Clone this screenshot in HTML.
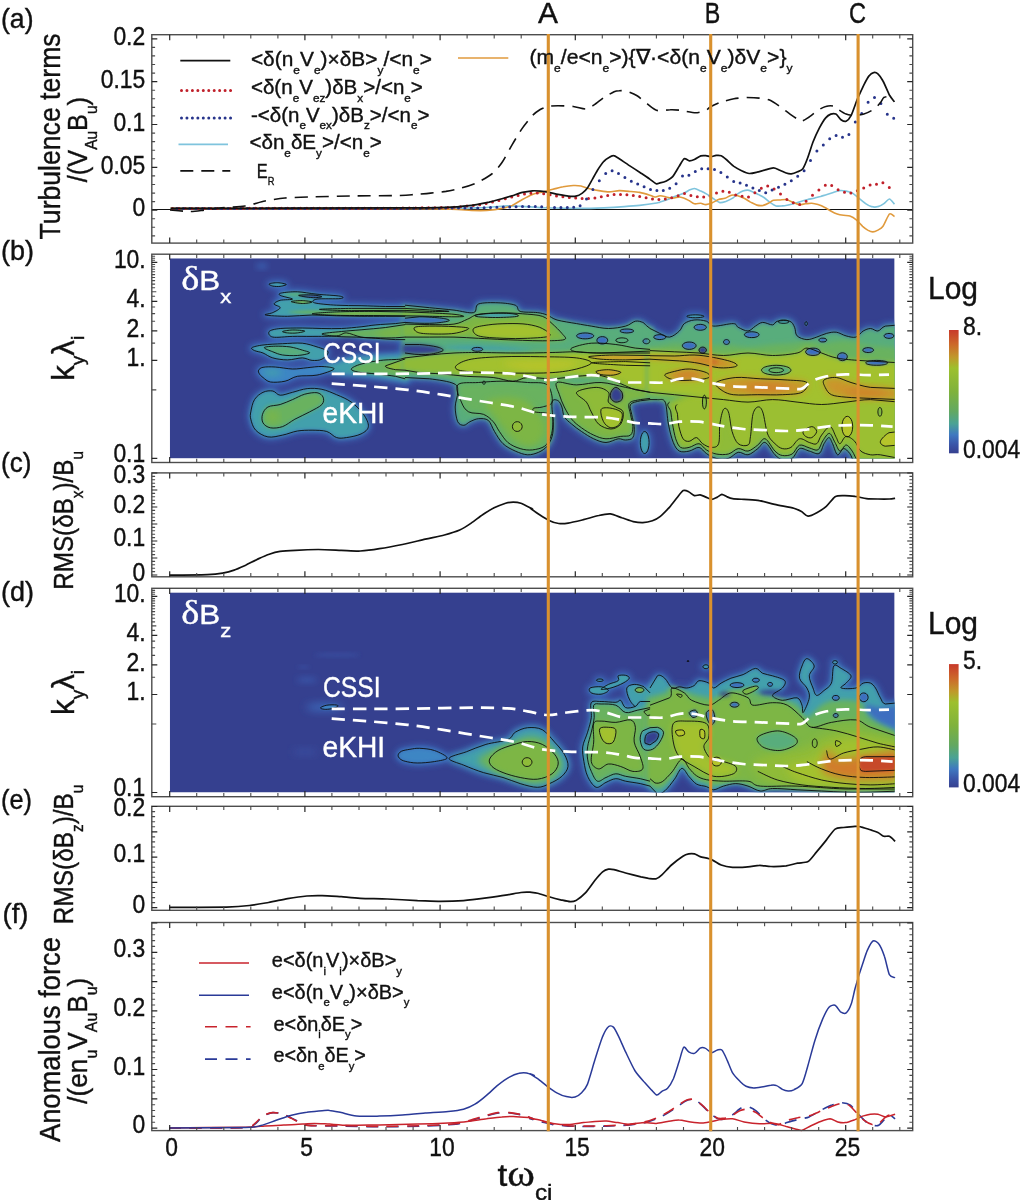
<!DOCTYPE html>
<html><head><meta charset="utf-8"><title>Figure</title>
<style>html,body{margin:0;padding:0;background:#fff}svg{display:block}text{font-family:"Liberation Sans", sans-serif;stroke-width:0.4px}</style>
</head><body>
<svg width="1020" height="1200" viewBox="0 0 1020 1200" fill="#111">
<defs>
<filter id="b05" x="-20%" y="-100%" width="140%" height="300%"><feGaussianBlur stdDeviation="0.5"/></filter>
<filter id="b08" x="-20%" y="-100%" width="140%" height="300%"><feGaussianBlur stdDeviation="0.8"/></filter>
<filter id="b1" x="-20%" y="-100%" width="140%" height="300%"><feGaussianBlur stdDeviation="1.0"/></filter>
<filter id="b15" x="-20%" y="-100%" width="140%" height="300%"><feGaussianBlur stdDeviation="1.5"/></filter>
<filter id="b2" x="-20%" y="-100%" width="140%" height="300%"><feGaussianBlur stdDeviation="2.0"/></filter>
<filter id="b25" x="-20%" y="-100%" width="140%" height="300%"><feGaussianBlur stdDeviation="2.5"/></filter>
<filter id="b3" x="-20%" y="-100%" width="140%" height="300%"><feGaussianBlur stdDeviation="3.0"/></filter>
<filter id="b35" x="-20%" y="-100%" width="140%" height="300%"><feGaussianBlur stdDeviation="3.5"/></filter>
<filter id="b4" x="-20%" y="-100%" width="140%" height="300%"><feGaussianBlur stdDeviation="4.0"/></filter>
<filter id="b5" x="-20%" y="-100%" width="140%" height="300%"><feGaussianBlur stdDeviation="5.0"/></filter>
<linearGradient id="cb" x1="0" y1="0" x2="0" y2="1"><stop offset="0" stop-color="#c8392a"/><stop offset="0.12" stop-color="#cc6a2a"/><stop offset="0.22" stop-color="#c0982b"/><stop offset="0.31" stop-color="#9dc02e"/><stop offset="0.5" stop-color="#7fb23c"/><stop offset="0.66" stop-color="#62a862"/><stop offset="0.76" stop-color="#4aa295"/><stop offset="0.85" stop-color="#3f78c0"/><stop offset="0.93" stop-color="#3a55a8"/><stop offset="1" stop-color="#36408f"/></linearGradient>
<clipPath id="cpb"><rect x="169.8" y="258.3" width="724.8" height="200.1"/></clipPath>
<clipPath id="cpd"><rect x="169.8" y="592.4" width="724.8" height="200.1"/></clipPath>
</defs>
<rect width="1020" height="1200" fill="#fff"/>
<g clip-path="url(#cpb)">
<rect x="169.8" y="258.3" width="724.8" height="200.1" fill="#35408f"/>
<g filter="url(#b3)" fill="#3c6ec0" stroke="#3c6ec0" stroke-width="5" stroke-linejoin="round">
<path d="M250.8 411.9C251.4 408.6 252.4 402.9 254.5 399.6C256.5 396.3 260 393.7 263 392.3C266.1 390.8 270 390.5 272.8 391C275.7 391.5 276.9 395 280.2 395.2C283.5 395.4 288 393.4 292.5 392.3C296.9 391.2 302.3 389.1 307.2 388.6C312.1 388.1 317 388.3 321.9 389.3C326.8 390.3 331.7 392.6 336.6 394.7C341.5 396.8 346.8 398.8 351.3 402.1C355.8 405.3 360.7 410.2 363.5 414.3C366.4 418.4 368.8 423.3 368.4 426.6C368 429.8 364.8 432.1 361.1 433.9C357.4 435.8 350.5 437 346.4 437.6C342.3 438.2 339.8 438.6 336.6 437.6C333.3 436.6 330.8 432.7 326.8 431.5C322.7 430.2 317 430.3 312.1 430.2C307.2 430.2 302.3 430.2 297.4 431C292.5 431.8 287.5 434.2 282.6 435.1C277.7 436.1 272.4 437.7 267.9 436.9C263.4 436 258.5 433.2 255.7 430.2C252.8 427.3 251.6 422.3 250.8 419.2C250 416.2 250.2 415.1 250.8 411.9Z"/>
<path d="M258.6 370.2C259.2 369.1 260.3 367.8 263 367.3C265.8 366.7 270.4 366.7 275.3 367C280.2 367.3 287.1 368.8 292.5 369C297.8 369.1 302.3 368.2 307.2 367.7C312.1 367.3 317.4 366.3 321.9 366.5C326.4 366.7 334.9 367.5 334.1 369C333.3 370.4 323.1 373.9 317 375.1C310.8 376.3 302.7 375.3 297.4 376.3C292 377.3 289.6 380.3 285.1 381.2C280.6 382.2 274.1 382.6 270.4 382C266.7 381.3 264.9 378.9 263 377.5C261.2 376.2 260.1 375.1 259.4 373.9C258.6 372.6 258 371.3 258.6 370.2Z"/>
<path d="M252 347.6C253.4 346.7 257.9 345.6 263 345C268.1 344.3 276.1 344 282.6 343.7C289.2 343.4 296.5 342.7 302.3 343.2C308 343.8 312.7 345.5 317 346.9C321.3 348.3 327.2 349.8 328 351.8C328.8 353.9 324.5 357.7 321.9 359.2C319.2 360.6 315.3 360.6 312.1 360.4C308.8 360.2 306.3 358 302.3 357.9C298.2 357.9 292.5 359.9 287.5 359.9C282.6 359.9 276.9 359.1 272.8 357.9C268.8 356.8 266.1 354.3 263 353C260 351.8 256.3 351.5 254.5 350.6C252.6 349.7 250.6 348.6 252 347.6Z"/>
<path d="M269.2 331.5C270.4 330 274.7 329.1 280.2 328.5C285.7 328 295.3 328 302.3 328C309.2 328 315.3 328.4 321.9 328.5C328.4 328.6 334.9 328.8 341.5 328.5C348 328.2 355.4 327.4 361.1 326.8C366.8 326.2 370.1 325.4 375.8 324.9C381.5 324.3 390 324 395.4 323.6L408.1 322.4L408.1 339.6L395.4 339.6C390 339.4 381.5 338.7 375.8 338.3C370.1 337.9 366 338 361.1 337.1C356.2 336.2 350.5 333.1 346.4 332.9C342.3 332.7 342.3 335.3 336.6 335.9C330.8 336.5 319.4 336.3 312.1 336.4C304.7 336.5 299 336.2 292.5 336.4C285.9 336.5 276.7 337.9 272.8 337.1C269 336.3 267.9 332.9 269.2 331.5Z"/>
<path d="M265.5 315C263 314.4 270.4 313.8 272.8 312.6C275.3 311.4 280 309.1 280.2 307.7C280.4 306.3 274.1 305.2 274.1 304C274.1 302.8 277.1 301.2 280.2 300.3C283.3 299.5 292.5 299.9 292.5 299.1C292.5 298.3 282 296.5 280.2 295.4C278.4 294.4 278.6 293.6 281.4 293C284.3 292.4 291.4 291.6 297.4 291.8C303.3 292 309.8 293.5 317 294.2C324.1 295 336.4 295.4 340.2 296.2C344.1 296.9 344.1 298.1 340.2 298.6C336.4 299.1 321.3 298.4 317 299.1C312.7 299.8 311.2 301.8 314.5 302.8C317.8 303.8 328.8 304.8 336.6 305.2C344.3 305.7 352.9 305.5 361.1 305.7C369.2 305.9 377.7 306.3 385.6 306.5L408.1 306.5L408.1 316.3L385.6 316.3C377.7 316.3 369.2 316.4 361.1 316.3C352.9 316.2 344.7 316 336.6 315.8C328.4 315.6 320.2 315 312.1 315C303.9 315.1 295.3 316.3 287.5 316.3C279.8 316.3 267.9 315.7 265.5 315Z"/>
<path d="M269.2 283.9C270 283.3 274.9 282.6 277.7 282.7C280.6 282.8 285.9 283.8 286.3 284.4C286.7 285 282.4 286.1 280.2 286.4C277.9 286.7 274.7 286.5 272.8 286.1C271 285.7 268.3 284.5 269.2 283.9Z"/>
<path d="M321.9 366.5C321.9 364.8 331.7 364.3 336.6 362.8C341.5 361.4 345.6 359.1 351.3 357.9C357 356.8 364.3 356.5 370.9 356C377.4 355.5 384.3 355.3 390.5 355L408.1 354.3L408.1 382L385.6 378.3C377.7 377.2 369.2 376.4 361.1 375.6C352.9 374.7 343.1 374.6 336.6 373.1C330 371.6 321.9 368.2 321.9 366.5Z"/>
<path d="M402.1 305.2L429.5 307.7C438.2 308.5 446.7 309.3 454 310.1C461.4 311 469.5 313.6 473.6 312.6C477.7 311.6 474.4 305.7 478.5 304C482.6 302.4 492 302.6 498.1 302.8C504.3 303 511.6 303.8 515.3 305.2C519 306.7 516.5 310.1 520.2 311.4C523.9 312.6 532.9 312 537.4 312.6C541.8 313.2 543.9 313.8 547.2 315C550.4 316.3 552.1 318.5 557 320C561.9 321.4 570.8 322.6 576.6 323.6C582.3 324.6 586 325.3 591.3 326.1C596.6 326.9 602.7 328.5 608.4 328.5C614.2 328.5 621.1 327.3 625.6 326.1C630.1 324.9 632.5 321.8 635.4 321.2C638.3 320.6 640.9 321.7 642.7 322.4C644.6 323.1 644.7 324.6 646.4 325.6L653 328.5L653 399.6L640.3 400.8C636.5 401.7 631.9 402.3 630.5 404.5C629.1 406.8 631.1 410.6 631.7 414.3C632.3 418 634 422.7 634.2 426.6C634.4 430.4 634.4 435.4 632.9 437.6C631.5 439.8 628 439.8 625.6 440C623.1 440.3 621.5 438.4 618.2 438.8C615 439.2 610.1 442.5 606 442.5C601.9 442.5 597.8 440.7 593.7 438.8C589.6 437 585.1 433.9 581.5 431.5C577.8 429 574.5 426.6 571.7 424.1C568.8 421.7 565.9 419.6 564.3 416.8C562.7 413.9 562.9 409.6 561.9 407C560.8 404.3 559.8 401.7 558.2 400.8C556.6 400 552.9 398.2 552.1 402.1C551.2 405.9 553.3 418.4 553.3 424.1C553.3 429.8 553.1 432.7 552.1 436.4C551 440 549.4 443.5 547.2 446.2C544.9 448.8 541.8 450.9 538.6 452.3C535.3 453.7 531.4 455 527.5 454.8C523.7 454.6 519.4 452.9 515.3 451.1C511.2 449.2 506.5 447 503 443.7C499.6 440.5 496.9 435.4 494.5 431.5C492 427.6 491 422.6 488.3 420.4C485.7 418.3 481.6 418.5 478.5 418.7C475.5 418.9 472.4 420.6 470 421.7C467.5 422.8 465.9 425.3 463.8 425.3C461.8 425.3 459.1 424.7 457.7 421.7C456.3 418.6 455.2 411.9 455.2 407C455.2 402.1 457.9 396.1 457.7 392.3C457.5 388.4 458.7 385.9 454 383.7C449.3 381.4 438.2 379.8 429.5 378.8L402.1 377.5L402.1 305.2Z"/>
<path d="M649.1 442.5C649.1 444.3 648.9 446.4 648.5 448C648.2 449.6 647.5 451.1 646.9 452.1C646.3 453 645.4 453.5 644.7 453.5C644 453.5 643.1 453 642.5 452.1C641.9 451.1 641.3 449.6 640.9 448C640.5 446.4 640.3 444.3 640.3 442.5C640.3 440.7 640.5 438.6 640.9 437C641.3 435.4 641.9 433.9 642.5 432.9C643.1 432 644 431.5 644.7 431.5C645.4 431.5 646.3 432 646.9 432.9C647.5 433.9 648.2 435.4 648.5 437C648.9 438.6 649.1 440.7 649.1 442.5Z"/>
<path d="M647.1 328.5L659.8 333.4C663.6 334.9 666.3 337.5 669.6 337.1C672.9 336.7 677 333.2 679.4 331C681.9 328.7 681.9 325.5 684.3 323.6C686.8 321.8 690.4 320.4 694.1 320C697.8 319.5 703.1 320.2 706.4 321.2C709.6 322.2 709.2 325.7 713.7 326.1C718.2 326.5 729.2 323.4 733.3 323.6C737.4 323.8 735.8 326.1 738.2 327.3C740.7 328.5 745.2 331.2 748 331C750.9 330.8 752.9 327.5 755.4 326.1C757.8 324.6 759.9 322.6 762.7 322.4C765.6 322.2 770.1 325.1 772.5 324.9C775 324.6 774.6 321.8 777.5 321.2C780.3 320.6 786.8 320.2 789.7 321.2C792.6 322.2 793.4 324.9 794.6 327.3C795.8 329.8 795 333.8 797.1 335.9C799.1 337.9 803.6 339.4 806.9 339.6C810.1 339.8 813.4 338.1 816.7 337.1C819.9 336.1 823.2 334.2 826.5 333.4C829.7 332.6 833 331.8 836.3 332.2C839.5 332.6 842.8 335.1 846.1 335.9C849.3 336.7 853 337.9 855.9 337.1C858.7 336.3 860.8 332.4 863.2 331C865.7 329.6 868.1 328.5 870.6 328.5C873 328.5 875.5 331.4 877.9 331C880.4 330.6 881.7 327.1 885.3 326.1L899.5 324.9L899.5 465.8L870.6 465.8C863.3 465.4 859.4 465.4 855.9 463.3C852.4 461.3 851.8 456 849.8 453.5C847.7 451.1 845.7 448.4 843.6 448.6C841.6 448.8 839.3 455.6 837.5 454.8C835.7 453.9 834 446.6 832.6 443.7C831.2 440.9 830.4 437.6 828.9 437.6C827.5 437.6 825.7 441.1 824 443.7C822.4 446.4 821.6 452.3 819.1 453.5C816.7 454.8 812.6 451.9 809.3 451.1C806 450.3 802.4 447.4 799.5 448.6C796.7 449.9 795 456.6 792.2 458.4C789.3 460.3 785.2 460.3 782.4 459.7C779.5 459 777.9 457.6 775 454.8C772.1 451.9 768.1 443.5 765.2 442.5C762.3 441.5 760.7 446.6 757.8 448.6C755 450.7 751.3 454.1 748 454.8C744.8 455.4 741.5 451.7 738.2 452.3C735 452.9 732.1 457.4 728.4 458.4C724.8 459.5 719.9 459.2 716.2 458.4C712.5 457.6 709.2 455.4 706.4 453.5C703.5 451.7 701.9 447.8 699 447.4C696.2 447 692.5 450.5 689.2 451.1C685.9 451.7 682.1 452.5 679.4 451.1C676.8 449.6 675.1 447 673.3 442.5C671.4 438 669.7 430.9 668.4 424.1C667 417.4 667 406.1 665.2 402.1C663.4 398 660.4 400 657.4 399.6L647.1 399.6L647.1 328.5Z"/>
<path d="M789 321.7C789 322 788.6 322.4 787.9 322.7C787.3 322.9 786.2 323.2 785.2 323.3C784.2 323.4 782.9 323.4 781.9 323.3C780.9 323.2 779.8 322.9 779.2 322.7C778.6 322.4 778.2 322 778.2 321.7C778.2 321.3 778.6 320.9 779.2 320.7C779.8 320.4 780.9 320.1 781.9 320C782.9 319.9 784.2 319.9 785.2 320C786.2 320.1 787.3 320.4 787.9 320.7C788.6 320.9 789 321.3 789 321.7Z"/>
<path d="M703.9 316.3C703.9 316.6 703.3 316.9 702.3 317.1C701.3 317.4 699.6 317.6 698 317.7C696.4 317.8 694.3 317.8 692.7 317.7C691.1 317.6 689.4 317.4 688.4 317.1C687.4 316.9 686.8 316.6 686.8 316.3C686.8 316 687.4 315.6 688.4 315.4C689.4 315.2 691.1 315 692.7 314.9C694.3 314.8 696.4 314.8 698 314.9C699.6 315 701.3 315.2 702.3 315.4C703.3 315.6 703.9 316 703.9 316.3Z"/>
</g>
<path d="M250.8 411.9C251.4 408.6 252.4 402.9 254.5 399.6C256.5 396.3 260 393.7 263 392.3C266.1 390.8 270 390.5 272.8 391C275.7 391.5 276.9 395 280.2 395.2C283.5 395.4 288 393.4 292.5 392.3C296.9 391.2 302.3 389.1 307.2 388.6C312.1 388.1 317 388.3 321.9 389.3C326.8 390.3 331.7 392.6 336.6 394.7C341.5 396.8 346.8 398.8 351.3 402.1C355.8 405.3 360.7 410.2 363.5 414.3C366.4 418.4 368.8 423.3 368.4 426.6C368 429.8 364.8 432.1 361.1 433.9C357.4 435.8 350.5 437 346.4 437.6C342.3 438.2 339.8 438.6 336.6 437.6C333.3 436.6 330.8 432.7 326.8 431.5C322.7 430.2 317 430.3 312.1 430.2C307.2 430.2 302.3 430.2 297.4 431C292.5 431.8 287.5 434.2 282.6 435.1C277.7 436.1 272.4 437.7 267.9 436.9C263.4 436 258.5 433.2 255.7 430.2C252.8 427.3 251.6 422.3 250.8 419.2C250 416.2 250.2 415.1 250.8 411.9Z" fill="#43a0ac" filter="url(#b2)"/>
<path d="M262.5 414.3C263.4 411.7 265 408.6 267.9 407C270.9 405.3 276.1 405.7 280.2 404.5C284.3 403.3 288.4 401.3 292.5 399.6C296.5 397.9 300.6 395.4 304.7 394.2C308.8 393.1 313.9 392.3 317 392.7C320 393.2 322.3 395.2 323.1 397.2C323.9 399.1 324.1 402.1 321.9 404.5C319.6 407 314.1 409.4 309.6 411.9C305.1 414.3 299.4 416.8 294.9 419.2C290.4 421.7 286.7 425.1 282.6 426.6C278.6 428 273.7 428.4 270.4 427.8C267.1 427.2 264.3 425.1 263 422.9C261.7 420.6 261.7 417 262.5 414.3Z" fill="#69b25e" filter="url(#b2)"/>
<path d="M279 416.8C279 417.8 278.5 419.1 277.8 419.9C277.1 420.8 275.9 421.6 274.7 421.9C273.6 422.2 272.1 422.2 270.9 421.9C269.8 421.6 268.6 420.8 267.9 419.9C267.2 419.1 266.7 417.8 266.7 416.8C266.7 415.7 267.2 414.4 267.9 413.6C268.6 412.7 269.8 412 270.9 411.6C272.1 411.3 273.6 411.3 274.7 411.6C275.9 412 277.1 412.7 277.8 413.6C278.5 414.4 279 415.7 279 416.8Z" fill="#7db644" filter="url(#b4)"/>
<path d="M258.6 370.2C259.2 369.1 260.3 367.8 263 367.3C265.8 366.7 270.4 366.7 275.3 367C280.2 367.3 287.1 368.8 292.5 369C297.8 369.1 302.3 368.2 307.2 367.7C312.1 367.3 317.4 366.3 321.9 366.5C326.4 366.7 334.9 367.5 334.1 369C333.3 370.4 323.1 373.9 317 375.1C310.8 376.3 302.7 375.3 297.4 376.3C292 377.3 289.6 380.3 285.1 381.2C280.6 382.2 274.1 382.6 270.4 382C266.7 381.3 264.9 378.9 263 377.5C261.2 376.2 260.1 375.1 259.4 373.9C258.6 372.6 258 371.3 258.6 370.2Z" fill="#3d86c4" filter="url(#b15)"/>
<path d="M263 371.4C264.1 370.5 269.6 369.6 272.8 369.7C276.1 369.8 282.2 371.2 282.6 372.2C283.1 373.1 277.9 375.1 275.3 375.6C272.6 376.1 268.8 375.8 266.7 375.1C264.7 374.4 262 372.3 263 371.4Z" fill="#43a0ac" filter="url(#b3)"/>
<path d="M252 347.6C253.4 346.7 257.9 345.6 263 345C268.1 344.3 276.1 344 282.6 343.7C289.2 343.4 296.5 342.7 302.3 343.2C308 343.8 312.7 345.5 317 346.9C321.3 348.3 327.2 349.8 328 351.8C328.8 353.9 324.5 357.7 321.9 359.2C319.2 360.6 315.3 360.6 312.1 360.4C308.8 360.2 306.3 358 302.3 357.9C298.2 357.9 292.5 359.9 287.5 359.9C282.6 359.9 276.9 359.1 272.8 357.9C268.8 356.8 266.1 354.3 263 353C260 351.8 256.3 351.5 254.5 350.6C252.6 349.7 250.6 348.6 252 347.6Z" fill="#43a0ac" filter="url(#b15)"/>
<path d="M264.3 347.6C264.7 346.7 271 346.3 275.3 346.2C279.6 346.1 285.5 346.3 290 346.9C294.5 347.6 299 349.1 302.3 350.1C305.5 351.1 310.4 352.1 309.6 353C308.8 353.9 301.8 355.2 297.4 355.5C292.9 355.8 286.7 355.6 282.6 355C278.6 354.4 275.9 353 272.8 351.8C269.8 350.6 263.9 348.6 264.3 347.6Z" fill="#58ad7c" filter="url(#b15)"/>
<path d="M269.2 331.5C270.4 330 274.7 329.1 280.2 328.5C285.7 328 295.3 328 302.3 328C309.2 328 315.3 328.4 321.9 328.5C328.4 328.6 334.9 328.8 341.5 328.5C348 328.2 355.4 327.4 361.1 326.8C366.8 326.2 370.1 325.4 375.8 324.9C381.5 324.3 390 324 395.4 323.6L408.1 322.4L408.1 339.6L395.4 339.6C390 339.4 381.5 338.7 375.8 338.3C370.1 337.9 366 338 361.1 337.1C356.2 336.2 350.5 333.1 346.4 332.9C342.3 332.7 342.3 335.3 336.6 335.9C330.8 336.5 319.4 336.3 312.1 336.4C304.7 336.5 299 336.2 292.5 336.4C285.9 336.5 276.7 337.9 272.8 337.1C269 336.3 267.9 332.9 269.2 331.5Z" fill="#43a0ac" filter="url(#b15)"/>
<path d="M321.9 333.9C322.7 333.1 334.9 332.2 341.5 331.5C348 330.8 353.7 330.4 361.1 329.8C368.4 329.1 377.7 328.4 385.6 327.5L408.1 324.6L408.1 337.1L395.4 337.8C390 338 382.3 338 375.8 337.8C369.2 337.7 362.7 337.4 356.2 337.1C349.6 336.9 342.3 336.9 336.6 336.4C330.8 335.8 321 334.7 321.9 333.9Z" fill="#69b25e" filter="url(#b15)"/>
<path d="M375.8 332.9C376.6 331.8 385.1 330.3 390.5 329.3L408.1 326.6L408.1 335.9L385.6 336.4C380.2 335.9 375 334.1 375.8 332.9Z" fill="#7db644" filter="url(#b3)"/>
<path d="M282.6 331.5C283.5 331 288.8 330.1 292.5 330C296.1 329.9 303.9 330.5 304.7 331C305.5 331.5 300.2 332.6 297.4 332.9C294.5 333.3 290 333.2 287.5 332.9C285.1 332.7 281.8 332 282.6 331.5Z" fill="#58ad7c" filter="url(#b15)"/>
<path d="M265.5 315C263 314.4 270.4 313.8 272.8 312.6C275.3 311.4 280 309.1 280.2 307.7C280.4 306.3 274.1 305.2 274.1 304C274.1 302.8 277.1 301.2 280.2 300.3C283.3 299.5 292.5 299.9 292.5 299.1C292.5 298.3 282 296.5 280.2 295.4C278.4 294.4 278.6 293.6 281.4 293C284.3 292.4 291.4 291.6 297.4 291.8C303.3 292 309.8 293.5 317 294.2C324.1 295 336.4 295.4 340.2 296.2C344.1 296.9 344.1 298.1 340.2 298.6C336.4 299.1 321.3 298.4 317 299.1C312.7 299.8 311.2 301.8 314.5 302.8C317.8 303.8 328.8 304.8 336.6 305.2C344.3 305.7 352.9 305.5 361.1 305.7C369.2 305.9 377.7 306.3 385.6 306.5L408.1 306.5L408.1 316.3L385.6 316.3C377.7 316.3 369.2 316.4 361.1 316.3C352.9 316.2 344.7 316 336.6 315.8C328.4 315.6 320.2 315 312.1 315C303.9 315.1 295.3 316.3 287.5 316.3C279.8 316.3 267.9 315.7 265.5 315Z" fill="#43a0ac" filter="url(#b15)"/>
<path d="M312.1 313.8C312.1 313.3 326.4 312.3 336.6 311.9C346.8 311.5 361.4 311.4 373.3 311.4L408.1 311.9L408.1 315.8L373.3 315.5C361.4 315.5 346.8 315.6 336.6 315.3C326.4 315 312.1 314.4 312.1 313.8Z" fill="#7db644" filter="url(#b1)"/>
<path d="M319.4 309.4C319.4 309 336.5 308.6 351.3 308.4L408.1 308.4L408.1 310.4L351.3 310.6C336.5 310.5 319.4 309.8 319.4 309.4Z" fill="#7db644" filter="url(#b1)"/>
<path d="M287.5 311.9C287.5 311.3 303.9 310.4 312.1 310.4C320.2 310.4 336.6 311.3 336.6 311.9C336.6 312.4 320.2 313.8 312.1 313.8C303.9 313.8 287.5 312.4 287.5 311.9Z" fill="#69b25e" filter="url(#b15)"/>
<path d="M282.6 294.2C282.6 293.6 291.6 292.6 297.4 292.7C303.1 292.9 317 294.4 317 295C317 295.5 303.1 296.3 297.4 296.2C291.6 296.1 282.6 294.8 282.6 294.2Z" fill="#58ad7c" filter="url(#b15)"/>
<path d="M298.6 295.4C298.6 295 308.2 294.7 312.1 295C315.9 295.2 321.9 296.2 321.9 296.7C321.9 297.1 315.9 297.9 312.1 297.6C308.2 297.4 298.6 295.9 298.6 295.4Z" fill="#35408f" filter="url(#b1)"/>
<path d="M291.2 301.6C291.2 301.1 298.8 300.5 302.3 300.6C305.7 300.7 312.1 301.6 312.1 302.1C312.1 302.5 305.7 303.6 302.3 303.5C298.8 303.4 291.2 302.1 291.2 301.6Z" fill="#7db644" filter="url(#b1)"/>
<path d="M269.2 283.9C270 283.3 274.9 282.6 277.7 282.7C280.6 282.8 285.9 283.8 286.3 284.4C286.7 285 282.4 286.1 280.2 286.4C277.9 286.7 274.7 286.5 272.8 286.1C271 285.7 268.3 284.5 269.2 283.9Z" fill="#43a0ac" filter="url(#b1)"/>
<path d="M267.9 266C267.9 266.4 267.5 266.9 266.8 267.2C266.1 267.5 264.8 267.8 263.7 267.9C262.6 268 261.1 268 259.9 267.9C258.8 267.8 257.6 267.5 256.9 267.2C256.2 266.9 255.7 266.4 255.7 266C255.7 265.6 256.2 265.2 256.9 264.9C257.6 264.6 258.8 264.3 259.9 264.2C261.1 264 262.6 264 263.7 264.2C264.8 264.3 266.1 264.6 266.8 264.9C267.5 265.2 267.9 265.6 267.9 266Z" fill="#3c6ec0" filter="url(#b3)"/>
<path d="M321.9 366.5C321.9 364.8 331.7 364.3 336.6 362.8C341.5 361.4 345.6 359.1 351.3 357.9C357 356.8 364.3 356.5 370.9 356C377.4 355.5 384.3 355.3 390.5 355L408.1 354.3L408.1 382L385.6 378.3C377.7 377.2 369.2 376.4 361.1 375.6C352.9 374.7 343.1 374.6 336.6 373.1C330 371.6 321.9 368.2 321.9 366.5Z" fill="#43a0ac" filter="url(#b25)"/>
<path d="M351.3 369C351.7 367.6 356.2 365.5 361.1 364.1C366 362.6 374.2 361.2 380.7 360.4C387.2 359.6 395.7 359.6 400.3 359.2L408.1 357.9L408.1 378.8L395.4 376.3C390 375.5 381.9 374.6 375.8 373.9C369.7 373.2 362.7 373 358.6 372.2C354.5 371.3 350.9 370.3 351.3 369Z" fill="#69b25e" filter="url(#b15)"/>
<path d="M385.6 365.8L408.1 358.9L408.1 370.2L395.4 369.7C391.6 369 383.5 367.6 385.6 365.8Z" fill="#8fbb38" filter="url(#b15)"/>
<path d="M402.1 305.2L429.5 307.7C438.2 308.5 446.7 309.3 454 310.1C461.4 311 469.5 313.6 473.6 312.6C477.7 311.6 474.4 305.7 478.5 304C482.6 302.4 492 302.6 498.1 302.8C504.3 303 511.6 303.8 515.3 305.2C519 306.7 516.5 310.1 520.2 311.4C523.9 312.6 532.9 312 537.4 312.6C541.8 313.2 543.9 313.8 547.2 315C550.4 316.3 552.1 318.5 557 320C561.9 321.4 570.8 322.6 576.6 323.6C582.3 324.6 586 325.3 591.3 326.1C596.6 326.9 602.7 328.5 608.4 328.5C614.2 328.5 621.1 327.3 625.6 326.1C630.1 324.9 632.5 321.8 635.4 321.2C638.3 320.6 640.9 321.7 642.7 322.4C644.6 323.1 644.7 324.6 646.4 325.6L653 328.5L653 399.6L640.3 400.8C636.5 401.7 631.9 402.3 630.5 404.5C629.1 406.8 631.1 410.6 631.7 414.3C632.3 418 634 422.7 634.2 426.6C634.4 430.4 634.4 435.4 632.9 437.6C631.5 439.8 628 439.8 625.6 440C623.1 440.3 621.5 438.4 618.2 438.8C615 439.2 610.1 442.5 606 442.5C601.9 442.5 597.8 440.7 593.7 438.8C589.6 437 585.1 433.9 581.5 431.5C577.8 429 574.5 426.6 571.7 424.1C568.8 421.7 565.9 419.6 564.3 416.8C562.7 413.9 562.9 409.6 561.9 407C560.8 404.3 559.8 401.7 558.2 400.8C556.6 400 552.9 398.2 552.1 402.1C551.2 405.9 553.3 418.4 553.3 424.1C553.3 429.8 553.1 432.7 552.1 436.4C551 440 549.4 443.5 547.2 446.2C544.9 448.8 541.8 450.9 538.6 452.3C535.3 453.7 531.4 455 527.5 454.8C523.7 454.6 519.4 452.9 515.3 451.1C511.2 449.2 506.5 447 503 443.7C499.6 440.5 496.9 435.4 494.5 431.5C492 427.6 491 422.6 488.3 420.4C485.7 418.3 481.6 418.5 478.5 418.7C475.5 418.9 472.4 420.6 470 421.7C467.5 422.8 465.9 425.3 463.8 425.3C461.8 425.3 459.1 424.7 457.7 421.7C456.3 418.6 455.2 411.9 455.2 407C455.2 402.1 457.9 396.1 457.7 392.3C457.5 388.4 458.7 385.9 454 383.7C449.3 381.4 438.2 379.8 429.5 378.8L402.1 377.5L402.1 305.2Z" fill="#58ad7c" filter="url(#b2)"/>
<path d="M402.1 324.1L429.5 324.6C438.2 324.6 447.7 325 454 324.1C460.4 323.2 463.4 320.8 467.5 319.2C471.6 317.6 472.6 315.4 478.5 314.3C484.5 313.3 495.7 312.9 503 312.8C510.4 312.8 516.1 313.3 522.6 313.8C529.2 314.4 537.4 314.6 542.3 316.3C547.2 317.9 548.8 320.8 552.1 323.6C555.3 326.5 559.8 330.8 561.9 333.4C563.9 336.1 567.6 338.3 564.3 339.6C561 340.8 549.2 340.7 542.3 340.8C535.3 340.9 529.2 340.5 522.6 340.3C516.1 340.1 510.4 339.9 503 339.6C495.7 339.2 486.7 338.7 478.5 338.3C470.4 337.9 462.2 337.3 454 337.1C445.8 336.9 438.2 337.1 429.5 337.1L402.1 337.1L402.1 324.1Z" fill="#7db644" filter="url(#b2)"/>
<path d="M473.6 328.5C475.3 326.7 482.6 325.7 488.3 324.9C494.1 324 501.4 323.7 507.9 323.6C514.5 323.5 521.8 323.5 527.5 324.4C533.3 325.2 538.6 326.6 542.3 328.5C545.9 330.4 552.1 334.2 549.6 335.9C547.2 337.5 535.3 337.9 527.5 338.3C519.8 338.7 511.2 338.7 503 338.3C494.9 337.9 483.4 337.5 478.5 335.9C473.6 334.2 472 330.4 473.6 328.5Z" fill="#a3c12f" filter="url(#b2)"/>
<path d="M414.8 327.3C416.8 326.3 423 326.2 429.5 326.1C436 326 447.5 326.2 454 326.6C460.6 327 468.7 327.4 468.7 328.5C468.7 329.7 460.6 332.5 454 333.4C447.5 334.3 435.6 334.1 429.5 333.9C423.4 333.7 419.7 333.3 417.3 332.2C414.8 331.1 412.8 328.3 414.8 327.3Z" fill="#a3c12f" filter="url(#b2)"/>
<path d="M402.1 311.9L429.5 312.8C438.2 313.3 448.3 313.7 454 314.3C459.7 314.9 463.8 315.9 463.8 316.3C463.8 316.7 459.7 316.8 454 316.8C448.3 316.8 438.2 316.4 429.5 316.3L402.1 315.8L402.1 311.9Z" fill="#7db644" filter="url(#b1)"/>
<path d="M402.1 308.4L429.5 309.9C437.4 310.4 449.1 311.1 449.1 311.4C449.1 311.6 437.4 311.5 429.5 311.4L402.1 310.4L402.1 308.4Z" fill="#7db644" filter="url(#b1)"/>
<path d="M402.1 318.2L419.7 316.8C426.3 316.8 436.9 317.6 441.8 318.2C446.7 318.9 450.3 319.9 449.1 320.7C447.9 321.5 440.1 322.7 434.4 323.1C428.7 323.5 420.2 323.3 414.8 323.1L402.1 322.4L402.1 318.2Z" fill="#3c6ec0" filter="url(#b15)"/>
<path d="M476.1 315C478.5 314.5 487.1 313.5 493.2 313.3C499.4 313.1 508.8 313.3 512.8 313.8C516.9 314.3 520.2 315.7 517.7 316.3C515.3 316.9 504.7 317.4 498.1 317.5C491.6 317.6 482.2 317.2 478.5 316.8C474.9 316.4 473.6 315.6 476.1 315Z" fill="#43a0ac" filter="url(#b1)"/>
<path d="M441.8 346.9C441.8 346 458.1 345.8 466.3 345.7C474.4 345.6 482.6 345.8 490.8 346.2C499 346.6 508.3 347.4 515.3 348.1C522.2 348.9 532.5 349.9 532.5 350.6C532.5 351.3 522.2 352.3 515.3 352.5C508.3 352.8 499 352.1 490.8 351.8C482.6 351.6 474.4 351.9 466.3 351.1C458.1 350.3 441.8 347.8 441.8 346.9Z" fill="#43a0ac" filter="url(#b25)"/>
<path d="M402.1 344.5L419.7 344.5C425.5 344.9 433 345.9 436.9 346.9C440.7 347.9 444.2 349.4 443 350.6C441.8 351.8 434.2 353.7 429.5 354.3C424.8 354.9 419.4 354.5 414.8 354.3L402.1 353L402.1 344.5Z" fill="#35408f" filter="url(#b2)"/>
<path d="M482.7 349.4C482.7 349.7 482.3 350.2 481.7 350.5C481 350.8 480 351.1 479 351.2C478 351.3 476.6 351.3 475.6 351.2C474.6 351.1 473.6 350.8 472.9 350.5C472.3 350.2 471.9 349.7 471.9 349.4C471.9 349 472.3 348.5 472.9 348.2C473.6 347.9 474.6 347.6 475.6 347.5C476.6 347.4 478 347.4 479 347.5C480 347.6 481 347.9 481.7 348.2C482.3 348.5 482.7 349 482.7 349.4Z" fill="#3c6ec0" filter="url(#b1)"/>
<path d="M402.1 357.9L429.5 355C438.2 354.2 445.8 353.4 454 353C462.2 352.6 468.3 352.5 478.5 352.5C488.7 352.5 503 353 515.3 353C527.5 353 541.8 352.8 552.1 352.5C562.3 352.3 568.4 351.7 576.6 351.8C584.7 351.9 588.3 353.2 601.1 353L653 351.1L653 392.3L635.4 389.8C630 388.4 626.4 386 620.7 383.7C615 381.3 608.4 376.8 601.1 375.6C593.7 374.4 584.7 375.8 576.6 376.3C568.4 376.9 560.2 378.6 552.1 378.8C543.9 379 534.1 377.1 527.5 377.5C521 378 518.6 381.2 512.8 381.2C507.1 381.2 501 378.4 493.2 377.5C485.5 376.7 474.9 376.9 466.3 376.3C457.7 375.7 449.5 374.5 441.8 373.9C434 373.3 426.3 373.3 419.7 372.6L402.1 370.2L402.1 357.9Z" fill="#8fbb38" filter="url(#b2)"/>
<path d="M571.7 355.5C577.8 352.3 599.8 354.1 613.3 353.5L653 352.1L653 391L635.4 387.4C630 385.7 626.4 383.3 620.7 381.2C615 379.1 608.4 376 601.1 374.6C593.7 373.2 581.5 375.8 576.6 372.6C571.7 369.5 565.5 358.7 571.7 355.5Z" fill="#a3c12f" filter="url(#b3)"/>
<path d="M456.5 365.3C458.5 363.5 463.4 360.6 471.2 359.2C478.9 357.7 491.6 357.1 503 356.7C514.5 356.3 527.5 356.5 539.8 356.7C552.1 356.9 568 356.9 576.6 357.9C585.1 359 591.3 361 591.3 362.8C591.3 364.7 583.1 367.3 576.6 369C570 370.6 562.3 372 552.1 372.6C541.8 373.3 527.5 373.2 515.3 373.1C503 373.1 487.9 372.6 478.5 372.2C469.1 371.7 462.6 371.3 458.9 370.2C455.2 369.1 454.4 367.1 456.5 365.3Z" fill="#a3c12f" filter="url(#b2)"/>
<path d="M503 362.8C505.1 361.2 527.5 360.6 539.8 360.4C552.1 360.2 572.5 360.2 576.6 361.6C580.7 363 572.5 367.5 564.3 369C556.1 370.4 537.8 371.2 527.5 370.2C517.3 369.2 501 364.5 503 362.8Z" fill="#b6c42c" filter="url(#b3)"/>
<path d="M588.8 356.7C590.9 356 602.6 355.2 613.3 355L653 355.5L653 359.2L625.6 359.9C616.9 359.9 607.2 359.7 601.1 359.2C595 358.6 586.8 357.4 588.8 356.7Z" fill="#cfa02b" filter="url(#b15)"/>
<path d="M596.2 371.4C597.4 370.6 604.3 369.6 608.4 369.7C612.5 369.8 619.9 371.3 620.7 372.2C621.5 373.1 616.6 374.7 613.3 375.1C610.1 375.5 603.9 375.2 601.1 374.6C598.2 374 595 372.2 596.2 371.4Z" fill="#cfa02b" filter="url(#b15)"/>
<path d="M591.3 362.8C591.3 362.2 615.3 361.6 625.6 361.6L653 362.8L653 365.8L625.6 365.3C615.3 364.8 591.3 363.5 591.3 362.8Z" fill="#b6c42c" filter="url(#b15)"/>
<path d="M457.7 384.9C460.6 381.6 471 383.1 478.5 382.5C486.1 381.8 494.9 381.2 503 381.2C511.2 381.2 520.2 381.8 527.5 382.5C534.9 383.1 543.1 381.6 547.2 384.9C551.2 388.2 552.9 398.4 552.1 402.1C551.2 405.7 545.3 405.9 542.3 407C539.2 408 534.9 407.4 533.7 408.2C532.5 409 532 410.8 534.9 411.9C537.8 412.9 547.9 412.3 550.8 414.3C553.8 416.4 552.8 420.4 552.8 424.1C552.8 427.8 552.2 432.7 550.8 436.4C549.5 440 547.8 443.9 544.7 446.2C541.6 448.4 536.5 449.4 532.5 449.9C528.4 450.3 524.3 449.9 520.2 448.6C516.1 447.4 511.4 445.4 507.9 442.5C504.5 439.6 501.8 434.9 499.4 431.5C496.9 428 495.9 424.5 493.2 421.7C490.6 418.8 487.5 415.9 483.4 414.3C479.3 412.7 472.4 413.9 468.7 411.9C465 409.8 463.2 406.6 461.4 402.1C459.5 397.6 454.8 388.2 457.7 384.9Z" fill="#69b25e" filter="url(#b3)"/>
<path d="M485.9 402.1C487.5 399.2 496.9 397.6 503 397.2C509.2 396.7 516.9 397.2 522.6 399.6C528.4 402.1 533.7 407.4 537.4 411.9C541 416.4 544.3 421.7 544.7 426.6C545.1 431.5 542.7 438 539.8 441.3C536.9 444.5 532 446.6 527.5 446.2C523.1 445.8 516.9 442.1 512.8 438.8C508.8 435.6 506.3 430.7 503 426.6C499.8 422.5 496.1 418.4 493.2 414.3C490.4 410.2 484.2 404.9 485.9 402.1Z" fill="#7db644" filter="url(#b3)"/>
<path d="M522.2 426.6C522.2 427.5 521.8 428.7 521.2 429.4C520.7 430.2 519.7 430.9 518.8 431.2C517.9 431.5 516.7 431.5 515.7 431.2C514.8 430.9 513.9 430.2 513.3 429.4C512.7 428.7 512.4 427.5 512.4 426.6C512.4 425.6 512.7 424.5 513.3 423.7C513.9 422.9 514.8 422.2 515.7 421.9C516.7 421.6 517.9 421.6 518.8 421.9C519.7 422.2 520.7 422.9 521.2 423.7C521.8 424.5 522.2 425.6 522.2 426.6Z" fill="#8fbb38" filter="url(#b1)"/>
<path d="M485.4 382.7C485.4 383 485.2 383.5 485 383.7C484.7 384 484.3 384.2 483.9 384.2C483.6 384.2 483.1 384 482.9 383.7C482.6 383.5 482.5 383 482.5 382.7C482.5 382.3 482.6 381.9 482.9 381.7C483.1 381.4 483.6 381.2 483.9 381.2C484.3 381.2 484.7 381.4 485 381.7C485.2 381.9 485.4 382.3 485.4 382.7Z" fill="#58ad7c" filter="url(#b08)"/>
<path d="M557 382.5C559.8 380.8 569.2 384.9 576.6 384.9C583.9 384.9 592.9 382 601.1 382.5C609.2 382.9 616.9 385.7 625.6 387.4L653 392.3L653 398.4L640.3 399.6C636.3 400.4 630.9 400.8 629.3 403.3C627.6 405.7 629.9 410.4 630.5 414.3C631.1 418.2 632.9 423.1 632.9 426.6C632.9 430 632.5 433.5 630.5 435.1C628.4 436.8 624.8 435.8 620.7 436.4C616.6 437 610.5 439 606 438.8C601.5 438.6 597.8 437 593.7 435.1C589.6 433.3 585.1 430.4 581.5 427.8C577.8 425.1 574.5 422.7 571.7 419.2C568.8 415.7 566.4 411 564.3 407C562.3 402.9 560.6 398.8 559.4 394.7C558.2 390.6 554.1 384.1 557 382.5Z" fill="#7db644" filter="url(#b25)"/>
<path d="M576.6 392.3C578.2 389.8 590.9 387.4 596.2 387.4C601.5 387.4 606.4 389.8 608.4 392.3C610.5 394.7 607.2 399.6 608.4 402.1C609.7 404.5 613.3 405.3 615.8 407C618.2 408.6 622.3 409 623.1 411.9C624 414.7 622.7 421.3 620.7 424.1C618.6 427 614.6 429 610.9 429C607.2 429 601.9 427 598.6 424.1C595.4 421.3 593.3 415.5 591.3 411.9C589.2 408.2 588.8 405.3 586.4 402.1C583.9 398.8 574.9 394.7 576.6 392.3Z" fill="#8fbb38" filter="url(#b25)"/>
<path d="M601.1 409.4C602.3 407.2 607.4 407.6 610.9 408.2C614.4 408.8 620.5 410.4 621.9 413.1C623.3 415.7 621.3 421.7 619.5 424.1C617.6 426.6 613.5 428.2 610.9 427.8C608.2 427.4 605.2 424.7 603.5 421.7C601.9 418.6 599.9 411.7 601.1 409.4Z" fill="#a3c12f" filter="url(#b15)"/>
<path d="M610.9 392.3C611.7 390.4 613.9 387.4 615.8 387.4C617.6 387.4 620.9 390.2 621.9 392.3C622.9 394.3 622.9 398 621.9 399.6C620.9 401.2 617.6 402.3 615.8 402.1C613.9 401.9 611.7 400 610.9 398.4C610.1 396.7 610.1 394.1 610.9 392.3Z" fill="#35408f" filter="url(#b15)"/>
<path d="M649.1 442.5C649.1 444.3 648.9 446.4 648.5 448C648.2 449.6 647.5 451.1 646.9 452.1C646.3 453 645.4 453.5 644.7 453.5C644 453.5 643.1 453 642.5 452.1C641.9 451.1 641.3 449.6 640.9 448C640.5 446.4 640.3 444.3 640.3 442.5C640.3 440.7 640.5 438.6 640.9 437C641.3 435.4 641.9 433.9 642.5 432.9C643.1 432 644 431.5 644.7 431.5C645.4 431.5 646.3 432 646.9 432.9C647.5 433.9 648.2 435.4 648.5 437C648.9 438.6 649.1 440.7 649.1 442.5Z" fill="#43a0ac" filter="url(#b15)"/>
<path d="M557 321.2C558.6 318.9 569.2 323.6 576.6 324.9C583.9 326.1 592.9 328.1 601.1 328.5C609.2 328.9 619.9 328.3 625.6 327.3C631.3 326.3 630.8 322 635.4 322.4L653 329.8L653 350.6L625.6 349.4C616.9 349 609.2 348.8 601.1 348.1C592.9 347.5 582.3 347.3 576.6 345.7C570.8 344.1 570 342.4 566.8 338.3C563.5 334.2 555.3 323.4 557 321.2Z" fill="#58ad7c" filter="url(#b25)"/>
<path d="M571.7 348.1C574.1 346.7 583.9 343.8 591.3 343.2C598.6 342.6 608.4 343.6 615.8 344.5C623.1 345.3 629.2 347.3 635.4 348.1L653 349.4L653 353L601.1 353C588.3 352.8 581.5 352.6 576.6 351.8C571.7 351 569.2 349.6 571.7 348.1Z" fill="#69b25e" filter="url(#b2)"/>
<path d="M593.7 335.9C593.7 336.5 593.1 337.1 592.1 337.6C591.1 338.1 589.4 338.5 587.8 338.7C586.2 338.9 584.1 338.9 582.5 338.7C580.9 338.5 579.2 338.1 578.2 337.6C577.2 337.1 576.6 336.5 576.6 335.9C576.6 335.3 577.2 334.6 578.2 334.2C579.2 333.7 580.9 333.3 582.5 333.1C584.1 332.9 586.2 332.9 587.8 333.1C589.4 333.3 591.1 333.7 592.1 334.2C593.1 334.6 593.7 335.3 593.7 335.9Z" fill="#3c6ec0" filter="url(#b1)"/>
<path d="M607.7 340.3C607.7 341 607.3 341.9 606.7 342.5C606 343 605 343.6 604 343.8C603 344 601.6 344 600.6 343.8C599.6 343.6 598.6 343 597.9 342.5C597.3 341.9 596.9 341 596.9 340.3C596.9 339.6 597.3 338.7 597.9 338.1C598.6 337.6 599.6 337 600.6 336.8C601.6 336.6 603 336.6 604 336.8C605 337 606 337.6 606.7 338.1C607.3 338.7 607.7 339.6 607.7 340.3Z" fill="#3c6ec0" filter="url(#b1)"/>
<path d="M628 340.3C628 340.8 627.6 341.3 626.9 341.7C626.2 342.1 624.9 342.5 623.8 342.6C622.7 342.8 621.2 342.8 620 342.6C618.9 342.5 617.7 342.1 617 341.7C616.2 341.3 615.8 340.8 615.8 340.3C615.8 339.8 616.2 339.2 617 338.9C617.7 338.5 618.9 338.1 620 338C621.2 337.8 622.7 337.8 623.8 338C624.9 338.1 626.2 338.5 626.9 338.9C627.6 339.2 628 339.8 628 340.3Z" fill="#58ad7c" filter="url(#b1)"/>
<path d="M633.7 331C633.7 331.4 633.2 331.8 632.4 332.1C631.6 332.4 630.2 332.7 628.9 332.8C627.7 333 626 333 624.7 332.8C623.4 332.7 622.1 332.4 621.3 332.1C620.5 331.8 620 331.4 620 331C620 330.6 620.5 330.1 621.3 329.8C622.1 329.5 623.4 329.2 624.7 329.1C626 329 627.7 329 628.9 329.1C630.2 329.2 631.6 329.5 632.4 329.8C633.2 330.1 633.7 330.6 633.7 331Z" fill="#3c6ec0" filter="url(#b1)"/>
<path d="M649.9 341.3C649.9 341.8 649.6 342.3 649.2 342.7C648.8 343.1 648.1 343.5 647.5 343.6C646.8 343.8 646 343.8 645.4 343.6C644.7 343.5 644 343.1 643.6 342.7C643.3 342.3 643 341.8 643 341.3C643 340.8 643.3 340.2 643.6 339.8C644 339.4 644.7 339.1 645.4 338.9C646 338.8 646.8 338.8 647.5 338.9C648.1 339.1 648.8 339.4 649.2 339.8C649.6 340.2 649.9 340.8 649.9 341.3Z" fill="#3c6ec0" filter="url(#b1)"/>
<path d="M657.9 345.7L657.5 347.7L656.2 348.9L654.7 348.9L653.5 347.7L653 345.7L653.5 343.7L654.7 342.4L656.2 342.4L657.5 343.7L657.9 345.7Z" fill="#35408f" filter="url(#b1)"/>
<path d="M647.1 328.5L659.8 333.4C663.6 334.9 666.3 337.5 669.6 337.1C672.9 336.7 677 333.2 679.4 331C681.9 328.7 681.9 325.5 684.3 323.6C686.8 321.8 690.4 320.4 694.1 320C697.8 319.5 703.1 320.2 706.4 321.2C709.6 322.2 709.2 325.7 713.7 326.1C718.2 326.5 729.2 323.4 733.3 323.6C737.4 323.8 735.8 326.1 738.2 327.3C740.7 328.5 745.2 331.2 748 331C750.9 330.8 752.9 327.5 755.4 326.1C757.8 324.6 759.9 322.6 762.7 322.4C765.6 322.2 770.1 325.1 772.5 324.9C775 324.6 774.6 321.8 777.5 321.2C780.3 320.6 786.8 320.2 789.7 321.2C792.6 322.2 793.4 324.9 794.6 327.3C795.8 329.8 795 333.8 797.1 335.9C799.1 337.9 803.6 339.4 806.9 339.6C810.1 339.8 813.4 338.1 816.7 337.1C819.9 336.1 823.2 334.2 826.5 333.4C829.7 332.6 833 331.8 836.3 332.2C839.5 332.6 842.8 335.1 846.1 335.9C849.3 336.7 853 337.9 855.9 337.1C858.7 336.3 860.8 332.4 863.2 331C865.7 329.6 868.1 328.5 870.6 328.5C873 328.5 875.5 331.4 877.9 331C880.4 330.6 881.7 327.1 885.3 326.1L899.5 324.9L899.5 465.8L870.6 465.8C863.3 465.4 859.4 465.4 855.9 463.3C852.4 461.3 851.8 456 849.8 453.5C847.7 451.1 845.7 448.4 843.6 448.6C841.6 448.8 839.3 455.6 837.5 454.8C835.7 453.9 834 446.6 832.6 443.7C831.2 440.9 830.4 437.6 828.9 437.6C827.5 437.6 825.7 441.1 824 443.7C822.4 446.4 821.6 452.3 819.1 453.5C816.7 454.8 812.6 451.9 809.3 451.1C806 450.3 802.4 447.4 799.5 448.6C796.7 449.9 795 456.6 792.2 458.4C789.3 460.3 785.2 460.3 782.4 459.7C779.5 459 777.9 457.6 775 454.8C772.1 451.9 768.1 443.5 765.2 442.5C762.3 441.5 760.7 446.6 757.8 448.6C755 450.7 751.3 454.1 748 454.8C744.8 455.4 741.5 451.7 738.2 452.3C735 452.9 732.1 457.4 728.4 458.4C724.8 459.5 719.9 459.2 716.2 458.4C712.5 457.6 709.2 455.4 706.4 453.5C703.5 451.7 701.9 447.8 699 447.4C696.2 447 692.5 450.5 689.2 451.1C685.9 451.7 682.1 452.5 679.4 451.1C676.8 449.6 675.1 447 673.3 442.5C671.4 438 669.7 430.9 668.4 424.1C667 417.4 667 406.1 665.2 402.1C663.4 398 660.4 400 657.4 399.6L647.1 399.6L647.1 328.5Z" fill="#58ad7c" filter="url(#b2)"/>
<path d="M647.1 348.1L674.5 343.2C683.2 343 690.8 346.7 699 346.9C707.2 347.1 715.4 344.5 723.5 344.5C731.7 344.5 739.9 346.9 748 346.9C756.2 346.9 764.4 345.2 772.5 344.5C780.7 343.8 791.3 343.4 797.1 342.7C802.8 342.1 802.8 340.7 806.9 340.8C810.9 340.9 815 343.2 821.6 343.2C828.1 343.2 837.9 340.4 846.1 340.8C854.2 341.2 861.7 344.5 870.6 345.7L899.5 348.1L899.5 407L846.1 407C829 407 813.4 407 797.1 407C780.7 407 764.4 407.4 748 407C731.7 406.6 712.5 405.3 699 404.5C685.5 403.7 675.8 403.3 667.2 402.1L647.1 397.2L647.1 348.1Z" fill="#69b25e" filter="url(#b25)"/>
<path d="M669.6 402.1C674.3 399.2 685.9 395.9 699 394.7C712.1 393.5 731.7 394.7 748 394.7C764.4 394.7 780.7 394.7 797.1 394.7C813.4 394.7 829 394.7 846.1 394.7L899.5 394.7L899.5 463.3L870.6 463.3C863.7 462.9 861.4 462.9 858.3 460.9C855.3 458.8 854.2 453.7 852.2 451.1C850.2 448.4 848.1 445 846.1 445C844 445 841.8 451.5 840 451.1C838.1 450.7 836.8 445.4 835 442.5C833.3 439.6 831.5 433.7 829.4 433.4C827.4 433.1 824.7 438 822.8 440.8C820.9 443.5 820.1 448.7 817.9 449.9C815.6 451 812.4 448.7 809.3 447.9C806.2 447.1 802.4 444.2 799.5 445.2C796.7 446.2 795 452.3 792.2 454C789.3 455.7 785.2 456 782.4 455.5C779.5 455 777.9 453.9 775 451.1C772.1 448.3 768.1 439.8 765.2 438.8C762.3 437.8 760.7 442.9 757.8 445C755 447 751.3 450.5 748 451.1C744.8 451.7 741.5 448.1 738.2 448.6C735 449.1 732.1 453.1 728.4 454C724.8 454.9 719.9 454.7 716.2 454C712.5 453.3 709.2 451.6 706.4 449.9C703.5 448.1 701.9 444.1 699 443.7C696.2 443.3 692.3 446.8 689.2 447.4C686.2 448 682.9 448.8 680.6 447.4C678.4 446 677.1 442.7 675.7 438.8C674.4 434.9 673.4 428.6 672.5 424.1C671.7 419.6 671.3 415.5 670.8 411.9C670.3 408.2 664.9 404.9 669.6 402.1Z" fill="#8fbb38" filter="url(#b2)"/>
<path d="M677 404.5C680.6 401.4 687.2 397.4 699 395.9C710.9 394.5 731.7 395.9 748 395.9C764.4 395.9 780.7 395.9 797.1 395.9C813.4 395.9 829 395.9 846.1 395.9L899.5 395.9L899.5 458.4L880.4 454.8C875.6 454.1 873.9 455.4 870.6 454.8C867.3 454.1 863.4 453.3 860.8 451.1C858.1 448.8 857.1 443.7 854.7 441.3C852.2 438.8 848.5 436 846.1 436.4C843.6 436.8 841.6 443.5 840 443.7C838.3 443.9 837.9 440.5 836.3 437.6C834.6 434.7 832.6 427 830.1 426.6C827.7 426.2 823.8 432.3 821.6 435.1C819.3 438 818.7 442.5 816.7 443.7C814.6 445 812.2 443.3 809.3 442.5C806.5 441.7 802.6 438 799.5 438.8C796.4 439.6 793.8 445.8 790.9 447.4C788.1 449 785 449.2 782.4 448.6C779.7 448 777.5 446.2 775 443.7C772.5 441.3 769.7 439.2 767.6 433.9C765.6 428.6 764.4 416.4 762.7 411.9C761.1 407.4 759.5 406.6 757.8 407C756.2 407.4 754.2 409.4 752.9 414.3C751.7 419.2 751.3 431.3 750.5 436.4C749.7 441.5 750.1 443.7 748 445C746 446.2 740.9 446 738.2 443.7C735.6 441.5 733.7 436.8 732.1 431.5C730.5 426.2 729.9 415.5 728.4 411.9C727 408.2 725 407.4 723.5 409.4C722.1 411.5 720.7 418.4 719.9 424.1C719 429.8 720.1 439.8 718.6 443.7C717.2 447.6 713.9 447.4 711.3 447.4C708.6 447.4 705.1 445.4 702.7 443.7C700.2 442.1 698.8 438 696.6 437.6C694.3 437.2 691.5 441.1 689.2 441.3C687 441.5 684.8 441.3 683.1 438.8C681.4 436.4 679.9 430.7 678.9 426.6C678 422.5 677.8 418 677.5 414.3C677.1 410.6 673.4 407.6 677 404.5Z" fill="#9bbf33" filter="url(#b2)"/>
<path d="M647.1 350.6L674.5 351.8C683.2 352.2 690.8 352.4 699 353C707.2 353.7 715.4 355.5 723.5 355.5C731.7 355.5 739.9 353 748 353C756.2 353 764.4 355.5 772.5 355.5C780.7 355.5 791.3 354.3 797.1 353C802.8 351.8 802.8 348.1 806.9 348.1C810.9 348.1 816.7 351.4 821.6 353C826.5 354.7 830.1 356.7 836.3 357.9C842.4 359.2 847.8 359.6 858.3 360.4L899.5 362.8L899.5 402.1L870.6 399.6C861.7 399.6 854.2 401.2 846.1 402.1C837.9 402.9 829.7 404.5 821.6 404.5C813.4 404.5 805.2 402.9 797.1 402.1C788.9 401.2 780.7 399.6 772.5 399.6C764.4 399.6 756.2 402.1 748 402.1C739.9 402.1 731.7 400.4 723.5 399.6C715.4 398.8 707.2 398 699 397.2C690.8 396.3 683.2 395.5 674.5 394.7L647.1 392.3L647.1 350.6Z" fill="#a3c12f" filter="url(#b25)"/>
<path d="M664.7 375.1C664.7 373.7 670.4 372.4 674.5 371.4C678.6 370.4 683.9 368.8 689.2 369C694.5 369.2 703.1 371.2 706.4 372.6C709.6 374.1 710.9 376.3 708.8 377.5C706.8 378.8 699.8 379.6 694.1 380C688.4 380.4 679.4 380.8 674.5 380C669.6 379.2 664.7 376.5 664.7 375.1Z" fill="#cb952c" filter="url(#b3)"/>
<path d="M647.1 355.7L674.5 356C682.4 355.9 687.6 354.8 694.1 355C700.7 355.2 707.2 356.2 713.7 357.5C720.3 358.7 729.7 360.8 733.3 362.4C737 363.9 738.2 365.6 735.8 366.5C733.3 367.4 724.8 368.3 718.6 367.7C712.5 367.2 705.6 364.5 699 363.3C692.5 362.2 688.1 361.6 679.4 360.9L647.1 359.2L647.1 355.7Z" fill="#cb952c" filter="url(#b25)"/>
<path d="M724.8 361.1C724.8 361.6 723.5 362.1 721.5 362.4C719.5 362.8 716.1 363.1 712.9 363.2C709.7 363.4 705.5 363.4 702.3 363.2C699.1 363.1 695.7 362.8 693.7 362.4C691.7 362.1 690.4 361.6 690.4 361.1C690.4 360.7 691.7 360.2 693.7 359.8C695.7 359.5 699.1 359.2 702.3 359C705.5 358.9 709.7 358.9 712.9 359C716.1 359.2 719.5 359.5 721.5 359.8C723.5 360.2 724.8 360.7 724.8 361.1Z" fill="#d27c2a" filter="url(#b3)"/>
<path d="M700.2 375.1C700.2 375.6 699.2 376.2 697.7 376.5C696.1 376.9 693.4 377.3 690.9 377.4C688.4 377.6 685.1 377.6 682.6 377.4C680.1 377.3 677.4 376.9 675.9 376.5C674.3 376.2 673.3 375.6 673.3 375.1C673.3 374.6 674.3 374 675.9 373.7C677.4 373.3 680.1 372.9 682.6 372.8C685.1 372.6 688.4 372.6 690.9 372.8C693.4 372.9 696.1 373.3 697.7 373.7C699.2 374 700.2 374.6 700.2 375.1Z" fill="#d27c2a" filter="url(#b3)"/>
<path d="M717.2 362.1C717.2 362.4 716.9 362.7 716.6 363C716.3 363.2 715.7 363.4 715.1 363.5C714.6 363.6 713.9 363.6 713.3 363.5C712.8 363.4 712.2 363.2 711.8 363C711.5 362.7 711.3 362.4 711.3 362.1C711.3 361.8 711.5 361.5 711.8 361.2C712.2 361 712.8 360.8 713.3 360.7C713.9 360.6 714.6 360.6 715.1 360.7C715.7 360.8 716.3 361 716.6 361.2C716.9 361.5 717.2 361.8 717.2 362.1Z" fill="#c9562a" filter="url(#b2)"/>
<path d="M716.2 382.5C718.6 380.4 728.4 378.2 735.8 377.5C743.1 376.9 751.7 378.4 760.3 378.8C768.9 379.2 779.5 379.4 787.3 380C795 380.6 804.4 380.4 806.9 382.5C809.3 384.5 806 390.2 802 392.3C797.9 394.3 789.7 394.3 782.4 394.7C775 395.1 766 394.7 757.8 394.7C749.7 394.7 739.5 395.5 733.3 394.7C727.2 393.9 723.9 391.8 721.1 389.8C718.2 387.8 713.7 384.5 716.2 382.5Z" fill="#cb952c" filter="url(#b35)"/>
<path d="M748 384.9C751.3 383.7 765.2 383.5 772.5 383.7C779.9 383.9 791.3 384.9 792.2 386.1C793 387.4 784 390.2 777.5 391C770.9 391.8 757.8 392.1 752.9 391C748 390 744.8 386.1 748 384.9Z" fill="#d27c2a" filter="url(#b4)"/>
<path d="M824 380C825.9 378.4 831.8 377.1 836.3 377.5C840.8 378 845.3 380.8 851 382.5C856.7 384.1 862.5 386.3 870.6 387.4L899.5 388.6L899.5 399.6L870.6 398.4C861.7 398 852.6 397.8 846.1 397.2C839.5 396.5 834.8 396.3 831.4 394.7C827.9 393.1 826.5 389.8 825.2 387.4C824 384.9 822.2 381.6 824 380Z" fill="#cb952c" filter="url(#b35)"/>
<path d="M887.7 392.7C887.7 393.4 886.1 394.2 883.5 394.8C881 395.3 876.6 395.8 872.5 396C868.4 396.2 863 396.2 858.9 396C854.8 395.8 850.4 395.3 847.8 394.8C845.3 394.2 843.6 393.4 843.6 392.7C843.6 392.1 845.3 391.3 847.8 390.7C850.4 390.2 854.8 389.7 858.9 389.5C863 389.3 868.4 389.3 872.5 389.5C876.6 389.7 881 390.2 883.5 390.7C886.1 391.3 887.7 392.1 887.7 392.7Z" fill="#d27c2a" filter="url(#b4)"/>
<path d="M790.9 370.2C790.9 371 790.2 371.9 789 372.6C787.7 373.4 785.7 374 783.6 374.4C781.5 374.8 778.7 375.1 776.2 375.1C773.8 375.1 771 374.8 768.9 374.4C766.7 374 764.7 373.4 763.5 372.6C762.3 371.9 761.5 371 761.5 370.2C761.5 369.4 762.3 368.5 763.5 367.7C764.7 367 766.7 366.4 768.9 366C771 365.5 773.8 365.3 776.2 365.3C778.7 365.3 781.5 365.5 783.6 366C785.7 366.4 787.7 367 789 367.7C790.2 368.5 790.9 369.4 790.9 370.2Z" fill="#58ad7c" filter="url(#b15)"/>
<path d="M783.6 370.2C783.6 370.7 783 371.2 782.2 371.6C781.3 372 779.9 372.4 778.5 372.5C777.1 372.7 775.3 372.7 774 372.5C772.6 372.4 771.1 372 770.3 371.6C769.4 371.2 768.9 370.7 768.9 370.2C768.9 369.7 769.4 369.1 770.3 368.8C771.1 368.4 772.6 368 774 367.9C775.3 367.7 777.1 367.7 778.5 367.9C779.9 368 781.3 368.4 782.2 368.8C783 369.1 783.6 369.7 783.6 370.2Z" fill="#69b25e" filter="url(#b1)"/>
<path d="M696.1 345.7C696.1 346.4 695.6 347.3 694.8 347.8C694 348.4 692.6 349 691.3 349.2C690.1 349.4 688.4 349.4 687.1 349.2C685.8 349 684.5 348.4 683.7 347.8C682.9 347.3 682.4 346.4 682.4 345.7C682.4 345 682.9 344.1 683.7 343.5C684.5 342.9 685.8 342.4 687.1 342.2C688.4 342 690.1 342 691.3 342.2C692.6 342.4 694 342.9 694.8 343.5C695.6 344.1 696.1 345 696.1 345.7Z" fill="#3c6ec0" filter="url(#b1)"/>
<path d="M706.4 350.1C706.4 350.7 706.1 351.4 705.7 351.8C705.2 352.3 704.5 352.7 703.8 352.9C703.1 353.1 702.2 353.1 701.6 352.9C700.9 352.7 700.1 352.3 699.7 351.8C699.3 351.4 699 350.7 699 350.1C699 349.5 699.3 348.8 699.7 348.4C700.1 347.9 700.9 347.5 701.6 347.3C702.2 347.1 703.1 347.1 703.8 347.3C704.5 347.5 705.2 347.9 705.7 348.4C706.1 348.8 706.4 349.5 706.4 350.1Z" fill="#35408f" filter="url(#b1)"/>
<path d="M706.4 327.3C706.4 327.9 705.9 328.6 705.2 329C704.5 329.5 703.3 329.9 702.1 330.1C701 330.3 699.5 330.3 698.4 330.1C697.2 329.9 696 329.5 695.3 329C694.6 328.6 694.1 327.9 694.1 327.3C694.1 326.7 694.6 326 695.3 325.6C696 325.1 697.2 324.7 698.4 324.5C699.5 324.3 701 324.3 702.1 324.5C703.3 324.7 704.5 325.1 705.2 325.6C705.9 326 706.4 326.7 706.4 327.3Z" fill="#3c6ec0" filter="url(#b1)"/>
<path d="M759.1 334.7C759.1 335.2 758.5 335.9 757.7 336.4C756.8 336.9 755.4 337.3 754 337.5C752.6 337.6 750.8 337.6 749.4 337.5C748.1 337.3 746.6 336.9 745.8 336.4C744.9 335.9 744.4 335.2 744.4 334.7C744.4 334.1 744.9 333.4 745.8 332.9C746.6 332.5 748.1 332 749.4 331.9C750.8 331.7 752.6 331.7 754 331.9C755.4 332 756.8 332.5 757.7 332.9C758.5 333.4 759.1 334.1 759.1 334.7Z" fill="#3c6ec0" filter="url(#b1)"/>
<path d="M729.4 342C729.4 342.5 729.2 343.1 728.9 343.5C728.5 343.8 727.9 344.2 727.4 344.3C726.8 344.5 726.1 344.5 725.6 344.3C725 344.2 724.4 343.8 724.1 343.5C723.8 343.1 723.5 342.5 723.5 342C723.5 341.5 723.8 341 724.1 340.6C724.4 340.2 725 339.8 725.6 339.7C726.1 339.5 726.8 339.5 727.4 339.7C727.9 339.8 728.5 340.2 728.9 340.6C729.2 341 729.4 341.5 729.4 342Z" fill="#3c6ec0" filter="url(#b1)"/>
<path d="M820.3 351.8C820.3 352.5 819.8 353.4 818.9 354C818.1 354.6 816.6 355.1 815.3 355.3C813.9 355.5 812.1 355.5 810.7 355.3C809.3 355.1 807.9 354.6 807 354C806.2 353.4 805.6 352.5 805.6 351.8C805.6 351.1 806.2 350.2 807 349.7C807.9 349.1 809.3 348.5 810.7 348.3C812.1 348.1 813.9 348.1 815.3 348.3C816.6 348.5 818.1 349.1 818.9 349.7C819.8 350.2 820.3 351.1 820.3 351.8Z" fill="#3c6ec0" filter="url(#b1)"/>
<path d="M847.3 356.7C847.3 357.5 846.9 358.4 846.4 359C845.8 359.6 844.8 360.2 843.9 360.4C843 360.7 841.8 360.7 840.9 360.4C840 360.2 839 359.6 838.4 359C837.9 358.4 837.5 357.5 837.5 356.7C837.5 355.9 837.9 355 838.4 354.4C839 353.8 840 353.2 840.9 353C841.8 352.7 843 352.7 843.9 353C844.8 353.2 845.8 353.8 846.4 354.4C846.9 355 847.3 355.9 847.3 356.7Z" fill="#3c6ec0" filter="url(#b1)"/>
<path d="M826.7 340C826.7 340.4 826.4 340.9 826 341.2C825.5 341.5 824.7 341.8 824 341.9C823.3 342 822.3 342 821.6 341.9C820.9 341.8 820.1 341.5 819.6 341.2C819.2 340.9 818.9 340.4 818.9 340C818.9 339.7 819.2 339.2 819.6 338.9C820.1 338.6 820.9 338.3 821.6 338.2C822.3 338.1 823.3 338.1 824 338.2C824.7 338.3 825.5 338.6 826 338.9C826.4 339.2 826.7 339.7 826.7 340Z" fill="#3c6ec0" filter="url(#b1)"/>
<path d="M873.5 350.1C873.5 350.6 873.1 351.2 872.5 351.5C871.9 351.9 870.8 352.3 869.8 352.4C868.8 352.6 867.5 352.6 866.5 352.4C865.5 352.3 864.4 351.9 863.8 351.5C863.2 351.2 862.7 350.6 862.7 350.1C862.7 349.6 863.2 349 863.8 348.7C864.4 348.3 865.5 347.9 866.5 347.8C867.5 347.6 868.8 347.6 869.8 347.8C870.8 347.9 871.9 348.3 872.5 348.7C873.1 349 873.5 349.6 873.5 350.1Z" fill="#3c6ec0" filter="url(#b1)"/>
<path d="M887.7 362.8C887.7 363.3 886.9 363.9 885.6 364.3C884.4 364.7 882.2 365 880.1 365.2C878.1 365.3 875.4 365.3 873.3 365.2C871.3 365 869.1 364.7 867.8 364.3C866.5 363.9 865.7 363.3 865.7 362.8C865.7 362.4 866.5 361.8 867.8 361.4C869.1 361 871.3 360.7 873.3 360.5C875.4 360.4 878.1 360.4 880.1 360.5C882.2 360.7 884.4 361 885.6 361.4C886.9 361.8 887.7 362.4 887.7 362.8Z" fill="#3c6ec0" filter="url(#b1)"/>
<path d="M665.9 337.1C665.9 337.6 665.5 338.2 664.8 338.5C664.1 338.9 662.8 339.3 661.7 339.4C660.6 339.6 659.1 339.6 657.9 339.4C656.8 339.3 655.6 338.9 654.8 338.5C654.1 338.2 653.7 337.6 653.7 337.1C653.7 336.6 654.1 336.1 654.8 335.7C655.6 335.3 656.8 334.9 657.9 334.8C659.1 334.6 660.6 334.6 661.7 334.8C662.8 334.9 664.1 335.3 664.8 335.7C665.5 336.1 665.9 336.6 665.9 337.1Z" fill="#3c6ec0" filter="url(#b1)"/>
<path d="M893.9 335.9C893.9 336.4 893.5 336.9 892.9 337.3C892.4 337.7 891.4 338.1 890.5 338.2C889.6 338.4 888.4 338.4 887.5 338.2C886.5 338.1 885.6 337.7 885 337.3C884.4 336.9 884.1 336.4 884.1 335.9C884.1 335.4 884.4 334.8 885 334.4C885.6 334.1 886.5 333.7 887.5 333.6C888.4 333.4 889.6 333.4 890.5 333.6C891.4 333.7 892.4 334.1 892.9 334.4C893.5 334.8 893.9 335.4 893.9 335.9Z" fill="#3c6ec0" filter="url(#b1)"/>
<path d="M789 321.7C789 322 788.6 322.4 787.9 322.7C787.3 322.9 786.2 323.2 785.2 323.3C784.2 323.4 782.9 323.4 781.9 323.3C780.9 323.2 779.8 322.9 779.2 322.7C778.6 322.4 778.2 322 778.2 321.7C778.2 321.3 778.6 320.9 779.2 320.7C779.8 320.4 780.9 320.1 781.9 320C782.9 319.9 784.2 319.9 785.2 320C786.2 320.1 787.3 320.4 787.9 320.7C788.6 320.9 789 321.3 789 321.7Z" fill="#43a0ac" filter="url(#b1)"/>
<path d="M703.9 316.3C703.9 316.6 703.3 316.9 702.3 317.1C701.3 317.4 699.6 317.6 698 317.7C696.4 317.8 694.3 317.8 692.7 317.7C691.1 317.6 689.4 317.4 688.4 317.1C687.4 316.9 686.8 316.6 686.8 316.3C686.8 316 687.4 315.6 688.4 315.4C689.4 315.2 691.1 315 692.7 314.9C694.3 314.8 696.4 314.8 698 314.9C699.6 315 701.3 315.2 702.3 315.4C703.3 315.6 703.9 316 703.9 316.3Z" fill="#43a0ac" filter="url(#b1)"/>
<path d="M807.4 323.6C807.4 324.1 807.2 324.7 807 325C806.8 325.3 806.4 325.6 806.1 325.6C805.8 325.6 805.5 325.3 805.3 325C805.1 324.7 804.9 324.1 804.9 323.6C804.9 323.2 805.1 322.6 805.3 322.2C805.5 321.9 805.8 321.7 806.1 321.7C806.4 321.7 806.8 321.9 807 322.2C807.2 322.6 807.4 323.2 807.4 323.6Z" fill="#43a0ac" filter="url(#b1)"/>
<path d="M852.7 426.6C852.7 428.3 852.4 430.2 852 431.7C851.5 433.2 850.8 434.6 850 435.5C849.2 436.3 848.2 436.9 847.3 436.9C846.4 436.9 845.4 436.3 844.6 435.5C843.8 434.6 843.1 433.2 842.6 431.7C842.2 430.2 841.9 428.3 841.9 426.6C841.9 424.9 842.2 422.9 842.6 421.4C843.1 419.9 843.8 418.5 844.6 417.7C845.4 416.8 846.4 416.3 847.3 416.3C848.2 416.3 849.2 416.8 850 417.7C850.8 418.5 851.5 419.9 852 421.4C852.4 422.9 852.7 424.9 852.7 426.6Z" fill="#b6c42c" filter="url(#b1)"/>
<path d="M880.4 441.3C881 439 885.8 434.3 889 432.7L899.5 431.5L899.5 445L885.3 446.2C882.1 445.6 879.8 443.5 880.4 441.3Z" fill="#b6c42c" filter="url(#b1)"/>
<path d="M706.4 402.1C706.4 403.4 706.2 405 706 406.1C705.8 407.2 705.4 408.2 705 408.6C704.7 409 704.2 409 703.8 408.6C703.4 408.2 703.1 407.2 702.8 406.1C702.6 405 702.5 403.4 702.5 402.1C702.5 400.7 702.6 399.1 702.8 398C703.1 396.9 703.4 395.9 703.8 395.5C704.2 395.1 704.7 395.1 705 395.5C705.4 395.9 705.8 396.9 706 398C706.2 399.1 706.4 400.7 706.4 402.1Z" fill="#7db644" filter="url(#b1)"/>
<path d="M881.9 411.9C881.9 412.7 881.7 413.8 881.5 414.5C881.3 415.2 880.9 415.8 880.5 416.1C880.1 416.3 879.7 416.3 879.3 416.1C878.9 415.8 878.5 415.2 878.3 414.5C878.1 413.8 877.9 412.7 877.9 411.9C877.9 411 878.1 410 878.3 409.3C878.5 408.6 878.9 407.9 879.3 407.7C879.7 407.4 880.1 407.4 880.5 407.7C880.9 407.9 881.3 408.6 881.5 409.3C881.7 410 881.9 411 881.9 411.9Z" fill="#7db644" filter="url(#b1)"/>
<path d="M803.2 431.5C804.2 429.8 809.5 426.6 811.8 426.6C814 426.6 816.7 429.6 816.7 431.5C816.7 433.3 813.6 436.8 811.8 437.6C809.9 438.4 807.1 437.4 805.6 436.4C804.2 435.4 802.2 433.1 803.2 431.5Z" fill="#a3c12f" filter="url(#b1)"/>
<path d="M250.8 411.9C251.4 408.6 252.4 402.9 254.5 399.6C256.5 396.3 260 393.7 263 392.3C266.1 390.8 270 390.5 272.8 391C275.7 391.5 276.9 395 280.2 395.2C283.5 395.4 288 393.4 292.5 392.3C296.9 391.2 302.3 389.1 307.2 388.6C312.1 388.1 317 388.3 321.9 389.3C326.8 390.3 331.7 392.6 336.6 394.7C341.5 396.8 346.8 398.8 351.3 402.1C355.8 405.3 360.7 410.2 363.5 414.3C366.4 418.4 368.8 423.3 368.4 426.6C368 429.8 364.8 432.1 361.1 433.9C357.4 435.8 350.5 437 346.4 437.6C342.3 438.2 339.8 438.6 336.6 437.6C333.3 436.6 330.8 432.7 326.8 431.5C322.7 430.2 317 430.3 312.1 430.2C307.2 430.2 302.3 430.2 297.4 431C292.5 431.8 287.5 434.2 282.6 435.1C277.7 436.1 272.4 437.7 267.9 436.9C263.4 436 258.5 433.2 255.7 430.2C252.8 427.3 251.6 422.3 250.8 419.2C250 416.2 250.2 415.1 250.8 411.9M262.5 414.3C263.4 411.7 265 408.6 267.9 407C270.9 405.3 276.1 405.7 280.2 404.5C284.3 403.3 288.4 401.3 292.5 399.6C296.5 397.9 300.6 395.4 304.7 394.2C308.8 393.1 313.9 392.3 317 392.7C320 393.2 322.3 395.2 323.1 397.2C323.9 399.1 324.1 402.1 321.9 404.5C319.6 407 314.1 409.4 309.6 411.9C305.1 414.3 299.4 416.8 294.9 419.2C290.4 421.7 286.7 425.1 282.6 426.6C278.6 428 273.7 428.4 270.4 427.8C267.1 427.2 264.3 425.1 263 422.9C261.7 420.6 261.7 417 262.5 414.3M258.6 370.2C259.2 369.1 260.3 367.8 263 367.3C265.8 366.7 270.4 366.7 275.3 367C280.2 367.3 287.1 368.8 292.5 369C297.8 369.1 302.3 368.2 307.2 367.7C312.1 367.3 317.4 366.3 321.9 366.5C326.4 366.7 334.9 367.5 334.1 369C333.3 370.4 323.1 373.9 317 375.1C310.8 376.3 302.7 375.3 297.4 376.3C292 377.3 289.6 380.3 285.1 381.2C280.6 382.2 274.1 382.6 270.4 382C266.7 381.3 264.9 378.9 263 377.5C261.2 376.2 260.1 375.1 259.4 373.9C258.6 372.6 258 371.3 258.6 370.2M252 347.6C253.4 346.7 257.9 345.6 263 345C268.1 344.3 276.1 344 282.6 343.7C289.2 343.4 296.5 342.7 302.3 343.2C308 343.8 312.7 345.5 317 346.9C321.3 348.3 327.2 349.8 328 351.8C328.8 353.9 324.5 357.7 321.9 359.2C319.2 360.6 315.3 360.6 312.1 360.4C308.8 360.2 306.3 358 302.3 357.9C298.2 357.9 292.5 359.9 287.5 359.9C282.6 359.9 276.9 359.1 272.8 357.9C268.8 356.8 266.1 354.3 263 353C260 351.8 256.3 351.5 254.5 350.6C252.6 349.7 250.6 348.6 252 347.6M264.3 347.6C264.7 346.7 271 346.3 275.3 346.2C279.6 346.1 285.5 346.3 290 346.9C294.5 347.6 299 349.1 302.3 350.1C305.5 351.1 310.4 352.1 309.6 353C308.8 353.9 301.8 355.2 297.4 355.5C292.9 355.8 286.7 355.6 282.6 355C278.6 354.4 275.9 353 272.8 351.8C269.8 350.6 263.9 348.6 264.3 347.6M269.2 331.5C270.4 330 274.7 329.1 280.2 328.5C285.7 328 295.3 328 302.3 328C309.2 328 315.3 328.4 321.9 328.5C328.4 328.6 334.9 328.8 341.5 328.5C348 328.2 355.4 327.4 361.1 326.8C366.8 326.2 370.1 325.4 375.8 324.9C381.5 324.3 390.5 324 395.4 323.6L405.2 322.4M405.2 339.6L395.4 339.6C390.5 339.4 381.5 338.7 375.8 338.3C370.1 337.9 366 338 361.1 337.1C356.2 336.2 350.5 333.1 346.4 332.9C342.3 332.7 342.3 335.3 336.6 335.9C330.8 336.5 319.4 336.3 312.1 336.4C304.7 336.5 299 336.2 292.5 336.4C285.9 336.5 276.7 337.9 272.8 337.1C269 336.3 267.9 332.9 269.2 331.5M321.9 333.9C322.7 333.1 334.9 332.2 341.5 331.5C348 330.8 353.7 330.4 361.1 329.8C368.4 329.1 378.2 328.4 385.6 327.5L405.2 324.6M405.2 337.1L395.4 337.8C390.5 338 382.3 338 375.8 337.8C369.2 337.7 362.7 337.4 356.2 337.1C349.6 336.9 342.3 336.9 336.6 336.4C330.8 335.8 321 334.7 321.9 333.9M282.6 331.5C283.5 331 288.8 330.1 292.5 330C296.1 329.9 303.9 330.5 304.7 331C305.5 331.5 300.2 332.6 297.4 332.9C294.5 333.3 290 333.2 287.5 332.9C285.1 332.7 281.8 332 282.6 331.5M265.5 315C263 314.4 270.4 313.8 272.8 312.6C275.3 311.4 280 309.1 280.2 307.7C280.4 306.3 274.1 305.2 274.1 304C274.1 302.8 277.1 301.2 280.2 300.3C283.3 299.5 292.5 299.9 292.5 299.1C292.5 298.3 282 296.5 280.2 295.4C278.4 294.4 278.6 293.6 281.4 293C284.3 292.4 291.4 291.6 297.4 291.8C303.3 292 309.8 293.5 317 294.2C324.1 295 336.4 295.4 340.2 296.2C344.1 296.9 344.1 298.1 340.2 298.6C336.4 299.1 321.3 298.4 317 299.1C312.7 299.8 311.2 301.8 314.5 302.8C317.8 303.8 328.8 304.8 336.6 305.2C344.3 305.7 352.9 305.5 361.1 305.7C369.2 305.9 378.2 306.3 385.6 306.5L405.2 306.5M405.2 316.3L385.6 316.3C378.2 316.3 369.2 316.4 361.1 316.3C352.9 316.2 344.7 316 336.6 315.8C328.4 315.6 320.2 315 312.1 315C303.9 315.1 295.3 316.3 287.5 316.3C279.8 316.3 267.9 315.7 265.5 315M312.1 313.8C312.1 313.3 326.4 312.3 336.6 311.9C346.8 311.5 361.9 311.4 373.3 311.4L405.2 311.9M405.2 315.8L373.3 315.5C361.9 315.5 346.8 315.6 336.6 315.3C326.4 315 312.1 314.4 312.1 313.8M319.4 309.4C319.4 309 337 308.6 351.3 308.4L405.2 308.4M405.2 310.4L351.3 310.6C337 310.5 319.4 309.8 319.4 309.4M298.6 295.4C298.6 295 308.2 294.7 312.1 295C315.9 295.2 321.9 296.2 321.9 296.7C321.9 297.1 315.9 297.9 312.1 297.6C308.2 297.4 298.6 295.9 298.6 295.4M291.2 301.6C291.2 301.1 298.8 300.5 302.3 300.6C305.7 300.7 312.1 301.6 312.1 302.1C312.1 302.5 305.7 303.6 302.3 303.5C298.8 303.4 291.2 302.1 291.2 301.6M269.2 283.9C270 283.3 274.9 282.6 277.7 282.7C280.6 282.8 285.9 283.8 286.3 284.4C286.7 285 282.4 286.1 280.2 286.4C277.9 286.7 274.7 286.5 272.8 286.1C271 285.7 268.3 284.5 269.2 283.9M351.3 369C351.7 367.6 356.2 365.5 361.1 364.1C366 362.6 374.2 361.2 380.7 360.4C387.2 359.6 396.2 359.6 400.3 359.2L405.2 357.9M405.2 378.8L395.4 376.3C390.5 375.5 381.9 374.6 375.8 373.9C369.7 373.2 362.7 373 358.6 372.2C354.5 371.3 350.9 370.3 351.3 369M385.6 365.8L405.2 358.9M405.2 370.2L395.4 369.7C392.1 369 384 367.6 385.6 365.8M405 305.2L429.5 307.7C437.7 308.5 446.7 309.3 454 310.1C461.4 311 469.5 313.6 473.6 312.6C477.7 311.6 474.4 305.7 478.5 304C482.6 302.4 492 302.6 498.1 302.8C504.3 303 511.6 303.8 515.3 305.2C519 306.7 516.5 310.1 520.2 311.4C523.9 312.6 532.9 312 537.4 312.6C541.8 313.2 543.9 313.8 547.2 315C550.4 316.3 552.1 318.5 557 320C561.9 321.4 570.8 322.6 576.6 323.6C582.3 324.6 586 325.3 591.3 326.1C596.6 326.9 602.7 328.5 608.4 328.5C614.2 328.5 621.1 327.3 625.6 326.1C630.1 324.9 632.5 321.8 635.4 321.2C638.3 320.6 640.9 321.7 642.7 322.4C644.6 323.1 645.2 324.6 646.4 325.6L650.1 328.5M650.1 399.6L640.3 400.8C637 401.7 631.9 402.3 630.5 404.5C629.1 406.8 631.1 410.6 631.7 414.3C632.3 418 634 422.7 634.2 426.6C634.4 430.4 634.4 435.4 632.9 437.6C631.5 439.8 628 439.8 625.6 440C623.1 440.3 621.5 438.4 618.2 438.8C615 439.2 610.1 442.5 606 442.5C601.9 442.5 597.8 440.7 593.7 438.8C589.6 437 585.1 433.9 581.5 431.5C577.8 429 574.5 426.6 571.7 424.1C568.8 421.7 565.9 419.6 564.3 416.8C562.7 413.9 562.9 409.6 561.9 407C560.8 404.3 559.8 401.7 558.2 400.8C556.6 400 552.9 398.2 552.1 402.1C551.2 405.9 553.3 418.4 553.3 424.1C553.3 429.8 553.1 432.7 552.1 436.4C551 440 549.4 443.5 547.2 446.2C544.9 448.8 541.8 450.9 538.6 452.3C535.3 453.7 531.4 455 527.5 454.8C523.7 454.6 519.4 452.9 515.3 451.1C511.2 449.2 506.5 447 503 443.7C499.6 440.5 496.9 435.4 494.5 431.5C492 427.6 491 422.6 488.3 420.4C485.7 418.3 481.6 418.5 478.5 418.7C475.5 418.9 472.4 420.6 470 421.7C467.5 422.8 465.9 425.3 463.8 425.3C461.8 425.3 459.1 424.7 457.7 421.7C456.3 418.6 455.2 411.9 455.2 407C455.2 402.1 457.9 396.1 457.7 392.3C457.5 388.4 458.7 385.9 454 383.7C449.3 381.4 437.7 379.8 429.5 378.8L405 377.5M405 324.1L429.5 324.6C437.7 324.6 447.7 325 454 324.1C460.4 323.2 463.4 320.8 467.5 319.2C471.6 317.6 472.6 315.4 478.5 314.3C484.5 313.3 495.7 312.9 503 312.8C510.4 312.8 516.1 313.3 522.6 313.8C529.2 314.4 537.4 314.6 542.3 316.3C547.2 317.9 548.8 320.8 552.1 323.6C555.3 326.5 559.8 330.8 561.9 333.4C563.9 336.1 567.6 338.3 564.3 339.6C561 340.8 549.2 340.7 542.3 340.8C535.3 340.9 529.2 340.5 522.6 340.3C516.1 340.1 510.4 339.9 503 339.6C495.7 339.2 486.7 338.7 478.5 338.3C470.4 337.9 462.2 337.3 454 337.1C445.8 336.9 437.7 337.1 429.5 337.1L405 337.1M473.6 328.5C475.3 326.7 482.6 325.7 488.3 324.9C494.1 324 501.4 323.7 507.9 323.6C514.5 323.5 521.8 323.5 527.5 324.4C533.3 325.2 538.6 326.6 542.3 328.5C545.9 330.4 552.1 334.2 549.6 335.9C547.2 337.5 535.3 337.9 527.5 338.3C519.8 338.7 511.2 338.7 503 338.3C494.9 337.9 483.4 337.5 478.5 335.9C473.6 334.2 472 330.4 473.6 328.5M414.8 327.3C416.8 326.3 423 326.2 429.5 326.1C436 326 447.5 326.2 454 326.6C460.6 327 468.7 327.4 468.7 328.5C468.7 329.7 460.6 332.5 454 333.4C447.5 334.3 435.6 334.1 429.5 333.9C423.4 333.7 419.7 333.3 417.3 332.2C414.8 331.1 412.8 328.3 414.8 327.3M405 311.9L429.5 312.8C437.7 313.3 448.3 313.7 454 314.3C459.7 314.9 463.8 315.9 463.8 316.3C463.8 316.7 459.7 316.8 454 316.8C448.3 316.8 437.7 316.4 429.5 316.3L405 315.8M405 308.4L429.5 309.9C436.9 310.4 449.1 311.1 449.1 311.4C449.1 311.6 436.9 311.5 429.5 311.4L405 310.4M405 318.2L419.7 316.8C425.8 316.8 436.9 317.6 441.8 318.2C446.7 318.9 450.3 319.9 449.1 320.7C447.9 321.5 440.1 322.7 434.4 323.1C428.7 323.5 419.7 323.3 414.8 323.1L405 322.4M476.1 315C478.5 314.5 487.1 313.5 493.2 313.3C499.4 313.1 508.8 313.3 512.8 313.8C516.9 314.3 520.2 315.7 517.7 316.3C515.3 316.9 504.7 317.4 498.1 317.5C491.6 317.6 482.2 317.2 478.5 316.8C474.9 316.4 473.6 315.6 476.1 315M405 344.5L419.7 344.5C425 344.9 433 345.9 436.9 346.9C440.7 347.9 444.2 349.4 443 350.6C441.8 351.8 434.2 353.7 429.5 354.3C424.8 354.9 418.9 354.5 414.8 354.3L405 353M482.7 349.4C482.7 349.7 482.3 350.2 481.7 350.5C481 350.8 480 351.1 479 351.2C478 351.3 476.6 351.3 475.6 351.2C474.6 351.1 473.6 350.8 472.9 350.5C472.3 350.2 471.9 349.7 471.9 349.4C471.9 349 472.3 348.5 472.9 348.2C473.6 347.9 474.6 347.6 475.6 347.5C476.6 347.4 478 347.4 479 347.5C480 347.6 481 347.9 481.7 348.2C482.3 348.5 482.7 349 482.7 349.4M405 357.9L429.5 355C437.7 354.2 445.8 353.4 454 353C462.2 352.6 468.3 352.5 478.5 352.5C488.7 352.5 503 353 515.3 353C527.5 353 541.8 352.8 552.1 352.5C562.3 352.3 568.4 351.7 576.6 351.8C584.7 351.9 588.8 353.2 601.1 353L650.1 351.1M650.1 392.3L635.4 389.8C630.5 388.4 626.4 386 620.7 383.7C615 381.3 608.4 376.8 601.1 375.6C593.7 374.4 584.7 375.8 576.6 376.3C568.4 376.9 560.2 378.6 552.1 378.8C543.9 379 534.1 377.1 527.5 377.5C521 378 518.6 381.2 512.8 381.2C507.1 381.2 501 378.4 493.2 377.5C485.5 376.7 474.9 376.9 466.3 376.3C457.7 375.7 449.5 374.5 441.8 373.9C434 373.3 425.8 373.3 419.7 372.6L405 370.2M456.5 365.3C458.5 363.5 463.4 360.6 471.2 359.2C478.9 357.7 491.6 357.1 503 356.7C514.5 356.3 527.5 356.5 539.8 356.7C552.1 356.9 568 356.9 576.6 357.9C585.1 359 591.3 361 591.3 362.8C591.3 364.7 583.1 367.3 576.6 369C570 370.6 562.3 372 552.1 372.6C541.8 373.3 527.5 373.2 515.3 373.1C503 373.1 487.9 372.6 478.5 372.2C469.1 371.7 462.6 371.3 458.9 370.2C455.2 369.1 454.4 367.1 456.5 365.3M588.8 356.7C590.9 356 603.1 355.2 613.3 355L650.1 355.5M650.1 359.2L625.6 359.9C617.4 359.9 607.2 359.7 601.1 359.2C595 358.6 586.8 357.4 588.8 356.7M596.2 371.4C597.4 370.6 604.3 369.6 608.4 369.7C612.5 369.8 619.9 371.3 620.7 372.2C621.5 373.1 616.6 374.7 613.3 375.1C610.1 375.5 603.9 375.2 601.1 374.6C598.2 374 595 372.2 596.2 371.4M591.3 362.8C591.3 362.2 615.8 361.6 625.6 361.6L650.1 362.8M650.1 365.8L625.6 365.3C615.8 364.8 591.3 363.5 591.3 362.8M457.7 384.9C460.6 381.6 471 383.1 478.5 382.5C486.1 381.8 494.9 381.2 503 381.2C511.2 381.2 520.2 381.8 527.5 382.5C534.9 383.1 543.1 381.6 547.2 384.9C551.2 388.2 552.9 398.4 552.1 402.1C551.2 405.7 545.3 405.9 542.3 407C539.2 408 534.9 407.4 533.7 408.2C532.5 409 532 410.8 534.9 411.9C537.8 412.9 547.9 412.3 550.8 414.3C553.8 416.4 552.8 420.4 552.8 424.1C552.8 427.8 552.2 432.7 550.8 436.4C549.5 440 547.8 443.9 544.7 446.2C541.6 448.4 536.5 449.4 532.5 449.9C528.4 450.3 524.3 449.9 520.2 448.6C516.1 447.4 511.4 445.4 507.9 442.5C504.5 439.6 501.8 434.9 499.4 431.5C496.9 428 495.9 424.5 493.2 421.7C490.6 418.8 487.5 415.9 483.4 414.3C479.3 412.7 472.4 413.9 468.7 411.9C465 409.8 463.2 406.6 461.4 402.1C459.5 397.6 454.8 388.2 457.7 384.9M522.2 426.6C522.2 427.5 521.8 428.7 521.2 429.4C520.7 430.2 519.7 430.9 518.8 431.2C517.9 431.5 516.7 431.5 515.7 431.2C514.8 430.9 513.9 430.2 513.3 429.4C512.7 428.7 512.4 427.5 512.4 426.6C512.4 425.6 512.7 424.5 513.3 423.7C513.9 422.9 514.8 422.2 515.7 421.9C516.7 421.6 517.9 421.6 518.8 421.9C519.7 422.2 520.7 422.9 521.2 423.7C521.8 424.5 522.2 425.6 522.2 426.6M485.4 382.7C485.4 383 485.2 383.5 485 383.7C484.7 384 484.3 384.2 483.9 384.2C483.6 384.2 483.1 384 482.9 383.7C482.6 383.5 482.5 383 482.5 382.7C482.5 382.3 482.6 381.9 482.9 381.7C483.1 381.4 483.6 381.2 483.9 381.2C484.3 381.2 484.7 381.4 485 381.7C485.2 381.9 485.4 382.3 485.4 382.7M557 382.5C559.8 380.8 569.2 384.9 576.6 384.9C583.9 384.9 592.9 382 601.1 382.5C609.2 382.9 617.4 385.7 625.6 387.4L650.1 392.3M650.1 398.4L640.3 399.6C636.8 400.4 630.9 400.8 629.3 403.3C627.6 405.7 629.9 410.4 630.5 414.3C631.1 418.2 632.9 423.1 632.9 426.6C632.9 430 632.5 433.5 630.5 435.1C628.4 436.8 624.8 435.8 620.7 436.4C616.6 437 610.5 439 606 438.8C601.5 438.6 597.8 437 593.7 435.1C589.6 433.3 585.1 430.4 581.5 427.8C577.8 425.1 574.5 422.7 571.7 419.2C568.8 415.7 566.4 411 564.3 407C562.3 402.9 560.6 398.8 559.4 394.7C558.2 390.6 554.1 384.1 557 382.5M576.6 392.3C578.2 389.8 590.9 387.4 596.2 387.4C601.5 387.4 606.4 389.8 608.4 392.3C610.5 394.7 607.2 399.6 608.4 402.1C609.7 404.5 613.3 405.3 615.8 407C618.2 408.6 622.3 409 623.1 411.9C624 414.7 622.7 421.3 620.7 424.1C618.6 427 614.6 429 610.9 429C607.2 429 601.9 427 598.6 424.1C595.4 421.3 593.3 415.5 591.3 411.9C589.2 408.2 588.8 405.3 586.4 402.1C583.9 398.8 574.9 394.7 576.6 392.3M601.1 409.4C602.3 407.2 607.4 407.6 610.9 408.2C614.4 408.8 620.5 410.4 621.9 413.1C623.3 415.7 621.3 421.7 619.5 424.1C617.6 426.6 613.5 428.2 610.9 427.8C608.2 427.4 605.2 424.7 603.5 421.7C601.9 418.6 599.9 411.7 601.1 409.4M610.9 392.3C611.7 390.4 613.9 387.4 615.8 387.4C617.6 387.4 620.9 390.2 621.9 392.3C622.9 394.3 622.9 398 621.9 399.6C620.9 401.2 617.6 402.3 615.8 402.1C613.9 401.9 611.7 400 610.9 398.4C610.1 396.7 610.1 394.1 610.9 392.3M649.1 442.5C649.1 444.3 648.9 446.4 648.5 448C648.2 449.6 647.5 451.1 646.9 452.1C646.3 453 645.4 453.5 644.7 453.5C644 453.5 643.1 453 642.5 452.1C641.9 451.1 641.3 449.6 640.9 448C640.5 446.4 640.3 444.3 640.3 442.5C640.3 440.7 640.5 438.6 640.9 437C641.3 435.4 641.9 433.9 642.5 432.9C643.1 432 644 431.5 644.7 431.5C645.4 431.5 646.3 432 646.9 432.9C647.5 433.9 648.2 435.4 648.5 437C648.9 438.6 649.1 440.7 649.1 442.5M571.7 348.1C574.1 346.7 583.9 343.8 591.3 343.2C598.6 342.6 608.4 343.6 615.8 344.5C623.1 345.3 629.7 347.3 635.4 348.1L650.1 349.4M650.1 353L601.1 353C588.8 352.8 581.5 352.6 576.6 351.8C571.7 351 569.2 349.6 571.7 348.1M593.7 335.9C593.7 336.5 593.1 337.1 592.1 337.6C591.1 338.1 589.4 338.5 587.8 338.7C586.2 338.9 584.1 338.9 582.5 338.7C580.9 338.5 579.2 338.1 578.2 337.6C577.2 337.1 576.6 336.5 576.6 335.9C576.6 335.3 577.2 334.6 578.2 334.2C579.2 333.7 580.9 333.3 582.5 333.1C584.1 332.9 586.2 332.9 587.8 333.1C589.4 333.3 591.1 333.7 592.1 334.2C593.1 334.6 593.7 335.3 593.7 335.9M607.7 340.3C607.7 341 607.3 341.9 606.7 342.5C606 343 605 343.6 604 343.8C603 344 601.6 344 600.6 343.8C599.6 343.6 598.6 343 597.9 342.5C597.3 341.9 596.9 341 596.9 340.3C596.9 339.6 597.3 338.7 597.9 338.1C598.6 337.6 599.6 337 600.6 336.8C601.6 336.6 603 336.6 604 336.8C605 337 606 337.6 606.7 338.1C607.3 338.7 607.7 339.6 607.7 340.3M628 340.3C628 340.8 627.6 341.3 626.9 341.7C626.2 342.1 624.9 342.5 623.8 342.6C622.7 342.8 621.2 342.8 620 342.6C618.9 342.5 617.7 342.1 617 341.7C616.2 341.3 615.8 340.8 615.8 340.3C615.8 339.8 616.2 339.2 617 338.9C617.7 338.5 618.9 338.1 620 338C621.2 337.8 622.7 337.8 623.8 338C624.9 338.1 626.2 338.5 626.9 338.9C627.6 339.2 628 339.8 628 340.3M633.7 331C633.7 331.4 633.2 331.8 632.4 332.1C631.6 332.4 630.2 332.7 628.9 332.8C627.7 333 626 333 624.7 332.8C623.4 332.7 622.1 332.4 621.3 332.1C620.5 331.8 620 331.4 620 331C620 330.6 620.5 330.1 621.3 329.8C622.1 329.5 623.4 329.2 624.7 329.1C626 329 627.7 329 628.9 329.1C630.2 329.2 631.6 329.5 632.4 329.8C633.2 330.1 633.7 330.6 633.7 331M649.9 341.3C649.9 341.8 649.6 342.3 649.2 342.7C648.8 343.1 648.1 343.5 647.5 343.6C646.8 343.8 646 343.8 645.4 343.6C644.7 343.5 644 343.1 643.6 342.7C643.3 342.3 643 341.8 643 341.3C643 340.8 643.3 340.2 643.6 339.8C644 339.4 644.7 339.1 645.4 338.9C646 338.8 646.8 338.8 647.5 338.9C648.1 339.1 648.8 339.4 649.2 339.8C649.6 340.2 649.9 340.8 649.9 341.3M650 328.5L659.8 333.4C663.1 334.9 666.3 337.5 669.6 337.1C672.9 336.7 677 333.2 679.4 331C681.9 328.7 681.9 325.5 684.3 323.6C686.8 321.8 690.4 320.4 694.1 320C697.8 319.5 703.1 320.2 706.4 321.2C709.6 322.2 709.2 325.7 713.7 326.1C718.2 326.5 729.2 323.4 733.3 323.6C737.4 323.8 735.8 326.1 738.2 327.3C740.7 328.5 745.2 331.2 748 331C750.9 330.8 752.9 327.5 755.4 326.1C757.8 324.6 759.9 322.6 762.7 322.4C765.6 322.2 770.1 325.1 772.5 324.9C775 324.6 774.6 321.8 777.5 321.2C780.3 320.6 786.8 320.2 789.7 321.2C792.6 322.2 793.4 324.9 794.6 327.3C795.8 329.8 795 333.8 797.1 335.9C799.1 337.9 803.6 339.4 806.9 339.6C810.1 339.8 813.4 338.1 816.7 337.1C819.9 336.1 823.2 334.2 826.5 333.4C829.7 332.6 833 331.8 836.3 332.2C839.5 332.6 842.8 335.1 846.1 335.9C849.3 336.7 853 337.9 855.9 337.1C858.7 336.3 860.8 332.4 863.2 331C865.7 329.6 868.1 328.5 870.6 328.5C873 328.5 875.5 331.4 877.9 331C880.4 330.6 881.7 327.1 885.3 326.1L899.5 324.9M899.5 465.8L870.6 465.8C863.3 465.4 859.4 465.4 855.9 463.3C852.4 461.3 851.8 456 849.8 453.5C847.7 451.1 845.7 448.4 843.6 448.6C841.6 448.8 839.3 455.6 837.5 454.8C835.7 453.9 834 446.6 832.6 443.7C831.2 440.9 830.4 437.6 828.9 437.6C827.5 437.6 825.7 441.1 824 443.7C822.4 446.4 821.6 452.3 819.1 453.5C816.7 454.8 812.6 451.9 809.3 451.1C806 450.3 802.4 447.4 799.5 448.6C796.7 449.9 795 456.6 792.2 458.4C789.3 460.3 785.2 460.3 782.4 459.7C779.5 459 777.9 457.6 775 454.8C772.1 451.9 768.1 443.5 765.2 442.5C762.3 441.5 760.7 446.6 757.8 448.6C755 450.7 751.3 454.1 748 454.8C744.8 455.4 741.5 451.7 738.2 452.3C735 452.9 732.1 457.4 728.4 458.4C724.8 459.5 719.9 459.2 716.2 458.4C712.5 457.6 709.2 455.4 706.4 453.5C703.5 451.7 701.9 447.8 699 447.4C696.2 447 692.5 450.5 689.2 451.1C685.9 451.7 682.1 452.5 679.4 451.1C676.8 449.6 675.1 447 673.3 442.5C671.4 438 669.7 430.9 668.4 424.1C667 417.4 667 406.1 665.2 402.1C663.4 398 659.9 400 657.4 399.6L650 399.6M899.5 463.3L870.6 463.3C863.7 462.9 861.4 462.9 858.3 460.9C855.3 458.8 854.2 453.7 852.2 451.1C850.2 448.4 848.1 445 846.1 445C844 445 841.8 451.5 840 451.1C838.1 450.7 836.8 445.4 835 442.5C833.3 439.6 831.5 433.7 829.4 433.4C827.4 433.1 824.7 438 822.8 440.8C820.9 443.5 820.1 448.7 817.9 449.9C815.6 451 812.4 448.7 809.3 447.9C806.2 447.1 802.4 444.2 799.5 445.2C796.7 446.2 795 452.3 792.2 454C789.3 455.7 785.2 456 782.4 455.5C779.5 455 777.9 453.9 775 451.1C772.1 448.3 768.1 439.8 765.2 438.8C762.3 437.8 760.7 442.9 757.8 445C755 447 751.3 450.5 748 451.1C744.8 451.7 741.5 448.1 738.2 448.6C735 449.1 732.1 453.1 728.4 454C724.8 454.9 719.9 454.7 716.2 454C712.5 453.3 709.2 451.6 706.4 449.9C703.5 448.1 701.9 444.1 699 443.7C696.2 443.3 692.3 446.8 689.2 447.4C686.2 448 682.9 448.8 680.6 447.4C678.4 446 677.1 442.7 675.7 438.8C674.4 434.9 673.4 428.6 672.5 424.1C671.7 419.6 671.3 415.5 670.8 411.9C670.3 408.2 664.9 404.9 669.6 402.1M899.5 458.4L880.4 454.8C875.6 454.1 873.9 455.4 870.6 454.8C867.3 454.1 863.4 453.3 860.8 451.1C858.1 448.8 857.1 443.7 854.7 441.3C852.2 438.8 848.5 436 846.1 436.4C843.6 436.8 841.6 443.5 840 443.7C838.3 443.9 837.9 440.5 836.3 437.6C834.6 434.7 832.6 427 830.1 426.6C827.7 426.2 823.8 432.3 821.6 435.1C819.3 438 818.7 442.5 816.7 443.7C814.6 445 812.2 443.3 809.3 442.5C806.5 441.7 802.6 438 799.5 438.8C796.4 439.6 793.8 445.8 790.9 447.4C788.1 449 785 449.2 782.4 448.6C779.7 448 777.5 446.2 775 443.7C772.5 441.3 769.7 439.2 767.6 433.9C765.6 428.6 764.4 416.4 762.7 411.9C761.1 407.4 759.5 406.6 757.8 407C756.2 407.4 754.2 409.4 752.9 414.3C751.7 419.2 751.3 431.3 750.5 436.4C749.7 441.5 750.1 443.7 748 445C746 446.2 740.9 446 738.2 443.7C735.6 441.5 733.7 436.8 732.1 431.5C730.5 426.2 729.9 415.5 728.4 411.9C727 408.2 725 407.4 723.5 409.4C722.1 411.5 720.7 418.4 719.9 424.1C719 429.8 720.1 439.8 718.6 443.7C717.2 447.6 713.9 447.4 711.3 447.4C708.6 447.4 705.1 445.4 702.7 443.7C700.2 442.1 698.8 438 696.6 437.6C694.3 437.2 691.5 441.1 689.2 441.3C687 441.5 684.8 441.3 683.1 438.8C681.4 436.4 679.9 430.7 678.9 426.6C678 422.5 677.8 418 677.5 414.3C677.1 410.6 673.4 407.6 677 404.5M650 350.6L674.5 351.8C682.7 352.2 690.8 352.4 699 353C707.2 353.7 715.4 355.5 723.5 355.5C731.7 355.5 739.9 353 748 353C756.2 353 764.4 355.5 772.5 355.5C780.7 355.5 791.3 354.3 797.1 353C802.8 351.8 802.8 348.1 806.9 348.1C810.9 348.1 816.7 351.4 821.6 353C826.5 354.7 830.1 356.7 836.3 357.9C842.4 359.2 847.8 359.6 858.3 360.4L899.5 362.8M899.5 402.1L870.6 399.6C861.7 399.6 854.2 401.2 846.1 402.1C837.9 402.9 829.7 404.5 821.6 404.5C813.4 404.5 805.2 402.9 797.1 402.1C788.9 401.2 780.7 399.6 772.5 399.6C764.4 399.6 756.2 402.1 748 402.1C739.9 402.1 731.7 400.4 723.5 399.6C715.4 398.8 707.2 398 699 397.2C690.8 396.3 682.7 395.5 674.5 394.7L650 392.3M664.7 375.1C664.7 373.7 670.4 372.4 674.5 371.4C678.6 370.4 683.9 368.8 689.2 369C694.5 369.2 703.1 371.2 706.4 372.6C709.6 374.1 710.9 376.3 708.8 377.5C706.8 378.8 699.8 379.6 694.1 380C688.4 380.4 679.4 380.8 674.5 380C669.6 379.2 664.7 376.5 664.7 375.1M650 355.7L674.5 356C681.9 355.9 687.6 354.8 694.1 355C700.7 355.2 707.2 356.2 713.7 357.5C720.3 358.7 729.7 360.8 733.3 362.4C737 363.9 738.2 365.6 735.8 366.5C733.3 367.4 724.8 368.3 718.6 367.7C712.5 367.2 705.6 364.5 699 363.3C692.5 362.2 687.6 361.6 679.4 360.9L650 359.2M716.2 382.5C718.6 380.4 728.4 378.2 735.8 377.5C743.1 376.9 751.7 378.4 760.3 378.8C768.9 379.2 779.5 379.4 787.3 380C795 380.6 804.4 380.4 806.9 382.5C809.3 384.5 806 390.2 802 392.3C797.9 394.3 789.7 394.3 782.4 394.7C775 395.1 766 394.7 757.8 394.7C749.7 394.7 739.5 395.5 733.3 394.7C727.2 393.9 723.9 391.8 721.1 389.8C718.2 387.8 713.7 384.5 716.2 382.5M824 380C825.9 378.4 831.8 377.1 836.3 377.5C840.8 378 845.3 380.8 851 382.5C856.7 384.1 862.5 386.3 870.6 387.4L899.5 388.6M899.5 399.6L870.6 398.4C861.7 398 852.6 397.8 846.1 397.2C839.5 396.5 834.8 396.3 831.4 394.7C827.9 393.1 826.5 389.8 825.2 387.4C824 384.9 822.2 381.6 824 380M790.9 370.2C790.9 371 790.2 371.9 789 372.6C787.7 373.4 785.7 374 783.6 374.4C781.5 374.8 778.7 375.1 776.2 375.1C773.8 375.1 771 374.8 768.9 374.4C766.7 374 764.7 373.4 763.5 372.6C762.3 371.9 761.5 371 761.5 370.2C761.5 369.4 762.3 368.5 763.5 367.7C764.7 367 766.7 366.4 768.9 366C771 365.5 773.8 365.3 776.2 365.3C778.7 365.3 781.5 365.5 783.6 366C785.7 366.4 787.7 367 789 367.7C790.2 368.5 790.9 369.4 790.9 370.2M783.6 370.2C783.6 370.7 783 371.2 782.2 371.6C781.3 372 779.9 372.4 778.5 372.5C777.1 372.7 775.3 372.7 774 372.5C772.6 372.4 771.1 372 770.3 371.6C769.4 371.2 768.9 370.7 768.9 370.2C768.9 369.7 769.4 369.1 770.3 368.8C771.1 368.4 772.6 368 774 367.9C775.3 367.7 777.1 367.7 778.5 367.9C779.9 368 781.3 368.4 782.2 368.8C783 369.1 783.6 369.7 783.6 370.2M696.1 345.7C696.1 346.4 695.6 347.3 694.8 347.8C694 348.4 692.6 349 691.3 349.2C690.1 349.4 688.4 349.4 687.1 349.2C685.8 349 684.5 348.4 683.7 347.8C682.9 347.3 682.4 346.4 682.4 345.7C682.4 345 682.9 344.1 683.7 343.5C684.5 342.9 685.8 342.4 687.1 342.2C688.4 342 690.1 342 691.3 342.2C692.6 342.4 694 342.9 694.8 343.5C695.6 344.1 696.1 345 696.1 345.7M706.4 350.1C706.4 350.7 706.1 351.4 705.7 351.8C705.2 352.3 704.5 352.7 703.8 352.9C703.1 353.1 702.2 353.1 701.6 352.9C700.9 352.7 700.1 352.3 699.7 351.8C699.3 351.4 699 350.7 699 350.1C699 349.5 699.3 348.8 699.7 348.4C700.1 347.9 700.9 347.5 701.6 347.3C702.2 347.1 703.1 347.1 703.8 347.3C704.5 347.5 705.2 347.9 705.7 348.4C706.1 348.8 706.4 349.5 706.4 350.1M706.4 327.3C706.4 327.9 705.9 328.6 705.2 329C704.5 329.5 703.3 329.9 702.1 330.1C701 330.3 699.5 330.3 698.4 330.1C697.2 329.9 696 329.5 695.3 329C694.6 328.6 694.1 327.9 694.1 327.3C694.1 326.7 694.6 326 695.3 325.6C696 325.1 697.2 324.7 698.4 324.5C699.5 324.3 701 324.3 702.1 324.5C703.3 324.7 704.5 325.1 705.2 325.6C705.9 326 706.4 326.7 706.4 327.3M759.1 334.7C759.1 335.2 758.5 335.9 757.7 336.4C756.8 336.9 755.4 337.3 754 337.5C752.6 337.6 750.8 337.6 749.4 337.5C748.1 337.3 746.6 336.9 745.8 336.4C744.9 335.9 744.4 335.2 744.4 334.7C744.4 334.1 744.9 333.4 745.8 332.9C746.6 332.5 748.1 332 749.4 331.9C750.8 331.7 752.6 331.7 754 331.9C755.4 332 756.8 332.5 757.7 332.9C758.5 333.4 759.1 334.1 759.1 334.7M729.4 342C729.4 342.5 729.2 343.1 728.9 343.5C728.5 343.8 727.9 344.2 727.4 344.3C726.8 344.5 726.1 344.5 725.6 344.3C725 344.2 724.4 343.8 724.1 343.5C723.8 343.1 723.5 342.5 723.5 342C723.5 341.5 723.8 341 724.1 340.6C724.4 340.2 725 339.8 725.6 339.7C726.1 339.5 726.8 339.5 727.4 339.7C727.9 339.8 728.5 340.2 728.9 340.6C729.2 341 729.4 341.5 729.4 342M820.3 351.8C820.3 352.5 819.8 353.4 818.9 354C818.1 354.6 816.6 355.1 815.3 355.3C813.9 355.5 812.1 355.5 810.7 355.3C809.3 355.1 807.9 354.6 807 354C806.2 353.4 805.6 352.5 805.6 351.8C805.6 351.1 806.2 350.2 807 349.7C807.9 349.1 809.3 348.5 810.7 348.3C812.1 348.1 813.9 348.1 815.3 348.3C816.6 348.5 818.1 349.1 818.9 349.7C819.8 350.2 820.3 351.1 820.3 351.8M847.3 356.7C847.3 357.5 846.9 358.4 846.4 359C845.8 359.6 844.8 360.2 843.9 360.4C843 360.7 841.8 360.7 840.9 360.4C840 360.2 839 359.6 838.4 359C837.9 358.4 837.5 357.5 837.5 356.7C837.5 355.9 837.9 355 838.4 354.4C839 353.8 840 353.2 840.9 353C841.8 352.7 843 352.7 843.9 353C844.8 353.2 845.8 353.8 846.4 354.4C846.9 355 847.3 355.9 847.3 356.7M826.7 340C826.7 340.4 826.4 340.9 826 341.2C825.5 341.5 824.7 341.8 824 341.9C823.3 342 822.3 342 821.6 341.9C820.9 341.8 820.1 341.5 819.6 341.2C819.2 340.9 818.9 340.4 818.9 340C818.9 339.7 819.2 339.2 819.6 338.9C820.1 338.6 820.9 338.3 821.6 338.2C822.3 338.1 823.3 338.1 824 338.2C824.7 338.3 825.5 338.6 826 338.9C826.4 339.2 826.7 339.7 826.7 340M873.5 350.1C873.5 350.6 873.1 351.2 872.5 351.5C871.9 351.9 870.8 352.3 869.8 352.4C868.8 352.6 867.5 352.6 866.5 352.4C865.5 352.3 864.4 351.9 863.8 351.5C863.2 351.2 862.7 350.6 862.7 350.1C862.7 349.6 863.2 349 863.8 348.7C864.4 348.3 865.5 347.9 866.5 347.8C867.5 347.6 868.8 347.6 869.8 347.8C870.8 347.9 871.9 348.3 872.5 348.7C873.1 349 873.5 349.6 873.5 350.1M887.7 362.8C887.7 363.3 886.9 363.9 885.6 364.3C884.4 364.7 882.2 365 880.1 365.2C878.1 365.3 875.4 365.3 873.3 365.2C871.3 365 869.1 364.7 867.8 364.3C866.5 363.9 865.7 363.3 865.7 362.8C865.7 362.4 866.5 361.8 867.8 361.4C869.1 361 871.3 360.7 873.3 360.5C875.4 360.4 878.1 360.4 880.1 360.5C882.2 360.7 884.4 361 885.6 361.4C886.9 361.8 887.7 362.4 887.7 362.8M665.9 337.1C665.9 337.6 665.5 338.2 664.8 338.5C664.1 338.9 662.8 339.3 661.7 339.4C660.6 339.6 659.1 339.6 657.9 339.4C656.8 339.3 655.6 338.9 654.8 338.5C654.1 338.2 653.7 337.6 653.7 337.1C653.7 336.6 654.1 336.1 654.8 335.7C655.6 335.3 656.8 334.9 657.9 334.8C659.1 334.6 660.6 334.6 661.7 334.8C662.8 334.9 664.1 335.3 664.8 335.7C665.5 336.1 665.9 336.6 665.9 337.1M893.9 335.9C893.9 336.4 893.5 336.9 892.9 337.3C892.4 337.7 891.4 338.1 890.5 338.2C889.6 338.4 888.4 338.4 887.5 338.2C886.5 338.1 885.6 337.7 885 337.3C884.4 336.9 884.1 336.4 884.1 335.9C884.1 335.4 884.4 334.8 885 334.4C885.6 334.1 886.5 333.7 887.5 333.6C888.4 333.4 889.6 333.4 890.5 333.6C891.4 333.7 892.4 334.1 892.9 334.4C893.5 334.8 893.9 335.4 893.9 335.9M789 321.7C789 322 788.6 322.4 787.9 322.7C787.3 322.9 786.2 323.2 785.2 323.3C784.2 323.4 782.9 323.4 781.9 323.3C780.9 323.2 779.8 322.9 779.2 322.7C778.6 322.4 778.2 322 778.2 321.7C778.2 321.3 778.6 320.9 779.2 320.7C779.8 320.4 780.9 320.1 781.9 320C782.9 319.9 784.2 319.9 785.2 320C786.2 320.1 787.3 320.4 787.9 320.7C788.6 320.9 789 321.3 789 321.7M703.9 316.3C703.9 316.6 703.3 316.9 702.3 317.1C701.3 317.4 699.6 317.6 698 317.7C696.4 317.8 694.3 317.8 692.7 317.7C691.1 317.6 689.4 317.4 688.4 317.1C687.4 316.9 686.8 316.6 686.8 316.3C686.8 316 687.4 315.6 688.4 315.4C689.4 315.2 691.1 315 692.7 314.9C694.3 314.8 696.4 314.8 698 314.9C699.6 315 701.3 315.2 702.3 315.4C703.3 315.6 703.9 316 703.9 316.3M807.4 323.6C807.4 324.1 807.2 324.7 807 325C806.8 325.3 806.4 325.6 806.1 325.6C805.8 325.6 805.5 325.3 805.3 325C805.1 324.7 804.9 324.1 804.9 323.6C804.9 323.2 805.1 322.6 805.3 322.2C805.5 321.9 805.8 321.7 806.1 321.7C806.4 321.7 806.8 321.9 807 322.2C807.2 322.6 807.4 323.2 807.4 323.6M852.7 426.6C852.7 428.3 852.4 430.2 852 431.7C851.5 433.2 850.8 434.6 850 435.5C849.2 436.3 848.2 436.9 847.3 436.9C846.4 436.9 845.4 436.3 844.6 435.5C843.8 434.6 843.1 433.2 842.6 431.7C842.2 430.2 841.9 428.3 841.9 426.6C841.9 424.9 842.2 422.9 842.6 421.4C843.1 419.9 843.8 418.5 844.6 417.7C845.4 416.8 846.4 416.3 847.3 416.3C848.2 416.3 849.2 416.8 850 417.7C850.8 418.5 851.5 419.9 852 421.4C852.4 422.9 852.7 424.9 852.7 426.6M880.4 441.3C881 439 885.8 434.3 889 432.7L899.5 431.5M899.5 445L885.3 446.2C882.1 445.6 879.8 443.5 880.4 441.3M706.4 402.1C706.4 403.4 706.2 405 706 406.1C705.8 407.2 705.4 408.2 705 408.6C704.7 409 704.2 409 703.8 408.6C703.4 408.2 703.1 407.2 702.8 406.1C702.6 405 702.5 403.4 702.5 402.1C702.5 400.7 702.6 399.1 702.8 398C703.1 396.9 703.4 395.9 703.8 395.5C704.2 395.1 704.7 395.1 705 395.5C705.4 395.9 705.8 396.9 706 398C706.2 399.1 706.4 400.7 706.4 402.1M881.9 411.9C881.9 412.7 881.7 413.8 881.5 414.5C881.3 415.2 880.9 415.8 880.5 416.1C880.1 416.3 879.7 416.3 879.3 416.1C878.9 415.8 878.5 415.2 878.3 414.5C878.1 413.8 877.9 412.7 877.9 411.9C877.9 411 878.1 410 878.3 409.3C878.5 408.6 878.9 407.9 879.3 407.7C879.7 407.4 880.1 407.4 880.5 407.7C880.9 407.9 881.3 408.6 881.5 409.3C881.7 410 881.9 411 881.9 411.9M803.2 431.5C804.2 429.8 809.5 426.6 811.8 426.6C814 426.6 816.7 429.6 816.7 431.5C816.7 433.3 813.6 436.8 811.8 437.6C809.9 438.4 807.1 437.4 805.6 436.4C804.2 435.4 802.2 433.1 803.2 431.5" fill="none" stroke="#0c0c0c" stroke-width="0.9"/>
</g>
<g clip-path="url(#cpd)">
<rect x="169.8" y="592.4" width="724.8" height="200.1" fill="#35408f"/>
<g filter="url(#b3)" fill="#3c6ec0" stroke="#3c6ec0" stroke-width="5" stroke-linejoin="round">
<path d="M398.1 755.2C398.3 753.9 399.4 752.3 401.3 751.3C403.3 750.3 406.8 749.8 409.9 749.3C413 748.8 415.6 748.1 419.7 748.3C423.8 748.5 429.8 748.9 434.4 750.5C439 752.1 447.2 756.1 447.2 757.9C447.2 759.7 439.4 760.7 434.4 761.6C429.4 762.4 422.1 763.1 417.3 763C412.4 763 408.1 762 405.2 761.3C402.4 760.6 401.3 759.9 400.1 758.9C398.9 757.9 397.9 756.5 398.1 755.2Z"/>
<path d="M449.1 758.4C449.5 756.1 460.1 754.1 466.3 751.8C472.4 749.4 478.9 746.5 485.9 744.4C492.8 742.4 503 741.6 507.9 739.5C512.8 737.5 512 734.1 515.3 732.2C518.6 730.2 523.1 728.2 527.5 727.7C532 727.3 537.8 727.3 542.3 729.7C546.7 732.1 550.8 737.9 554.5 742C558.2 746 562.1 750.1 564.3 754.2C566.6 758.3 568.4 762.8 568 766.5C567.6 770.1 564.9 773.4 561.9 776.3C558.8 779.1 553.7 781.8 549.6 783.6C545.5 785.5 542.3 787.3 537.4 787.3C532.5 787.3 525.9 785.3 520.2 783.6C514.5 782 509.2 779.3 503 777.5C496.9 775.7 490 774.6 483.4 772.6C476.9 770.6 469.5 767.6 463.8 765.2C458.1 762.9 448.7 760.6 449.1 758.4Z"/>
<path d="M591.3 702.7C592.9 700.1 597 701.6 601.1 701.5C605.2 701.4 612.5 702.5 615.8 702.3C619.1 702.1 619.1 699.4 620.7 700.3C622.3 701.2 623.1 706.6 625.6 707.6C628 708.7 632.9 707.4 635.4 706.4C637.8 705.4 637.4 702.3 640.3 701.5L653 701.5L653 786.1L640.3 783.6C635.7 782.8 629.7 782 625.6 781.2C621.5 780.4 619.1 778.5 615.8 778.7C612.5 778.9 609.2 781 606 782.4C602.7 783.8 599.2 788.3 596.2 787.3C593.1 786.3 589.6 780.6 587.6 776.3C585.6 772 584.7 766.5 583.9 761.6C583.1 756.7 582.1 751.8 582.7 746.9C583.3 742 586.2 737.1 587.6 732.2C589 727.3 590.7 722.4 591.3 717.5C591.9 712.5 589.6 705.4 591.3 702.7Z"/>
<path d="M590 688C591.7 687 598 686.4 601.1 686.8C604.1 687.2 608.4 689.3 608.4 690.5C608.4 691.7 603.9 693.8 601.1 694.2C598.2 694.6 593.1 694 591.3 692.9C589.4 691.9 588.4 689.1 590 688Z"/>
<path d="M618.2 675.8C619.5 674.9 623.8 674.9 625.6 675.3C627.4 675.7 629.7 676.9 629.3 678.2C628.9 679.5 626.2 681.5 623.1 683.1C620.1 684.8 614.6 687 610.9 688C607.2 689.1 601.5 689.9 601.1 689.3C600.7 688.7 605.6 685.8 608.4 684.4C611.3 682.9 616.6 682.1 618.2 680.7C619.9 679.3 617 676.7 618.2 675.8Z"/>
<path d="M626.8 688C627.6 685.6 631.3 684.6 634.2 684.4C637 684.2 640.8 685.4 644 686.8L653 692.9L653 701.5L640.3 701.5C637.4 702.3 637.2 706.8 635.4 706.4C633.6 706 630.7 702.1 629.3 699.1C627.8 696 626 690.5 626.8 688Z"/>
<path d="M603.3 680.2C603.3 680.4 603 680.7 602.6 680.9C602.2 681.1 601.6 681.3 600.9 681.4C600.3 681.4 599.4 681.4 598.8 681.4C598.2 681.3 597.5 681.1 597.1 680.9C596.7 680.7 596.4 680.4 596.4 680.2C596.4 680 596.7 679.7 597.1 679.5C597.5 679.3 598.2 679.1 598.8 679C599.4 679 600.3 679 600.9 679C601.6 679.1 602.2 679.3 602.6 679.5C603 679.7 603.3 680 603.3 680.2Z"/>
<path d="M647.1 688L657.4 675.8C660.3 674.2 662.3 676.2 664.7 678.2C667.2 680.3 669.6 686.6 672.1 688C674.5 689.5 677 686.8 679.4 686.8C681.9 686.8 684.3 688.2 686.8 688C689.2 687.8 692.1 686.8 694.1 685.6C696.2 684.4 696.6 681.1 699 680.7C701.5 680.3 706.4 681.9 708.8 683.1C711.3 684.4 711.7 688 713.7 688C715.8 688 718.2 684.8 721.1 683.1C723.9 681.5 727.2 679.7 730.9 678.2C734.6 676.8 739.1 676.2 743.1 674.6C747.2 672.9 752.1 668.6 755.4 668.4C758.7 668.2 759.9 672.1 762.7 673.3C765.6 674.6 768.9 674.6 772.5 675.8C776.2 677 783.2 678.6 784.8 680.7C786.4 682.7 784.4 685.6 782.4 688C780.3 690.5 772.5 693.3 772.5 695.4C772.5 697.4 778.3 699.9 782.4 700.3C786.4 700.7 793.8 697 797.1 697.8C800.3 698.7 800.9 702.7 802 705.2C803 707.6 802 713.8 803.2 712.5C804.4 711.3 808.7 701.9 809.3 697.8C809.9 693.8 808.5 691.3 806.9 688C805.2 684.8 800.3 681.9 799.5 678.2C798.7 674.6 800.7 669.2 802 666C803.2 662.7 804.8 658.6 806.9 658.6C808.9 658.6 813.8 663.1 814.2 666C814.6 668.8 809.5 672.1 809.3 675.8C809.1 679.5 811.8 684.8 813 688C814.2 691.3 814.8 695 816.7 695.4C818.5 695.8 821.6 692.5 824 690.5C826.5 688.4 829.7 687.2 831.4 683.1C833 679.1 832.2 668.4 833.8 666C835.5 663.5 838.3 666.8 841.2 668.4C844 670.1 850.2 673.3 851 675.8C851.8 678.2 847.7 681.1 846.1 683.1C844.4 685.2 839.5 687.2 841.2 688C842.8 688.9 852.2 688.9 855.9 688C859.6 687.2 860.8 684 863.2 683.1C865.7 682.3 868.5 682.3 870.6 683.1C872.6 684 873.9 685.6 875.5 688C877.1 690.5 878.8 695.2 880.4 697.8C882 700.5 882.1 703.2 885.3 704L899.5 702.7L899.5 791L870.6 792.2C861.7 792.4 854.2 792.4 846.1 792.2C837.9 792 829.7 791.4 821.6 791C813.4 790.6 805.2 790.2 797.1 789.8C788.9 789.3 778.7 788.3 772.5 788.5C766.4 788.7 764.4 791.4 760.3 791C756.2 790.6 752.1 787.3 748 786.1C744 784.9 739.9 783.6 735.8 783.6C731.7 783.6 727.2 785.1 723.5 786.1C719.9 787.1 716.6 789.7 713.7 789.8C710.9 789.8 709.2 787.5 706.4 786.6C703.5 785.6 699.4 785.8 696.6 784.1C693.7 782.5 691.7 779.4 689.2 776.8C686.8 774.2 684.3 768 681.9 768.4C679.4 768.8 677.3 775.5 674.5 779.2C671.7 782.9 668.1 788 665.2 790.5C662.3 792.9 660.4 794.7 657.4 793.9L647.1 786.1L647.1 688Z"/>
<path d="M708.8 666.7C708.8 667.1 708.6 667.6 708.3 667.9C707.9 668.2 707.3 668.5 706.8 668.6C706.2 668.7 705.5 668.7 705 668.6C704.4 668.5 703.8 668.2 703.5 667.9C703.2 667.6 702.9 667.1 702.9 666.7C702.9 666.3 703.2 665.9 703.5 665.6C703.8 665.3 704.4 665 705 664.9C705.5 664.7 706.2 664.7 706.8 664.9C707.3 665 707.9 665.3 708.3 665.6C708.6 665.9 708.8 666.3 708.8 666.7Z"/>
<path d="M837.5 662.3C837.5 662.6 837.3 663 837 663.3C836.7 663.6 836.3 663.8 835.8 663.9C835.3 664 834.7 664 834.3 663.9C833.8 663.8 833.3 663.6 833.1 663.3C832.8 663 832.6 662.6 832.6 662.3C832.6 662 832.8 661.6 833.1 661.3C833.3 661 833.8 660.8 834.3 660.7C834.7 660.6 835.3 660.6 835.8 660.7C836.3 660.8 836.7 661 837 661.3C837.3 661.6 837.5 662 837.5 662.3Z"/>
</g>
<path d="M359.9 655C359.9 655.2 358.1 655.5 355.5 655.7C352.9 655.9 348.5 656 344.3 656.1C340.1 656.2 334.5 656.2 330.3 656.1C326.1 656 321.7 655.9 319.1 655.7C316.5 655.5 314.8 655.2 314.8 655C314.8 654.7 316.5 654.4 319.1 654.2C321.7 654 326.1 653.9 330.3 653.8C334.5 653.7 340.1 653.7 344.3 653.8C348.5 653.9 352.9 654 355.5 654.2C358.1 654.4 359.9 654.7 359.9 655Z" fill="#3a52a6" filter="url(#b2)"/>
<path d="M309.6 667C309.6 667.2 309.1 667.4 308.4 667.5C307.7 667.7 306.5 667.8 305.4 667.9C304.2 668 302.7 668 301.6 667.9C300.4 667.8 299.2 667.7 298.5 667.5C297.8 667.4 297.4 667.2 297.4 667C297.4 666.8 297.8 666.5 298.5 666.4C299.2 666.2 300.4 666.1 301.6 666C302.7 666 304.2 666 305.4 666C306.5 666.1 307.7 666.2 308.4 666.4C309.1 666.5 309.6 666.8 309.6 667Z" fill="#3a52a6" filter="url(#b2)"/>
<path d="M317.2 680C317.2 680.4 316.4 680.9 315.2 681.2C314.1 681.6 312 681.9 310.1 682C308.2 682.2 305.6 682.2 303.7 682C301.8 681.9 299.8 681.6 298.6 681.2C297.4 680.9 296.6 680.4 296.6 680C296.6 679.5 297.4 679 298.6 678.7C299.8 678.3 301.8 678 303.7 677.9C305.6 677.7 308.2 677.7 310.1 677.9C312 678 314.1 678.3 315.2 678.7C316.4 679 317.2 679.5 317.2 680Z" fill="#3b5cb0" filter="url(#b3)"/>
<path d="M342.7 707.2C342.7 707.8 341.3 708.6 339.2 709.2C337.1 709.7 333.4 710.2 330 710.4C326.6 710.6 322.1 710.6 318.6 710.4C315.2 710.2 311.6 709.7 309.4 709.2C307.3 708.6 305.9 707.8 305.9 707.2C305.9 706.5 307.3 705.7 309.4 705.1C311.6 704.6 315.2 704.1 318.6 703.9C322.1 703.7 326.6 703.7 330 703.9C333.4 704.1 337.1 704.6 339.2 705.1C341.3 705.7 342.7 706.5 342.7 707.2Z" fill="#3c6ec0" filter="url(#b4)"/>
<path d="M320.6 707.6C321.2 707 324.1 705.6 326.8 705.2C329.4 704.7 334.8 704.7 336.6 705C338.3 705.2 338.5 706.2 337.3 706.9C336.1 707.6 331.6 708.8 329.2 709.1C326.8 709.5 324.5 709.4 323.1 709.1C321.7 708.9 320 708.3 320.6 707.6Z" fill="#3d86c4" filter="url(#b1)"/>
<path d="M317.2 752C317.2 752.5 316.3 753.1 314.9 753.5C313.5 753.8 311 754.2 308.7 754.3C306.5 754.5 303.4 754.5 301.2 754.3C298.9 754.2 296.4 753.8 295 753.5C293.6 753.1 292.7 752.5 292.7 752C292.7 751.5 293.6 751 295 750.6C296.4 750.2 298.9 749.8 301.2 749.7C303.4 749.5 306.5 749.5 308.7 749.7C311 749.8 313.5 750.2 314.9 750.6C316.3 751 317.2 751.5 317.2 752Z" fill="#3a52a6" filter="url(#b4)"/>
<path d="M398.1 755.2C398.3 753.9 399.4 752.3 401.3 751.3C403.3 750.3 406.8 749.8 409.9 749.3C413 748.8 415.6 748.1 419.7 748.3C423.8 748.5 429.8 748.9 434.4 750.5C439 752.1 447.2 756.1 447.2 757.9C447.2 759.7 439.4 760.7 434.4 761.6C429.4 762.4 422.1 763.1 417.3 763C412.4 763 408.1 762 405.2 761.3C402.4 760.6 401.3 759.9 400.1 758.9C398.9 757.9 397.9 756.5 398.1 755.2Z" fill="#3d86c4" filter="url(#b2)"/>
<path d="M449.1 758.4C449.5 756.1 460.1 754.1 466.3 751.8C472.4 749.4 478.9 746.5 485.9 744.4C492.8 742.4 503 741.6 507.9 739.5C512.8 737.5 512 734.1 515.3 732.2C518.6 730.2 523.1 728.2 527.5 727.7C532 727.3 537.8 727.3 542.3 729.7C546.7 732.1 550.8 737.9 554.5 742C558.2 746 562.1 750.1 564.3 754.2C566.6 758.3 568.4 762.8 568 766.5C567.6 770.1 564.9 773.4 561.9 776.3C558.8 779.1 553.7 781.8 549.6 783.6C545.5 785.5 542.3 787.3 537.4 787.3C532.5 787.3 525.9 785.3 520.2 783.6C514.5 782 509.2 779.3 503 777.5C496.9 775.7 490 774.6 483.4 772.6C476.9 770.6 469.5 767.6 463.8 765.2C458.1 762.9 448.7 760.6 449.1 758.4Z" fill="#43a0ac" filter="url(#b3)"/>
<path d="M478.5 759.1C480.2 755.6 492.4 750.9 498.1 748.1C503.9 745.3 507.9 744.3 512.8 742.5C517.7 740.6 522.6 737.5 527.5 737.1C532.5 736.6 537.4 736.7 542.3 739.5C547.2 742.4 553.7 749.9 557 754.2C560.2 758.5 562.3 761.4 561.9 765.2C561.5 769.1 558.6 774.4 554.5 777.5C550.4 780.6 543.1 783.1 537.4 783.6C531.6 784.2 525.9 782.1 520.2 780.7C514.5 779.3 508.3 777 503 775C497.7 773.1 492.4 771.6 488.3 768.9C484.2 766.3 476.9 762.6 478.5 759.1Z" fill="#69b25e" filter="url(#b3)"/>
<path d="M489.6 759.1C490.6 756.5 494.3 752.9 498.1 750.5C502 748.2 507.9 746.4 512.8 744.9C517.7 743.4 522.6 741.6 527.5 741.5C532.5 741.4 537.8 742.3 542.3 744.4C546.7 746.5 551.9 750.9 554.5 754.2C557.2 757.5 558.6 760.8 558.2 764C557.8 767.3 555.5 771.3 552.1 773.8C548.6 776.4 542.7 778.6 537.4 779.2C532 779.8 525.9 778.6 520.2 777.5C514.5 776.4 507.7 774.4 503 772.6C498.3 770.8 494.3 768.7 492 766.5C489.8 764.2 488.5 761.8 489.6 759.1Z" fill="#7db644" filter="url(#b25)"/>
<path d="M532 762.1C532 762.9 531.6 764 531 764.7C530.5 765.4 529.5 766 528.6 766.3C527.7 766.5 526.5 766.5 525.5 766.3C524.6 766 523.7 765.4 523.1 764.7C522.5 764 522.2 762.9 522.2 762.1C522.2 761.2 522.5 760.2 523.1 759.5C523.7 758.8 524.6 758.1 525.5 757.9C526.5 757.6 527.7 757.6 528.6 757.9C529.5 758.1 530.5 758.8 531 759.5C531.6 760.2 532 761.2 532 762.1Z" fill="#8fbb38" filter="url(#b1)"/>
<path d="M591.3 702.7C592.9 700.1 597 701.6 601.1 701.5C605.2 701.4 612.5 702.5 615.8 702.3C619.1 702.1 619.1 699.4 620.7 700.3C622.3 701.2 623.1 706.6 625.6 707.6C628 708.7 632.9 707.4 635.4 706.4C637.8 705.4 637.4 702.3 640.3 701.5L653 701.5L653 786.1L640.3 783.6C635.7 782.8 629.7 782 625.6 781.2C621.5 780.4 619.1 778.5 615.8 778.7C612.5 778.9 609.2 781 606 782.4C602.7 783.8 599.2 788.3 596.2 787.3C593.1 786.3 589.6 780.6 587.6 776.3C585.6 772 584.7 766.5 583.9 761.6C583.1 756.7 582.1 751.8 582.7 746.9C583.3 742 586.2 737.1 587.6 732.2C589 727.3 590.7 722.4 591.3 717.5C591.9 712.5 589.6 705.4 591.3 702.7Z" fill="#43a0ac" filter="url(#b2)"/>
<path d="M593.7 705.2C594.9 702.9 597.4 704 601.1 704C604.8 704 611.7 703.8 615.8 705.2C619.9 706.6 621.9 711.7 625.6 712.5C629.3 713.4 633.3 710.9 637.8 710.1L653 707.6L653 781.2L640.3 778.7C635.7 777.9 629.7 777.1 625.6 776.3C621.5 775.5 619.1 773.6 615.8 773.8C612.5 774 609 776.3 606 777.5C602.9 778.7 599.9 782.2 597.4 781.2C595 780.2 592.9 775 591.3 771.4C589.6 767.7 588.2 763.2 587.6 759.1C587 755 587 751.4 587.6 746.9C588.2 742.4 590.2 737.1 591.3 732.2C592.4 727.3 593.8 721.9 594.2 717.5C594.6 713 592.6 707.4 593.7 705.2Z" fill="#69b25e" filter="url(#b2)"/>
<path d="M593.7 723.6C595 720.1 597.4 721.3 601.1 721.1C604.8 720.9 610.9 722.6 615.8 722.4C620.7 722.1 627.2 719.1 630.5 719.9C633.8 720.7 634.8 723.6 635.4 727.3C636 730.9 633.3 737.1 634.2 742C635 746.9 638.9 752.2 640.3 756.7C641.7 761.2 644 766.5 642.7 768.9C641.5 771.4 636.6 771.8 632.9 771.4C629.3 771 624.8 767.7 620.7 766.5C616.6 765.2 612.1 763.6 608.4 764C604.8 764.4 601.5 769.3 598.6 768.9C595.8 768.5 592.1 766.1 591.3 761.6C590.5 757.1 593.3 748.3 593.7 742C594.1 735.6 592.5 727.1 593.7 723.6Z" fill="#7db644" filter="url(#b2)"/>
<path d="M599.9 728.5C601.1 726.8 605.8 727.1 608.4 727.3C611.1 727.5 615 727.3 615.8 729.7C616.6 732.2 615 739.7 613.3 742C611.7 744.2 608 744 606 743.2C603.9 742.4 602.1 739.5 601.1 737.1C600.1 734.6 598.6 730.1 599.9 728.5Z" fill="#a3c12f" filter="url(#b15)"/>
<path d="M590 688C591.7 687 598 686.4 601.1 686.8C604.1 687.2 608.4 689.3 608.4 690.5C608.4 691.7 603.9 693.8 601.1 694.2C598.2 694.6 593.1 694 591.3 692.9C589.4 691.9 588.4 689.1 590 688Z" fill="#43a0ac" filter="url(#b1)"/>
<path d="M618.2 675.8C619.5 674.9 623.8 674.9 625.6 675.3C627.4 675.7 629.7 676.9 629.3 678.2C628.9 679.5 626.2 681.5 623.1 683.1C620.1 684.8 614.6 687 610.9 688C607.2 689.1 601.5 689.9 601.1 689.3C600.7 688.7 605.6 685.8 608.4 684.4C611.3 682.9 616.6 682.1 618.2 680.7C619.9 679.3 617 676.7 618.2 675.8Z" fill="#43a0ac" filter="url(#b1)"/>
<path d="M626.8 688C627.6 685.6 631.3 684.6 634.2 684.4C637 684.2 640.8 685.4 644 686.8L653 692.9L653 701.5L640.3 701.5C637.4 702.3 637.2 706.8 635.4 706.4C633.6 706 630.7 702.1 629.3 699.1C627.8 696 626 690.5 626.8 688Z" fill="#43a0ac" filter="url(#b15)"/>
<path d="M644 690C644 690.5 643.6 691.1 643.1 691.4C642.6 691.8 641.7 692.2 640.9 692.3C640.1 692.5 639 692.5 638.2 692.3C637.4 692.2 636.5 691.8 636 691.4C635.5 691.1 635.1 690.5 635.1 690C635.1 689.5 635.5 688.9 636 688.6C636.5 688.2 637.4 687.8 638.2 687.7C639 687.5 640.1 687.5 640.9 687.7C641.7 687.8 642.6 688.2 643.1 688.6C643.6 688.9 644 689.5 644 690Z" fill="#7db644" filter="url(#b1)"/>
<path d="M603.3 680.2C603.3 680.4 603 680.7 602.6 680.9C602.2 681.1 601.6 681.3 600.9 681.4C600.3 681.4 599.4 681.4 598.8 681.4C598.2 681.3 597.5 681.1 597.1 680.9C596.7 680.7 596.4 680.4 596.4 680.2C596.4 680 596.7 679.7 597.1 679.5C597.5 679.3 598.2 679.1 598.8 679C599.4 679 600.3 679 600.9 679C601.6 679.1 602.2 679.3 602.6 679.5C603 679.7 603.3 680 603.3 680.2Z" fill="#43a0ac" filter="url(#b1)"/>
<path d="M644 711.3L653 708.9L653 715L647.6 715.5C646.1 714.9 643.1 712.4 644 711.3Z" fill="#8fbb38" filter="url(#b1)"/>
<path d="M647.1 688L657.4 675.8C660.3 674.2 662.3 676.2 664.7 678.2C667.2 680.3 669.6 686.6 672.1 688C674.5 689.5 677 686.8 679.4 686.8C681.9 686.8 684.3 688.2 686.8 688C689.2 687.8 692.1 686.8 694.1 685.6C696.2 684.4 696.6 681.1 699 680.7C701.5 680.3 706.4 681.9 708.8 683.1C711.3 684.4 711.7 688 713.7 688C715.8 688 718.2 684.8 721.1 683.1C723.9 681.5 727.2 679.7 730.9 678.2C734.6 676.8 739.1 676.2 743.1 674.6C747.2 672.9 752.1 668.6 755.4 668.4C758.7 668.2 759.9 672.1 762.7 673.3C765.6 674.6 768.9 674.6 772.5 675.8C776.2 677 783.2 678.6 784.8 680.7C786.4 682.7 784.4 685.6 782.4 688C780.3 690.5 772.5 693.3 772.5 695.4C772.5 697.4 778.3 699.9 782.4 700.3C786.4 700.7 793.8 697 797.1 697.8C800.3 698.7 800.9 702.7 802 705.2C803 707.6 802 713.8 803.2 712.5C804.4 711.3 808.7 701.9 809.3 697.8C809.9 693.8 808.5 691.3 806.9 688C805.2 684.8 800.3 681.9 799.5 678.2C798.7 674.6 800.7 669.2 802 666C803.2 662.7 804.8 658.6 806.9 658.6C808.9 658.6 813.8 663.1 814.2 666C814.6 668.8 809.5 672.1 809.3 675.8C809.1 679.5 811.8 684.8 813 688C814.2 691.3 814.8 695 816.7 695.4C818.5 695.8 821.6 692.5 824 690.5C826.5 688.4 829.7 687.2 831.4 683.1C833 679.1 832.2 668.4 833.8 666C835.5 663.5 838.3 666.8 841.2 668.4C844 670.1 850.2 673.3 851 675.8C851.8 678.2 847.7 681.1 846.1 683.1C844.4 685.2 839.5 687.2 841.2 688C842.8 688.9 852.2 688.9 855.9 688C859.6 687.2 860.8 684 863.2 683.1C865.7 682.3 868.5 682.3 870.6 683.1C872.6 684 873.9 685.6 875.5 688C877.1 690.5 878.8 695.2 880.4 697.8C882 700.5 882.1 703.2 885.3 704L899.5 702.7L899.5 791L870.6 792.2C861.7 792.4 854.2 792.4 846.1 792.2C837.9 792 829.7 791.4 821.6 791C813.4 790.6 805.2 790.2 797.1 789.8C788.9 789.3 778.7 788.3 772.5 788.5C766.4 788.7 764.4 791.4 760.3 791C756.2 790.6 752.1 787.3 748 786.1C744 784.9 739.9 783.6 735.8 783.6C731.7 783.6 727.2 785.1 723.5 786.1C719.9 787.1 716.6 789.7 713.7 789.8C710.9 789.8 709.2 787.5 706.4 786.6C703.5 785.6 699.4 785.8 696.6 784.1C693.7 782.5 691.7 779.4 689.2 776.8C686.8 774.2 684.3 768 681.9 768.4C679.4 768.8 677.3 775.5 674.5 779.2C671.7 782.9 668.1 788 665.2 790.5C662.3 792.9 660.4 794.7 657.4 793.9L647.1 786.1L647.1 688Z" fill="#43a0ac" filter="url(#b2)"/>
<path d="M647.1 697.8L664.7 692.9C668.9 691.1 668.8 687 672.1 686.8C675.3 686.6 679.8 690.3 684.3 691.7C688.8 693.1 694.1 694.4 699 695.4C703.9 696.4 709.6 698.3 713.7 697.8C717.8 697.4 718.6 694.6 723.5 692.9C728.4 691.3 737.4 688 743.1 688C748.9 688 752.1 691.3 757.8 692.9C763.6 694.6 770.9 695.8 777.5 697.8C784 699.9 792.2 701.9 797.1 705.2C802 708.5 802.8 717.5 806.9 717.5C810.9 717.5 816.7 708.1 821.6 705.2C826.5 702.3 829.7 700.7 836.3 700.3C842.8 699.9 855.1 699.9 860.8 702.7C866.5 705.6 864.1 712.5 870.6 717.5L899.5 732.2L899.5 789.8L797.1 787.3C773.9 787.1 770.5 789.5 760.3 788.5C750.1 787.6 743.5 782.1 735.8 781.7C728 781.3 718.6 785.9 713.7 786.1C708.8 786.3 709.2 784 706.4 782.9C703.5 781.8 699.4 781.5 696.6 779.7C693.7 777.9 691.7 775 689.2 772.4C686.8 769.7 684.5 763 681.9 763.5C679.2 764.1 676.3 771.7 673.3 775.5C670.2 779.4 666.3 784.3 663.5 786.6C660.6 788.8 658.9 789.6 656.1 789L647.1 783.1L647.1 697.8Z" fill="#69b25e" filter="url(#b25)"/>
<path d="M647.1 705.2L669.6 697.8C673.8 695 669.6 688.9 672.1 688C674.5 687.2 681 690.9 684.3 692.9C687.6 695 687.6 698.3 691.7 700.3C695.8 702.3 704.3 705.2 708.8 705.2C713.3 705.2 715 702.3 718.6 700.3C722.3 698.3 726 693.3 730.9 692.9C735.8 692.5 744.4 695.8 748 697.8C751.7 699.9 748.9 704.4 752.9 705.2C757 706 766.8 702.7 772.5 702.7C778.3 702.7 782.4 702.7 787.3 705.2C792.2 707.6 797.9 713.8 802 717.5C806 721.1 806.9 726.4 811.8 727.3C816.7 728.1 824 723.6 831.4 722.4C838.7 721.1 849.3 719.1 855.9 719.9C862.4 720.7 863.3 724.4 870.6 727.3L899.5 737.1L899.5 789L846.1 789C829 788.5 811.4 786.6 797.1 786.1C782.8 785.6 768.5 786.9 760.3 786.1C752.1 785.3 754.2 782 748 781.2C741.9 780.4 730.5 781.4 723.5 781.2C716.6 780.9 710.9 780.6 706.4 779.7C701.9 778.8 699.4 777.7 696.6 775.8C693.7 773.9 691.7 771.2 689.2 768.4C686.8 765.7 684.7 758.5 681.9 759.1C679 759.7 675.3 768.1 672.1 771.9C668.8 775.6 665.1 779.8 662.3 781.7C659.4 783.5 657.4 783.4 654.9 782.9L647.1 778.7L647.1 705.2Z" fill="#7db644" filter="url(#b25)"/>
<path d="M752.9 761.6C755.8 757.1 773.4 754.2 782.4 751.8C791.3 749.3 800.3 749.3 806.9 746.9C813.4 744.4 815 739.5 821.6 737.1C828.1 734.6 837.9 732.6 846.1 732.2C854.2 731.7 861.7 733.4 870.6 734.6L899.5 739.5L899.5 789L846.1 789C829 788.5 810.5 787.8 797.1 786.1C783.6 784.4 772.5 782.8 765.2 778.7C757.8 774.6 750.1 766.1 752.9 761.6Z" fill="#8fbb38" filter="url(#b4)"/>
<path d="M787.3 766.5C788.9 762.6 805.2 762.4 811.8 759.1C818.3 755.8 820.8 750.1 826.5 746.9C832.2 743.6 838.7 740.3 846.1 739.5C853.4 738.7 861.7 740.7 870.6 742L899.5 746.9L899.5 786.1L846.1 786.1C829.8 785.5 811.8 785.7 802 782.4C792.2 779.1 785.6 770.4 787.3 766.5Z" fill="#a3c12f" filter="url(#b4)"/>
<path d="M642.6 730.9L647.1 727.7L657.4 727.3C660.1 728 663.1 729.7 663.5 732.2C663.9 734.6 661.6 739.1 659.8 742C658 744.8 655.1 748.1 652.5 749.3C649.8 750.5 645.9 750.9 643.9 749.3C641.8 747.7 640.4 742.6 640.2 739.5C640 736.4 641.5 732.9 642.6 730.9Z" fill="#43a0ac" filter="url(#b15)"/>
<path d="M646.3 734.6C647.8 732.7 651.6 731.7 653.7 731.7C655.7 731.6 658.2 732.6 658.6 734.1C659 735.6 658 738.9 656.1 740.7L647.1 744.9L645.1 743.2C645 741.5 644.9 736.5 646.3 734.6Z" fill="#35408f" filter="url(#b15)"/>
<path d="M706.4 712.5C707.2 710.9 711.1 708.9 712.5 710.1C713.9 711.3 715.2 717.5 715 719.9C714.7 722.4 712.5 724.8 711.3 724.8C710 724.8 708.4 721.9 707.6 719.9C706.8 717.9 705.6 714.2 706.4 712.5Z" fill="#3c6ec0" filter="url(#b15)"/>
<path d="M757.8 737.1C760.3 734.4 771.3 730.9 777.5 730.9C783.6 730.9 791.5 734.8 794.6 737.1C797.7 739.3 798.3 742.2 795.8 744.4C793.4 746.7 785.4 750.1 779.9 750.5C774.4 750.9 766.4 749.1 762.7 746.9C759.1 744.6 755.4 739.7 757.8 737.1Z" fill="#58ad7c" filter="url(#b2)"/>
<path d="M865.7 705.2C867.3 704 874.8 707.6 880.4 707.6L899.5 705.2L899.5 730.9L880.4 722.4C875.6 719.7 873 717.9 870.6 715C868.1 712.1 864.1 706.4 865.7 705.2Z" fill="#3c6ec0" filter="url(#b25)"/>
<path d="M673.3 723.6C675.5 720.1 681.2 721.1 686.8 721.1C692.3 721.1 702.7 720.9 706.4 723.6C710 726.2 709.2 733.2 708.8 737.1C708.4 740.9 703.5 743.2 703.9 746.9C704.3 750.5 708 756.7 711.3 759.1C714.5 761.6 719.4 760.3 723.5 761.6C727.6 762.8 734.2 764.4 735.8 766.5C737.4 768.5 737 772.2 733.3 773.8C729.7 775.5 720.3 777.5 713.7 776.3C707.2 775 699.8 769.7 694.1 766.5C688.4 763.2 682.9 760.8 679.4 756.7C675.9 752.6 674.3 747.5 673.3 742C672.3 736.4 671 727.1 673.3 723.6Z" fill="#a3c12f" filter="url(#b3)"/>
<path d="M675.7 730.9C676.6 730 681.7 729.6 683.1 730.2C684.5 730.8 685.1 733.7 684.3 734.6C683.5 735.5 679.6 736.4 678.2 735.8C676.8 735.2 674.9 731.9 675.7 730.9Z" fill="#b6c42c" filter="url(#b1)"/>
<path d="M700.2 729.7C700.9 728.7 703.7 729.5 704.4 730.9C705.1 732.4 705.1 737.3 704.4 738.3C703.7 739.3 700.9 738.5 700.2 737.1C699.6 735.6 699.6 730.7 700.2 729.7Z" fill="#b6c42c" filter="url(#b1)"/>
<path d="M721.6 761.6C721.6 762.4 721.2 763.5 720.6 764.2C720.1 764.9 719.1 765.5 718.2 765.8C717.3 766 716.1 766 715.2 765.8C714.2 765.5 713.3 764.9 712.7 764.2C712.1 763.5 711.8 762.4 711.8 761.6C711.8 760.7 712.1 759.7 712.7 759C713.3 758.3 714.2 757.6 715.2 757.4C716.1 757.1 717.3 757.1 718.2 757.4C719.1 757.6 720.1 758.3 720.6 759C721.2 759.7 721.6 760.7 721.6 761.6Z" fill="#b6c42c" filter="url(#b15)"/>
<path d="M824 759.1C825.2 756.3 826.9 749.3 828.9 749.3C831 749.3 831.4 757.9 836.3 759.1C841.2 760.3 847.8 758.3 858.3 756.7L899.5 749.3L899.5 778.7L870.6 780C861.7 780 853.4 779.7 846.1 778.7C838.7 777.7 830.6 775.9 826.5 773.8C822.4 771.8 822 768.9 821.6 766.5C821.2 764 822.8 762 824 759.1Z" fill="#d27c29" filter="url(#b4)"/>
<path d="M859.6 761.6C860.6 759.7 859 757.5 865.7 756.7L899.5 756.7L899.5 770.1L865.7 771.4C859 771 860.6 769.3 859.6 767.7C858.5 766.1 858.5 763.4 859.6 761.6Z" fill="#c74a2b" filter="url(#b15)"/>
<path d="M817.2 743.2C817.2 744.1 817 745.1 816.7 745.8C816.4 746.5 815.9 747.1 815.5 747.4C815 747.6 814.4 747.6 813.9 747.4C813.5 747.1 813 746.5 812.7 745.8C812.4 745.1 812.3 744.1 812.3 743.2C812.3 742.3 812.4 741.3 812.7 740.6C813 739.9 813.5 739.3 813.9 739C814.4 738.7 815 738.7 815.5 739C815.9 739.3 816.4 739.9 816.7 740.6C817 741.3 817.2 742.3 817.2 743.2Z" fill="#7db644" filter="url(#b1)"/>
<path d="M835.8 740.7C836.6 740.2 841.1 742.2 841.2 743.2C841.3 744.1 837.2 746.8 836.3 746.4C835.4 746 835 741.3 835.8 740.7Z" fill="#a3c12f" filter="url(#b1)"/>
<path d="M743.9 685.1C743.9 685.6 743.4 686.2 742.6 686.5C741.8 686.9 740.4 687.3 739.1 687.4C737.9 687.6 736.2 687.6 734.9 687.4C733.6 687.3 732.2 686.9 731.5 686.5C730.7 686.2 730.1 685.6 730.1 685.1C730.1 684.6 730.7 684 731.5 683.7C732.2 683.3 733.6 682.9 734.9 682.8C736.2 682.6 737.9 682.6 739.1 682.8C740.4 682.9 741.8 683.3 742.6 683.7C743.4 684 743.9 684.6 743.9 685.1Z" fill="#3c6ec0" filter="url(#b1)"/>
<path d="M781.1 692.5C781.1 692.9 780.3 693.5 779 693.9C777.8 694.3 775.6 694.6 773.5 694.8C771.5 694.9 768.7 694.9 766.7 694.8C764.6 694.6 762.4 694.3 761.2 693.9C759.9 693.5 759.1 692.9 759.1 692.5C759.1 692 759.9 691.4 761.2 691C762.4 690.6 764.6 690.3 766.7 690.1C768.7 690 771.5 690 773.5 690.1C775.6 690.3 777.8 690.6 779 691C780.3 691.4 781.1 692 781.1 692.5Z" fill="#35408f" filter="url(#b2)"/>
<path d="M730.1 694.2C730.1 694.6 729.7 695.1 729.1 695.5C728.5 695.8 727.4 696.1 726.4 696.3C725.4 696.4 724.1 696.4 723.1 696.3C722.1 696.1 721 695.8 720.4 695.5C719.8 695.1 719.4 694.6 719.4 694.2C719.4 693.7 719.8 693.2 720.4 692.9C721 692.5 722.1 692.2 723.1 692.1C724.1 691.9 725.4 691.9 726.4 692.1C727.4 692.2 728.5 692.5 729.1 692.9C729.7 693.2 730.1 693.7 730.1 694.2Z" fill="#35408f" filter="url(#b2)"/>
<path d="M689.2 684.4C689.2 684.7 688.7 685.2 687.8 685.5C687 685.8 685.5 686.1 684.1 686.2C682.8 686.3 681 686.3 679.6 686.2C678.2 686.1 676.8 685.8 675.9 685.5C675.1 685.2 674.5 684.7 674.5 684.4C674.5 684 675.1 683.5 675.9 683.2C676.8 682.9 678.2 682.6 679.6 682.5C681 682.4 682.8 682.4 684.1 682.5C685.5 682.6 687 682.9 687.8 683.2C688.7 683.5 689.2 684 689.2 684.4Z" fill="#35408f" filter="url(#b2)"/>
<path d="M739 704.7C739 705.2 738.6 705.8 738.1 706.1C737.6 706.5 736.7 706.9 735.9 707C735.1 707.2 734 707.2 733.2 707C732.4 706.9 731.5 706.5 731 706.1C730.5 705.8 730.1 705.2 730.1 704.7C730.1 704.2 730.5 703.7 731 703.3C731.5 702.9 732.4 702.5 733.2 702.4C734 702.2 735.1 702.2 735.9 702.4C736.7 702.5 737.6 702.9 738.1 703.3C738.6 703.7 739 704.2 739 704.7Z" fill="#3c6ec0" filter="url(#b1)"/>
<path d="M743.1 690.5C744.6 689.1 752.9 686.4 755.4 686.1C757.8 685.8 759.3 687.2 757.8 688.5C756.4 689.9 749.3 693.8 746.8 694.2C744.4 694.5 741.7 691.8 743.1 690.5Z" fill="#7db644" filter="url(#b1)"/>
<path d="M759.3 680.2C759.3 680.6 759.1 681 758.7 681.3C758.3 681.7 757.6 681.9 756.9 682.1C756.3 682.2 755.5 682.2 754.8 682.1C754.2 681.9 753.5 681.7 753.1 681.3C752.7 681 752.5 680.6 752.5 680.2C752.5 679.8 752.7 679.4 753.1 679C753.5 678.7 754.2 678.4 754.8 678.3C755.5 678.2 756.3 678.2 756.9 678.3C757.6 678.4 758.3 678.7 758.7 679C759.1 679.4 759.3 679.8 759.3 680.2Z" fill="#3c6ec0" filter="url(#b1)"/>
<path d="M772.5 684.4C772.5 684.7 772.4 685.2 772.1 685.5C771.8 685.8 771.3 686.1 770.9 686.2C770.4 686.3 769.8 686.3 769.3 686.2C768.9 686.1 768.4 685.8 768.1 685.5C767.8 685.2 767.6 684.7 767.6 684.4C767.6 684 767.8 683.5 768.1 683.2C768.4 682.9 768.9 682.6 769.3 682.5C769.8 682.4 770.4 682.4 770.9 682.5C771.3 682.6 771.8 682.9 772.1 683.2C772.4 683.5 772.5 684 772.5 684.4Z" fill="#3c6ec0" filter="url(#b1)"/>
<path d="M839.2 697.8C839.2 698.3 839 698.9 838.6 699.3C838.2 699.7 837.5 700 836.8 700.2C836.2 700.3 835.4 700.3 834.7 700.2C834.1 700 833.4 699.7 833 699.3C832.6 698.9 832.4 698.3 832.4 697.8C832.4 697.4 832.6 696.8 833 696.4C833.4 696 834.1 695.7 834.7 695.5C835.4 695.4 836.2 695.4 836.8 695.5C837.5 695.7 838.2 696 838.6 696.4C839 696.8 839.2 697.4 839.2 697.8Z" fill="#3c6ec0" filter="url(#b1)"/>
<path d="M838.2 715.5C838.2 715.9 838 716.3 837.8 716.6C837.5 717 837 717.2 836.5 717.4C836.1 717.5 835.5 717.5 835 717.4C834.6 717.2 834.1 717 833.8 716.6C833.5 716.3 833.3 715.9 833.3 715.5C833.3 715.1 833.5 714.6 833.8 714.3C834.1 714 834.6 713.7 835 713.6C835.5 713.5 836.1 713.5 836.5 713.6C837 713.7 837.5 714 837.8 714.3C838 714.6 838.2 715.1 838.2 715.5Z" fill="#3c6ec0" filter="url(#b1)"/>
<path d="M868.1 697.4C868.1 698.2 867.8 699.2 867.3 699.9C866.8 700.6 865.9 701.3 865.1 701.5C864.3 701.8 863.2 701.8 862.4 701.5C861.5 701.3 860.7 700.6 860.2 699.9C859.6 699.2 859.3 698.2 859.3 697.4C859.3 696.5 859.6 695.5 860.2 694.8C860.7 694.1 861.5 693.4 862.4 693.2C863.2 692.9 864.3 692.9 865.1 693.2C865.9 693.4 866.8 694.1 867.3 694.8C867.8 695.5 868.1 696.5 868.1 697.4Z" fill="#3c6ec0" filter="url(#b1)"/>
<path d="M708.8 666.7C708.8 667.1 708.6 667.6 708.3 667.9C707.9 668.2 707.3 668.5 706.8 668.6C706.2 668.7 705.5 668.7 705 668.6C704.4 668.5 703.8 668.2 703.5 667.9C703.2 667.6 702.9 667.1 702.9 666.7C702.9 666.3 703.2 665.9 703.5 665.6C703.8 665.3 704.4 665 705 664.9C705.5 664.7 706.2 664.7 706.8 664.9C707.3 665 707.9 665.3 708.3 665.6C708.6 665.9 708.8 666.3 708.8 666.7Z" fill="#43a0ac" filter="url(#b1)"/>
<path d="M837.5 662.3C837.5 662.6 837.3 663 837 663.3C836.7 663.6 836.3 663.8 835.8 663.9C835.3 664 834.7 664 834.3 663.9C833.8 663.8 833.3 663.6 833.1 663.3C832.8 663 832.6 662.6 832.6 662.3C832.6 662 832.8 661.6 833.1 661.3C833.3 661 833.8 660.8 834.3 660.7C834.7 660.6 835.3 660.6 835.8 660.7C836.3 660.8 836.7 661 837 661.3C837.3 661.6 837.5 662 837.5 662.3Z" fill="#43a0ac" filter="url(#b1)"/>
<path d="M689.2 661.1C689.2 661.1 689.1 661.2 689 661.3C688.8 661.3 688.6 661.3 688.4 661.4C688.1 661.4 687.8 661.4 687.6 661.4C687.4 661.3 687.1 661.3 687 661.3C686.9 661.2 686.8 661.1 686.8 661.1C686.8 661 686.9 661 687 660.9C687.1 660.9 687.4 660.8 687.6 660.8C687.8 660.8 688.1 660.8 688.4 660.8C688.6 660.8 688.8 660.9 689 660.9C689.1 661 689.2 661 689.2 661.1Z" fill="#35408f" filter="url(#b05)"/>
<path d="M676.5 694.2C676.7 693.8 681.2 694.4 681.9 694.9C682.6 695.4 681.5 697.5 680.6 697.4C679.7 697.2 676.3 694.6 676.5 694.2Z" fill="#7db644" filter="url(#b1)"/>
<path d="M689.2 712.5C689.6 711.3 693.9 709.7 695.3 710.1C696.8 710.5 698.2 713.8 697.8 715C697.4 716.2 694.3 717.9 692.9 717.5C691.5 717 688.8 713.8 689.2 712.5Z" fill="#3c6ec0" filter="url(#b15)"/>
<path d="M320.6 707.6C321.2 707 324.1 705.6 326.8 705.2C329.4 704.7 334.8 704.7 336.6 705C338.3 705.2 338.5 706.2 337.3 706.9C336.1 707.6 331.6 708.8 329.2 709.1C326.8 709.5 324.5 709.4 323.1 709.1C321.7 708.9 320 708.3 320.6 707.6M398.1 755.2C398.3 753.9 399.4 752.3 401.3 751.3C403.3 750.3 406.8 749.8 409.9 749.3C413 748.8 415.6 748.1 419.7 748.3C423.8 748.5 429.8 748.9 434.4 750.5C439 752.1 447.2 756.1 447.2 757.9C447.2 759.7 439.4 760.7 434.4 761.6C429.4 762.4 422.1 763.1 417.3 763C412.4 763 408.1 762 405.2 761.3C402.4 760.6 401.3 759.9 400.1 758.9C398.9 757.9 397.9 756.5 398.1 755.2M449.1 758.4C449.5 756.1 460.1 754.1 466.3 751.8C472.4 749.4 478.9 746.5 485.9 744.4C492.8 742.4 503 741.6 507.9 739.5C512.8 737.5 512 734.1 515.3 732.2C518.6 730.2 523.1 728.2 527.5 727.7C532 727.3 537.8 727.3 542.3 729.7C546.7 732.1 550.8 737.9 554.5 742C558.2 746 562.1 750.1 564.3 754.2C566.6 758.3 568.4 762.8 568 766.5C567.6 770.1 564.9 773.4 561.9 776.3C558.8 779.1 553.7 781.8 549.6 783.6C545.5 785.5 542.3 787.3 537.4 787.3C532.5 787.3 525.9 785.3 520.2 783.6C514.5 782 509.2 779.3 503 777.5C496.9 775.7 490 774.6 483.4 772.6C476.9 770.6 469.5 767.6 463.8 765.2C458.1 762.9 448.7 760.6 449.1 758.4M489.6 759.1C490.6 756.5 494.3 752.9 498.1 750.5C502 748.2 507.9 746.4 512.8 744.9C517.7 743.4 522.6 741.6 527.5 741.5C532.5 741.4 537.8 742.3 542.3 744.4C546.7 746.5 551.9 750.9 554.5 754.2C557.2 757.5 558.6 760.8 558.2 764C557.8 767.3 555.5 771.3 552.1 773.8C548.6 776.4 542.7 778.6 537.4 779.2C532 779.8 525.9 778.6 520.2 777.5C514.5 776.4 507.7 774.4 503 772.6C498.3 770.8 494.3 768.7 492 766.5C489.8 764.2 488.5 761.8 489.6 759.1M532 762.1C532 762.9 531.6 764 531 764.7C530.5 765.4 529.5 766 528.6 766.3C527.7 766.5 526.5 766.5 525.5 766.3C524.6 766 523.7 765.4 523.1 764.7C522.5 764 522.2 762.9 522.2 762.1C522.2 761.2 522.5 760.2 523.1 759.5C523.7 758.8 524.6 758.1 525.5 757.9C526.5 757.6 527.7 757.6 528.6 757.9C529.5 758.1 530.5 758.8 531 759.5C531.6 760.2 532 761.2 532 762.1M591.3 702.7C592.9 700.1 597 701.6 601.1 701.5C605.2 701.4 612.5 702.5 615.8 702.3C619.1 702.1 619.1 699.4 620.7 700.3C622.3 701.2 623.1 706.6 625.6 707.6C628 708.7 632.9 707.4 635.4 706.4C637.8 705.4 637.8 702.3 640.3 701.5L650.1 701.5M650.1 786.1L640.3 783.6C636.2 782.8 629.7 782 625.6 781.2C621.5 780.4 619.1 778.5 615.8 778.7C612.5 778.9 609.2 781 606 782.4C602.7 783.8 599.2 788.3 596.2 787.3C593.1 786.3 589.6 780.6 587.6 776.3C585.6 772 584.7 766.5 583.9 761.6C583.1 756.7 582.1 751.8 582.7 746.9C583.3 742 586.2 737.1 587.6 732.2C589 727.3 590.7 722.4 591.3 717.5C591.9 712.5 589.6 705.4 591.3 702.7M593.7 705.2C594.9 702.9 597.4 704 601.1 704C604.8 704 611.7 703.8 615.8 705.2C619.9 706.6 621.9 711.7 625.6 712.5C629.3 713.4 633.8 710.9 637.8 710.1L650.1 707.6M650.1 781.2L640.3 778.7C636.2 777.9 629.7 777.1 625.6 776.3C621.5 775.5 619.1 773.6 615.8 773.8C612.5 774 609 776.3 606 777.5C602.9 778.7 599.9 782.2 597.4 781.2C595 780.2 592.9 775 591.3 771.4C589.6 767.7 588.2 763.2 587.6 759.1C587 755 587 751.4 587.6 746.9C588.2 742.4 590.2 737.1 591.3 732.2C592.4 727.3 593.8 721.9 594.2 717.5C594.6 713 592.6 707.4 593.7 705.2M593.7 723.6C595 720.1 597.4 721.3 601.1 721.1C604.8 720.9 610.9 722.6 615.8 722.4C620.7 722.1 627.2 719.1 630.5 719.9C633.8 720.7 634.8 723.6 635.4 727.3C636 730.9 633.3 737.1 634.2 742C635 746.9 638.9 752.2 640.3 756.7C641.7 761.2 644 766.5 642.7 768.9C641.5 771.4 636.6 771.8 632.9 771.4C629.3 771 624.8 767.7 620.7 766.5C616.6 765.2 612.1 763.6 608.4 764C604.8 764.4 601.5 769.3 598.6 768.9C595.8 768.5 592.1 766.1 591.3 761.6C590.5 757.1 593.3 748.3 593.7 742C594.1 735.6 592.5 727.1 593.7 723.6M599.9 728.5C601.1 726.8 605.8 727.1 608.4 727.3C611.1 727.5 615 727.3 615.8 729.7C616.6 732.2 615 739.7 613.3 742C611.7 744.2 608 744 606 743.2C603.9 742.4 602.1 739.5 601.1 737.1C600.1 734.6 598.6 730.1 599.9 728.5M590 688C591.7 687 598 686.4 601.1 686.8C604.1 687.2 608.4 689.3 608.4 690.5C608.4 691.7 603.9 693.8 601.1 694.2C598.2 694.6 593.1 694 591.3 692.9C589.4 691.9 588.4 689.1 590 688M618.2 675.8C619.5 674.9 623.8 674.9 625.6 675.3C627.4 675.7 629.7 676.9 629.3 678.2C628.9 679.5 626.2 681.5 623.1 683.1C620.1 684.8 614.6 687 610.9 688C607.2 689.1 601.5 689.9 601.1 689.3C600.7 688.7 605.6 685.8 608.4 684.4C611.3 682.9 616.6 682.1 618.2 680.7C619.9 679.3 617 676.7 618.2 675.8M626.8 688C627.6 685.6 631.3 684.6 634.2 684.4C637 684.2 641.3 685.4 644 686.8L650.1 692.9M635.4 706.4C633.6 706 630.7 702.1 629.3 699.1C627.8 696 626 690.5 626.8 688M644 690C644 690.5 643.6 691.1 643.1 691.4C642.6 691.8 641.7 692.2 640.9 692.3C640.1 692.5 639 692.5 638.2 692.3C637.4 692.2 636.5 691.8 636 691.4C635.5 691.1 635.1 690.5 635.1 690C635.1 689.5 635.5 688.9 636 688.6C636.5 688.2 637.4 687.8 638.2 687.7C639 687.5 640.1 687.5 640.9 687.7C641.7 687.8 642.6 688.2 643.1 688.6C643.6 688.9 644 689.5 644 690M603.3 680.2C603.3 680.4 603 680.7 602.6 680.9C602.2 681.1 601.6 681.3 600.9 681.4C600.3 681.4 599.4 681.4 598.8 681.4C598.2 681.3 597.5 681.1 597.1 680.9C596.7 680.7 596.4 680.4 596.4 680.2C596.4 680 596.7 679.7 597.1 679.5C597.5 679.3 598.2 679.1 598.8 679C599.4 679 600.3 679 600.9 679C601.6 679.1 602.2 679.3 602.6 679.5C603 679.7 603.3 680 603.3 680.2M644 711.3L650.1 708.9M650.1 715L647.6 715.5C646.6 714.9 643.6 712.4 644 711.3M650 688L657.4 675.8C659.8 674.2 662.3 676.2 664.7 678.2C667.2 680.3 669.6 686.6 672.1 688C674.5 689.5 677 686.8 679.4 686.8C681.9 686.8 684.3 688.2 686.8 688C689.2 687.8 692.1 686.8 694.1 685.6C696.2 684.4 696.6 681.1 699 680.7C701.5 680.3 706.4 681.9 708.8 683.1C711.3 684.4 711.7 688 713.7 688C715.8 688 718.2 684.8 721.1 683.1C723.9 681.5 727.2 679.7 730.9 678.2C734.6 676.8 739.1 676.2 743.1 674.6C747.2 672.9 752.1 668.6 755.4 668.4C758.7 668.2 759.9 672.1 762.7 673.3C765.6 674.6 768.9 674.6 772.5 675.8C776.2 677 783.2 678.6 784.8 680.7C786.4 682.7 784.4 685.6 782.4 688C780.3 690.5 772.5 693.3 772.5 695.4C772.5 697.4 778.3 699.9 782.4 700.3C786.4 700.7 793.8 697 797.1 697.8C800.3 698.7 800.9 702.7 802 705.2C803 707.6 802 713.8 803.2 712.5C804.4 711.3 808.7 701.9 809.3 697.8C809.9 693.8 808.5 691.3 806.9 688C805.2 684.8 800.3 681.9 799.5 678.2C798.7 674.6 800.7 669.2 802 666C803.2 662.7 804.8 658.6 806.9 658.6C808.9 658.6 813.8 663.1 814.2 666C814.6 668.8 809.5 672.1 809.3 675.8C809.1 679.5 811.8 684.8 813 688C814.2 691.3 814.8 695 816.7 695.4C818.5 695.8 821.6 692.5 824 690.5C826.5 688.4 829.7 687.2 831.4 683.1C833 679.1 832.2 668.4 833.8 666C835.5 663.5 838.3 666.8 841.2 668.4C844 670.1 850.2 673.3 851 675.8C851.8 678.2 847.7 681.1 846.1 683.1C844.4 685.2 839.5 687.2 841.2 688C842.8 688.9 852.2 688.9 855.9 688C859.6 687.2 860.8 684 863.2 683.1C865.7 682.3 868.5 682.3 870.6 683.1C872.6 684 873.9 685.6 875.5 688C877.1 690.5 878.8 695.2 880.4 697.8C882 700.5 882.1 703.2 885.3 704L899.5 702.7M899.5 791L870.6 792.2C861.7 792.4 854.2 792.4 846.1 792.2C837.9 792 829.7 791.4 821.6 791C813.4 790.6 805.2 790.2 797.1 789.8C788.9 789.3 778.7 788.3 772.5 788.5C766.4 788.7 764.4 791.4 760.3 791C756.2 790.6 752.1 787.3 748 786.1C744 784.9 739.9 783.6 735.8 783.6C731.7 783.6 727.2 785.1 723.5 786.1C719.9 787.1 716.6 789.7 713.7 789.8C710.9 789.8 709.2 787.5 706.4 786.6C703.5 785.6 699.4 785.8 696.6 784.1C693.7 782.5 691.7 779.4 689.2 776.8C686.8 774.2 684.3 768 681.9 768.4C679.4 768.8 677.3 775.5 674.5 779.2C671.7 782.9 668.1 788 665.2 790.5C662.3 792.9 659.9 794.7 657.4 793.9L650 786.1M650 705.2L669.6 697.8C673.3 695 669.6 688.9 672.1 688C674.5 687.2 681 690.9 684.3 692.9C687.6 695 687.6 698.3 691.7 700.3C695.8 702.3 704.3 705.2 708.8 705.2C713.3 705.2 715 702.3 718.6 700.3C722.3 698.3 726 693.3 730.9 692.9C735.8 692.5 744.4 695.8 748 697.8C751.7 699.9 748.9 704.4 752.9 705.2C757 706 766.8 702.7 772.5 702.7C778.3 702.7 782.4 702.7 787.3 705.2C792.2 707.6 797.9 713.8 802 717.5C806 721.1 806.9 726.4 811.8 727.3C816.7 728.1 824 723.6 831.4 722.4C838.7 721.1 849.3 719.1 855.9 719.9C862.4 720.7 863.3 724.4 870.6 727.3L899.5 737.1M899.5 789L846.1 789C829 788.5 811.4 786.6 797.1 786.1C782.8 785.6 768.5 786.9 760.3 786.1C752.1 785.3 754.2 782 748 781.2C741.9 780.4 730.5 781.4 723.5 781.2C716.6 780.9 710.9 780.6 706.4 779.7C701.9 778.8 699.4 777.7 696.6 775.8C693.7 773.9 691.7 771.2 689.2 768.4C686.8 765.7 684.7 758.5 681.9 759.1C679 759.7 675.3 768.1 672.1 771.9C668.8 775.6 665.1 779.8 662.3 781.7C659.4 783.5 656.9 783.4 654.9 782.9L650 778.7M642.6 730.9L650 727.7L657.4 727.3C659.6 728 663.1 729.7 663.5 732.2C663.9 734.6 661.6 739.1 659.8 742C658 744.8 655.1 748.1 652.5 749.3C649.8 750.5 645.9 750.9 643.9 749.3C641.8 747.7 640.4 742.6 640.2 739.5C640 736.4 641 732.9 642.6 730.9M646.3 734.6C647.8 732.7 651.6 731.7 653.7 731.7C655.7 731.6 658.2 732.6 658.6 734.1C659 735.6 657.6 738.9 656.1 740.7L650 744.9L645.1 743.2C644.5 741.5 644.9 736.5 646.3 734.6M706.4 712.5C707.2 710.9 711.1 708.9 712.5 710.1C713.9 711.3 715.2 717.5 715 719.9C714.7 722.4 712.5 724.8 711.3 724.8C710 724.8 708.4 721.9 707.6 719.9C706.8 717.9 705.6 714.2 706.4 712.5M757.8 737.1C760.3 734.4 771.3 730.9 777.5 730.9C783.6 730.9 791.5 734.8 794.6 737.1C797.7 739.3 798.3 742.2 795.8 744.4C793.4 746.7 785.4 750.1 779.9 750.5C774.4 750.9 766.4 749.1 762.7 746.9C759.1 744.6 755.4 739.7 757.8 737.1M673.3 723.6C675.5 720.1 681.2 721.1 686.8 721.1C692.3 721.1 702.7 720.9 706.4 723.6C710 726.2 709.2 733.2 708.8 737.1C708.4 740.9 703.5 743.2 703.9 746.9C704.3 750.5 708 756.7 711.3 759.1C714.5 761.6 719.4 760.3 723.5 761.6C727.6 762.8 734.2 764.4 735.8 766.5C737.4 768.5 737 772.2 733.3 773.8C729.7 775.5 720.3 777.5 713.7 776.3C707.2 775 699.8 769.7 694.1 766.5C688.4 763.2 682.9 760.8 679.4 756.7C675.9 752.6 674.3 747.5 673.3 742C672.3 736.4 671 727.1 673.3 723.6M675.7 730.9C676.6 730 681.7 729.6 683.1 730.2C684.5 730.8 685.1 733.7 684.3 734.6C683.5 735.5 679.6 736.4 678.2 735.8C676.8 735.2 674.9 731.9 675.7 730.9M700.2 729.7C700.9 728.7 703.7 729.5 704.4 730.9C705.1 732.4 705.1 737.3 704.4 738.3C703.7 739.3 700.9 738.5 700.2 737.1C699.6 735.6 699.6 730.7 700.2 729.7M721.6 761.6C721.6 762.4 721.2 763.5 720.6 764.2C720.1 764.9 719.1 765.5 718.2 765.8C717.3 766 716.1 766 715.2 765.8C714.2 765.5 713.3 764.9 712.7 764.2C712.1 763.5 711.8 762.4 711.8 761.6C711.8 760.7 712.1 759.7 712.7 759C713.3 758.3 714.2 757.6 715.2 757.4C716.1 757.1 717.3 757.1 718.2 757.4C719.1 757.6 720.1 758.3 720.6 759C721.2 759.7 721.6 760.7 721.6 761.6M859.6 761.6C860.6 759.7 859 757.5 865.7 756.7L899.5 756.7M899.5 770.1L865.7 771.4C859 771 860.6 769.3 859.6 767.7C858.5 766.1 858.5 763.4 859.6 761.6M817.2 743.2C817.2 744.1 817 745.1 816.7 745.8C816.4 746.5 815.9 747.1 815.5 747.4C815 747.6 814.4 747.6 813.9 747.4C813.5 747.1 813 746.5 812.7 745.8C812.4 745.1 812.3 744.1 812.3 743.2C812.3 742.3 812.4 741.3 812.7 740.6C813 739.9 813.5 739.3 813.9 739C814.4 738.7 815 738.7 815.5 739C815.9 739.3 816.4 739.9 816.7 740.6C817 741.3 817.2 742.3 817.2 743.2M835.8 740.7C836.6 740.2 841.1 742.2 841.2 743.2C841.3 744.1 837.2 746.8 836.3 746.4C835.4 746 835 741.3 835.8 740.7M743.9 685.1C743.9 685.6 743.4 686.2 742.6 686.5C741.8 686.9 740.4 687.3 739.1 687.4C737.9 687.6 736.2 687.6 734.9 687.4C733.6 687.3 732.2 686.9 731.5 686.5C730.7 686.2 730.1 685.6 730.1 685.1C730.1 684.6 730.7 684 731.5 683.7C732.2 683.3 733.6 682.9 734.9 682.8C736.2 682.6 737.9 682.6 739.1 682.8C740.4 682.9 741.8 683.3 742.6 683.7C743.4 684 743.9 684.6 743.9 685.1M739 704.7C739 705.2 738.6 705.8 738.1 706.1C737.6 706.5 736.7 706.9 735.9 707C735.1 707.2 734 707.2 733.2 707C732.4 706.9 731.5 706.5 731 706.1C730.5 705.8 730.1 705.2 730.1 704.7C730.1 704.2 730.5 703.7 731 703.3C731.5 702.9 732.4 702.5 733.2 702.4C734 702.2 735.1 702.2 735.9 702.4C736.7 702.5 737.6 702.9 738.1 703.3C738.6 703.7 739 704.2 739 704.7M743.1 690.5C744.6 689.1 752.9 686.4 755.4 686.1C757.8 685.8 759.3 687.2 757.8 688.5C756.4 689.9 749.3 693.8 746.8 694.2C744.4 694.5 741.7 691.8 743.1 690.5M759.3 680.2C759.3 680.6 759.1 681 758.7 681.3C758.3 681.7 757.6 681.9 756.9 682.1C756.3 682.2 755.5 682.2 754.8 682.1C754.2 681.9 753.5 681.7 753.1 681.3C752.7 681 752.5 680.6 752.5 680.2C752.5 679.8 752.7 679.4 753.1 679C753.5 678.7 754.2 678.4 754.8 678.3C755.5 678.2 756.3 678.2 756.9 678.3C757.6 678.4 758.3 678.7 758.7 679C759.1 679.4 759.3 679.8 759.3 680.2M772.5 684.4C772.5 684.7 772.4 685.2 772.1 685.5C771.8 685.8 771.3 686.1 770.9 686.2C770.4 686.3 769.8 686.3 769.3 686.2C768.9 686.1 768.4 685.8 768.1 685.5C767.8 685.2 767.6 684.7 767.6 684.4C767.6 684 767.8 683.5 768.1 683.2C768.4 682.9 768.9 682.6 769.3 682.5C769.8 682.4 770.4 682.4 770.9 682.5C771.3 682.6 771.8 682.9 772.1 683.2C772.4 683.5 772.5 684 772.5 684.4M839.2 697.8C839.2 698.3 839 698.9 838.6 699.3C838.2 699.7 837.5 700 836.8 700.2C836.2 700.3 835.4 700.3 834.7 700.2C834.1 700 833.4 699.7 833 699.3C832.6 698.9 832.4 698.3 832.4 697.8C832.4 697.4 832.6 696.8 833 696.4C833.4 696 834.1 695.7 834.7 695.5C835.4 695.4 836.2 695.4 836.8 695.5C837.5 695.7 838.2 696 838.6 696.4C839 696.8 839.2 697.4 839.2 697.8M838.2 715.5C838.2 715.9 838 716.3 837.8 716.6C837.5 717 837 717.2 836.5 717.4C836.1 717.5 835.5 717.5 835 717.4C834.6 717.2 834.1 717 833.8 716.6C833.5 716.3 833.3 715.9 833.3 715.5C833.3 715.1 833.5 714.6 833.8 714.3C834.1 714 834.6 713.7 835 713.6C835.5 713.5 836.1 713.5 836.5 713.6C837 713.7 837.5 714 837.8 714.3C838 714.6 838.2 715.1 838.2 715.5M868.1 697.4C868.1 698.2 867.8 699.2 867.3 699.9C866.8 700.6 865.9 701.3 865.1 701.5C864.3 701.8 863.2 701.8 862.4 701.5C861.5 701.3 860.7 700.6 860.2 699.9C859.6 699.2 859.3 698.2 859.3 697.4C859.3 696.5 859.6 695.5 860.2 694.8C860.7 694.1 861.5 693.4 862.4 693.2C863.2 692.9 864.3 692.9 865.1 693.2C865.9 693.4 866.8 694.1 867.3 694.8C867.8 695.5 868.1 696.5 868.1 697.4M708.8 666.7C708.8 667.1 708.6 667.6 708.3 667.9C707.9 668.2 707.3 668.5 706.8 668.6C706.2 668.7 705.5 668.7 705 668.6C704.4 668.5 703.8 668.2 703.5 667.9C703.2 667.6 702.9 667.1 702.9 666.7C702.9 666.3 703.2 665.9 703.5 665.6C703.8 665.3 704.4 665 705 664.9C705.5 664.7 706.2 664.7 706.8 664.9C707.3 665 707.9 665.3 708.3 665.6C708.6 665.9 708.8 666.3 708.8 666.7M837.5 662.3C837.5 662.6 837.3 663 837 663.3C836.7 663.6 836.3 663.8 835.8 663.9C835.3 664 834.7 664 834.3 663.9C833.8 663.8 833.3 663.6 833.1 663.3C832.8 663 832.6 662.6 832.6 662.3C832.6 662 832.8 661.6 833.1 661.3C833.3 661 833.8 660.8 834.3 660.7C834.7 660.6 835.3 660.6 835.8 660.7C836.3 660.8 836.7 661 837 661.3C837.3 661.6 837.5 662 837.5 662.3M689.2 661.1C689.2 661.1 689.1 661.2 689 661.3C688.8 661.3 688.6 661.3 688.4 661.4C688.1 661.4 687.8 661.4 687.6 661.4C687.4 661.3 687.1 661.3 687 661.3C686.9 661.2 686.8 661.1 686.8 661.1C686.8 661 686.9 661 687 660.9C687.1 660.9 687.4 660.8 687.6 660.8C687.8 660.8 688.1 660.8 688.4 660.8C688.6 660.8 688.8 660.9 689 660.9C689.1 661 689.2 661 689.2 661.1M676.5 694.2C676.7 693.8 681.2 694.4 681.9 694.9C682.6 695.4 681.5 697.5 680.6 697.4C679.7 697.2 676.3 694.6 676.5 694.2M689.2 712.5C689.6 711.3 693.9 709.7 695.3 710.1C696.8 710.5 698.2 713.8 697.8 715C697.4 716.2 694.3 717.9 692.9 717.5C691.5 717 688.8 713.8 689.2 712.5M782.4 766.5C784.8 767.5 790.5 770.4 797.1 772.6C803.6 774.8 813.4 778.1 821.6 780C829.7 781.8 837.9 782.8 846.1 783.6C854.2 784.4 862 784.9 870.6 784.9C879.2 784.9 893.1 783.8 897.5 783.6M757.8 771.4C761.1 772.8 770.1 777.7 777.5 780C784.8 782.2 793 783.6 802 784.9C810.9 786.1 820.8 786.7 831.4 787.3C842 787.9 854.7 788.5 865.7 788.5C876.7 788.5 892.2 787.5 897.5 787.3M811.8 727.3C815.8 727.9 828.5 729.3 836.3 730.9C844 732.6 851.4 735 858.3 737.1C865.3 739.1 871.4 741.5 877.9 743.2C884.5 744.9 894.3 746.7 897.5 747.4M826.5 750.5C827.1 752 827.3 758.7 830.1 759.1C833 759.5 838.5 754.6 843.6 753C848.7 751.4 855.1 750.3 860.8 749.3C866.5 748.3 871.8 746.7 877.9 746.9C884.1 747.1 894.3 749.9 897.5 750.5M806.9 761.6C809.3 762.8 815.8 766.7 821.6 768.9C827.3 771.2 833.8 773.6 841.2 775C848.5 776.5 856.3 777.2 865.7 777.5C875.1 777.8 892.2 776.9 897.5 776.8" fill="none" stroke="#0c0c0c" stroke-width="0.9"/>
</g>
<path d="M331.7 373.9C338.6 373.9 359.4 373.9 373.3 373.9C387.2 373.8 403.6 373.8 415 373.6C426.4 373.5 431.2 373.3 441.8 373.1C452.4 373 467.5 372.6 478.5 372.6C489.6 372.7 499.8 372.8 507.9 373.4C516.1 374 521 375.2 527.5 376.3C534.1 377.4 540.6 379.8 547.2 380C553.7 380.2 559.4 378.4 566.8 377.5C574.1 376.7 584.7 375.1 591.3 375.1C597.8 375.1 601.1 376.4 606 377.5C610.9 378.7 615.8 381.1 620.7 382C625.6 382.8 630.5 382.4 635.4 382.5C640.3 382.5 645.1 382.5 650 382.5C654.9 382.5 659.8 383.1 664.7 382.5C669.6 381.8 674.5 379.4 679.4 378.8C684.3 378.2 689.2 378.2 694.1 378.8C699 379.4 702.7 381.2 708.8 382.5C715 383.7 722.3 385.3 730.9 386.1C739.5 386.9 750.5 386.9 760.3 387.4C770.1 387.8 782.8 388.4 789.7 388.6C796.7 388.8 798.3 389.8 802 388.6C805.6 387.4 807.7 383.3 811.8 381.2C815.8 379.2 820.8 377.5 826.5 376.3C832.2 375.2 838.7 374.6 846.1 374.4C853.4 374.2 863.4 375.1 870.6 375.1C877.7 375.1 885.9 374.7 889 374.6" fill="none" stroke="#fff" stroke-width="2.7" stroke-dasharray="13.3 8"/>
<path d="M331.7 708.9C338.6 708.9 359.4 708.9 373.3 708.9C387.2 708.8 403.6 708.8 415 708.6C426.4 708.5 431.2 708.3 441.8 708.1C452.4 708 467.5 707.6 478.5 707.6C489.6 707.7 499.8 707.8 507.9 708.4C516.1 709 521 710.2 527.5 711.3C534.1 712.4 540.6 714.8 547.2 715C553.7 715.2 559.4 713.4 566.8 712.5C574.1 711.7 584.7 710.1 591.3 710.1C597.8 710.1 601.1 711.4 606 712.5C610.9 713.7 615.8 716.1 620.7 717C625.6 717.8 630.5 717.4 635.4 717.5C640.3 717.5 645.1 717.5 650 717.5C654.9 717.5 659.8 718.1 664.7 717.5C669.6 716.8 674.5 714.4 679.4 713.8C684.3 713.2 689.2 713.2 694.1 713.8C699 714.4 702.7 716.2 708.8 717.5C715 718.7 722.3 720.3 730.9 721.1C739.5 721.9 750.5 721.9 760.3 722.4C770.1 722.8 782.8 723.4 789.7 723.6C796.7 723.8 798.3 724.8 802 723.6C805.6 722.4 807.7 718.3 811.8 716.2C815.8 714.2 820.8 712.5 826.5 711.3C832.2 710.2 838.7 709.6 846.1 709.4C853.4 709.2 863.4 710.1 870.6 710.1C877.7 710.1 885.9 709.7 889 709.6" fill="none" stroke="#fff" stroke-width="2.7" stroke-dasharray="13.3 8"/>
<path d="M331.7 383.7C337.4 384.1 353.3 385.1 366 386.1C378.6 387.1 395 388.4 407.6 389.8C420.3 391.2 430 392.9 441.8 394.7C453.6 396.5 466.3 398.8 478.5 400.8C490.8 402.9 504.7 404.7 515.3 407C525.9 409.2 532.9 412.7 542.3 414.3C551.7 415.9 561.9 416.3 571.7 416.8C581.5 417.3 592.9 416.8 601.1 417.3C609.2 417.7 615 418.8 620.7 419.7C626.4 420.6 630.5 422.3 635.4 422.9C640.3 423.5 645.1 423.2 650 423.4C654.9 423.6 659.8 424.4 664.7 424.1C669.6 423.8 673.7 422.1 679.4 421.7C685.1 421.3 692.5 421.1 699 421.7C705.6 422.3 711.3 424.1 718.6 425.3C726 426.6 735 428.2 743.1 429C751.3 429.8 760.3 429.9 767.6 430.2C775 430.6 780.7 431.1 787.3 431C793.8 430.9 800.3 430.2 806.9 429.5C813.4 428.8 820.3 427.3 826.5 426.6C832.6 425.9 836.3 425.5 843.6 425.3C851 425.1 862.4 425.1 870.6 425.3C878.8 425.5 889 426.4 892.6 426.6" fill="none" stroke="#fff" stroke-width="2.7" stroke-dasharray="13.3 8"/>
<path d="M331.7 718.7C337.4 719.1 353.3 720.1 366 721.1C378.6 722.1 395 723.4 407.6 724.8C420.3 726.2 430 727.9 441.8 729.7C453.6 731.5 466.3 733.8 478.5 735.8C490.8 737.9 504.7 739.7 515.3 742C525.9 744.2 532.9 747.7 542.3 749.3C551.7 750.9 561.9 751.3 571.7 751.8C581.5 752.3 592.9 751.8 601.1 752.3C609.2 752.7 615 753.8 620.7 754.7C626.4 755.6 630.5 757.3 635.4 757.9C640.3 758.5 645.1 758.2 650 758.4C654.9 758.6 659.8 759.4 664.7 759.1C669.6 758.8 673.7 757.1 679.4 756.7C685.1 756.3 692.5 756.1 699 756.7C705.6 757.3 711.3 759.1 718.6 760.3C726 761.6 735 763.2 743.1 764C751.3 764.8 760.3 764.9 767.6 765.2C775 765.6 780.7 766.1 787.3 766C793.8 765.9 800.3 765.2 806.9 764.5C813.4 763.8 820.3 762.3 826.5 761.6C832.6 760.9 836.3 760.5 843.6 760.3C851 760.1 862.4 760.1 870.6 760.3C878.8 760.5 889 761.4 892.6 761.6" fill="none" stroke="#fff" stroke-width="2.7" stroke-dasharray="13.3 8"/>
<line x1="151.8" y1="209.5" x2="912.7" y2="209.5" stroke="#111" stroke-width="1"/>
<path d="M170.6 208.4C199.6 208.4 361.3 208.5 400 208.4C438.7 208.4 462.9 208.2 476.5 207.9C490 207.6 501.2 206.1 507.1 205.9C512.9 205.7 517.8 206.2 522.4 206.4C526.9 206.6 535.6 207.4 542.7 207.7C549.8 207.9 570.7 208.4 578.4 208.4C586.2 208.5 598.1 208.1 603.9 207.9C609.7 207.7 619.8 207 624.3 206.6C628.8 206.3 635.7 205.8 639.6 205.4C643.5 205 652.3 203.8 654.9 203.3C657.5 202.9 658.4 202.5 660 202.1C661.6 201.6 665.7 200.3 667.6 199.5C669.6 198.8 673.2 197 675.3 196.2C677.4 195.4 682.4 193.9 684.2 193.1C686 192.4 688 190.7 689.3 190.1C690.6 189.5 693 188.4 694.4 188.5C695.9 188.7 699.2 190.4 700.8 191.1C702.4 191.8 705.5 193.4 707.2 194.4C708.8 195.4 711.9 197.7 713.5 198.7C715.1 199.8 718.3 202.2 719.9 202.6C721.5 202.9 724.7 201.8 726.3 201.3C727.9 200.7 731.2 199.2 732.6 198.2C734.1 197.3 736.5 194.8 737.7 193.9C739 193 741.6 191.6 742.8 191.1C744.1 190.6 746.6 190 747.9 190.1C749.2 190.2 751.7 191.3 753 191.9C754.3 192.4 756.8 193.8 758.1 194.4C759.4 195.1 761.8 196 763.2 197C764.7 197.9 768 200.9 769.6 202.1C771.2 203.2 774.4 205.4 776 205.9C777.6 206.4 780.7 206 782.4 205.9C784 205.8 787.1 205.2 788.7 204.9C790.3 204.5 793.5 203.8 795.1 203.3C796.7 202.9 799.9 201.8 801.5 201.3C803.1 200.8 806.2 199.9 807.8 199.5C809.5 199.1 812.6 198.6 814.2 198.2C815.8 197.8 819 196.9 820.6 196.5C822.2 196 825.3 194.9 827 194.4C828.6 193.9 831.7 192.9 833.3 192.4C834.9 191.9 838.1 190.7 839.7 190.6C841.3 190.4 844.5 190.8 846.1 191.1C847.7 191.4 850.8 192.2 852.5 193.1C854.1 194 857.2 196.9 858.8 198.2C860.4 199.5 863.6 202.3 865.2 203.3C866.8 204.4 870 206.2 871.6 206.6C873.2 207.1 876.3 207.1 877.9 206.6C879.6 206.2 882.9 204.3 884.3 203.3C885.8 202.4 888.1 198.9 889.4 199C890.7 199.1 893.9 203.5 894.5 204.1" fill="none" stroke="#7fc4dd" stroke-width="1.6" stroke-linejoin="round"/>
<path d="M170.6 208.4C199.6 208.4 364.5 208.3 400 208.4C435.5 208.5 441.9 208.9 451 209.2C460 209.5 466.9 210.3 471.4 210.5C475.9 210.6 482.8 210.7 486.7 210.5C490.5 210.2 498.7 209.1 502 208.4C505.2 207.8 509.6 206.5 512.2 205.4C514.7 204.2 519.8 200.9 522.4 199.5C524.9 198.1 530 195.4 532.5 194.4C535.1 193.4 540.2 192.5 542.7 191.9C545.3 191.2 550.4 190 552.9 189.3C555.5 188.7 560.6 187.2 563.1 186.8C565.7 186.3 571.1 185.6 573.3 185.5C575.6 185.4 579 185.6 581 186C582.9 186.4 586.4 188 588.6 188.5C590.9 189.1 596.2 190.2 598.8 190.6C601.4 191 606.4 191.9 609 191.9C611.6 191.9 616.6 190.7 619.2 190.6C621.8 190.5 626.8 191.1 629.4 191.4C632 191.6 637 191.9 639.6 192.4C642.2 192.9 647.9 194.6 649.8 195.2C651.7 195.8 653.6 196.9 654.9 197C656.2 197 658.5 195.7 660 195.7C661.5 195.7 664.8 196.6 666.4 197C668 197.3 671.1 198.2 672.7 198.2C674.4 198.2 677.7 197 679.1 197C680.6 197 682.9 197.8 684.2 198.2C685.5 198.7 688 200.1 689.3 200.8C690.6 201.5 693 203.5 694.4 203.8C695.9 204.2 699.3 203.2 700.8 203.3C702.2 203.4 704.4 204.7 705.9 204.6C707.3 204.5 710.6 203.5 712.3 202.8C713.9 202.2 717 200.1 718.6 199.5C720.2 198.9 723.4 198.8 725 198.2C726.6 197.7 729.8 195.5 731.4 195.2C733 194.9 736.1 195.3 737.7 195.7C739.4 196.1 742.5 197.4 744.1 198.2C745.7 199 748.9 201.2 750.5 202.1C752.1 202.9 755.2 204.7 756.9 205.1C758.5 205.5 761.8 205.6 763.2 205.4C764.7 205.1 767 204 768.3 203.3C769.6 202.7 772 200.7 773.4 200.3C774.9 199.9 778.2 200.1 779.8 200C781.4 199.9 784.6 199.3 786.2 199.5C787.8 199.8 790.9 201.4 792.5 202.1C794.2 202.7 797.3 204.4 798.9 204.6C800.5 204.8 803.7 204 805.3 203.8C806.9 203.7 810.1 203.2 811.7 203.3C813.3 203.4 816.4 204.1 818 204.6C819.7 205.1 822.8 206.3 824.4 207.2C826 208 829.2 210.1 830.8 211C832.4 211.9 835.5 213.5 837.2 214C838.8 214.6 841.9 215.1 843.5 215.3C845.1 215.6 848.3 215.5 849.9 216.1C851.5 216.7 854.7 218.6 856.3 219.9C857.9 221.2 861.2 225 862.6 226.3C864.1 227.6 866.5 229.4 867.7 230.1C869 230.8 871.6 231.9 872.8 231.9C874.1 231.9 876.6 230.8 877.9 230.1C879.2 229.4 881.6 228.3 883 226.3C884.5 224.2 888 215.3 889.4 214C890.9 212.8 893.9 216.3 894.5 216.6" fill="none" stroke="#e09a3c" stroke-width="1.6" stroke-linejoin="round"/>
<path d="M172.5 208.4h0M178.9 208.4h0M185.3 208.4h0M191.7 208.4h0M198.1 208.4h0M204.5 208.4h0M210.9 208.4h0M217.3 208.4h0M223.7 208.4h0M230.1 208.4h0M236.5 208.4h0M242.9 208.4h0M249.3 208.3h0M255.7 208.3h0M262.1 208.3h0M268.5 208.3h0M274.9 208.3h0M281.3 208.3h0M287.7 208.3h0M294.1 208.3h0M300.5 208.3h0M306.9 208.3h0M313.3 208.3h0M319.7 208.3h0M326.1 208.3h0M332.5 208.3h0M338.9 208.2h0M345.3 208.2h0M351.7 208.2h0M358.1 208.2h0M364.5 208.2h0M370.9 208.2h0M377.3 208.2h0M383.7 208.2h0M390.1 208.2h0M396.5 208.2h0M402.9 208.1h0M409.3 208h0M415.7 207.9h0M422.1 207.8h0M428.5 207.7h0M434.9 207.7h0M441.3 207.6h0M447.7 207.5h0M454.1 207.2h0M460.5 206.7h0M466.9 206.1h0M473.3 205.6h0M479.7 204.7h0M486.1 203.4h0M492.5 202h0M498.9 200.5h0M505.3 198.8h0M511.7 197.1h0M518.1 195.5h0M524.5 194.1h0M530.9 193.3h0M537.3 193.1h0M543.7 193.8h0M550.1 194.8h0M556.5 195.9h0M562.9 196.8h0M569.3 197.6h0M575.7 198h0M582.1 198.5h0M588.5 198.6h0M594.9 198h0M601.3 196.7h0M607.7 195.5h0M614.1 194.4h0M620.5 194.4h0M626.9 194.7h0M633.3 195.5h0M639.7 196.6h0M646.1 197.7h0M652.5 199h0M658.9 199.5h0M665.3 199.1h0M671.7 197.7h0M678.1 195.8h0M684.5 193.5h0M690.9 195.6h0M697.3 196.7h0M703.7 197h0M710.1 195.9h0M716.5 193h0M722.9 191.3h0M729.3 192.2h0M735.7 194.9h0M742.1 196.3h0M748.5 196.9h0M754.9 192.7h0M761.3 188.2h0M767.7 186.1h0M774.1 188.9h0M780.5 193.9h0M786.9 199.4h0M793.3 202.8h0M799.7 204.6h0M806.1 201.3h0M812.5 195.3h0M818.9 190h0M825.3 185.3h0M831.7 185.4h0M838.1 189.8h0M844.5 192.2h0M850.9 193.1h0M857.3 190.7h0M863.7 187.9h0M870.1 184.9h0M876.5 184.2h0M882.9 182.7h0M889.3 187.4h0" fill="none" stroke="#c0202a" stroke-width="3.0" stroke-linecap="round"/>
<path d="M176.9 208.4h0M183.3 208.4h0M189.7 208.4h0M196.1 208.4h0M202.5 208.4h0M208.9 208.4h0M215.3 208.4h0M221.7 208.4h0M228.1 208.4h0M234.5 208.4h0M240.9 208.4h0M247.3 208.4h0M253.7 208.4h0M260.1 208.4h0M266.5 208.4h0M272.9 208.4h0M279.3 208.4h0M285.7 208.4h0M292.1 208.4h0M298.5 208.4h0M304.9 208.4h0M311.3 208.4h0M317.7 208.4h0M324.1 208.4h0M330.5 208.4h0M336.9 208.4h0M343.3 208.4h0M349.7 208.4h0M356.1 208.4h0M362.5 208.4h0M368.9 208.4h0M375.3 208.4h0M381.7 208.4h0M388.1 208.4h0M394.5 208.4h0M400.9 208.4h0M407.3 208.4h0M413.7 208.3h0M420.1 208.3h0M426.5 208.3h0M432.9 208.2h0M439.3 208.2h0M445.7 208.1h0M452.1 208.1h0M458.5 208h0M464.9 208h0M471.3 208h0M477.7 207.9h0M484.1 207.7h0M490.5 207.5h0M496.9 207.3h0M503.3 207.1h0M509.7 206.9h0M516.1 206.7h0M522.5 206.5h0M528.9 206.4h0M535.3 206.4h0M541.7 206.7h0M548.1 207.1h0M554.5 207.4h0M560.9 207.6h0M567.3 207.6h0M573.7 207.3h0M580.1 205.7h0M586.5 198.9h0M592.9 189.4h0M599.3 180.8h0M605.7 173.5h0M612.1 170.8h0M618.5 173.6h0M624.9 177.6h0M631.3 181.2h0M637.7 183.9h0M644.1 186.7h0M650.5 189.4h0M656.9 190.6h0M663.3 190.4h0M669.7 188.2h0M676.1 183.7h0M682.5 175.9h0M688.9 175.2h0M695.3 171.5h0M701.7 168.8h0M708.1 168.7h0M714.5 169.5h0M720.9 172.6h0M727.3 177h0M733.7 181.4h0M740.1 183h0M746.5 185.3h0M752.9 187.9h0M759.3 190.5h0M765.7 192.7h0M772.1 190h0M778.5 187.2h0M784.9 184.3h0M791.3 180.7h0M797.7 176.2h0M804.1 170.7h0M810.5 160.5h0M816.9 151h0M823.3 144.9h0M829.7 138.7h0M836.1 135.4h0M842.5 137.3h0M848.9 134.6h0M855.3 122.1h0M861.7 113.4h0M868.1 102.3h0M874.5 97.5h0M880.9 103.5h0M887.3 114.3h0M893.7 118.2h0" fill="none" stroke="#27348b" stroke-width="3.0" stroke-linecap="round"/>
<path d="M170 210C172.5 210.2 185.6 211.5 190 211.5C194.4 211.5 201.2 210.4 205 210C208.8 209.6 214.9 208.5 220 208C225.1 207.5 239.3 206.9 245 206C250.7 205.1 259.9 202 265 201C270.1 200 279.3 198.5 285 198C290.7 197.5 301.8 197.3 310 197C318.2 196.7 338.6 196.2 350 196C361.4 195.8 391.7 195.7 400 195.5C408.3 195.3 411.4 194.7 415.3 194.4C419.2 194.1 426.7 193.5 430.6 193.1C434.5 192.7 442 192 445.9 191.4C449.8 190.7 457.3 189.1 461.2 188C465.1 187 472.6 184.7 476.5 182.9C480.3 181.2 488.5 176.6 491.8 174C495 171.4 499.4 166.3 502 162.5C504.5 158.8 509.6 149.1 512.2 144.7C514.7 140.3 519.8 131.9 522.4 128.1C524.9 124.4 530.3 117.7 532.5 115.4C534.8 113 538.3 110.7 540.2 109.5C542.1 108.4 545.6 107 547.8 106.5C550.1 106 554.8 105.7 558 105.7C561.3 105.7 569.8 106.1 573.3 106.5C576.9 106.9 583.5 109.2 586.1 109C588.7 108.9 591.5 106.6 593.7 105.2C596 103.7 601.3 99.3 603.9 97.5C606.5 95.8 612.2 92.6 614.1 91.7C616.1 90.8 617.6 90.7 619.2 90.7C620.8 90.6 624.6 90.5 626.9 91.2C629.1 91.8 634.5 94.2 637.1 95.8C639.6 97.4 645 102.2 647.3 103.9C649.5 105.7 653.3 108.7 654.9 109.5C656.5 110.4 658.1 110.8 660 110.8C661.9 110.8 667.6 109.8 670.2 109.8C672.8 109.7 677.2 109.9 680.4 110.3C683.6 110.7 692.5 112.8 695.7 112.8C698.9 112.8 703.9 111.1 705.9 110.3C707.8 109.5 709 107.5 711 106.5C712.9 105.4 718.3 103.1 721.2 102.1C724.1 101.2 730.7 99.4 733.9 98.8C737.2 98.2 743.4 97.6 746.7 97.5C749.9 97.5 756.5 97.7 759.4 98.1C762.3 98.4 767 99 769.6 100.1C772.2 101.2 777.2 104.7 779.8 106.5C782.4 108.2 787.7 112.5 790 114.1C792.3 115.7 796.1 118.3 797.6 119.2C799.2 120.1 800.7 121.2 802 121C803.3 120.8 805.8 119.3 807.8 117.9C809.9 116.6 815.8 111.7 818 110.3C820.3 108.8 823.7 107 825.7 106.5C827.6 105.9 831.7 105.6 833.3 106C834.9 106.3 836.8 108.5 838.4 109.5C840 110.6 844.1 113.4 846.1 114.1C848 114.9 851.5 115.4 853.7 115.4C856 115.4 861.3 114.9 863.9 114.1C866.5 113.3 872 110.5 874.1 109C876.2 107.6 879.3 104.1 880.5 102.6C881.7 101.2 882.7 98.4 883.8 97.5C884.9 96.7 888.1 96.5 889.4 96.3C890.8 96.1 893.9 96.1 894.5 96" fill="none" stroke="#111" stroke-width="1.6" stroke-linejoin="round" stroke-dasharray="13 8"/>
<path d="M170.6 208.4C199.6 208.4 364.5 208.1 400 207.9C435.5 207.8 442.6 207.4 451 207.2C459.4 206.9 463 206.2 466.3 205.9C469.5 205.6 473.6 205.1 476.5 204.6C479.4 204.1 486 202.8 489.2 202.1C492.4 201.3 499.1 199.6 502 198.7C504.9 197.9 509.6 196.5 512.2 195.7C514.7 194.9 519.8 193 522.4 192.4C524.9 191.8 530.3 191 532.5 190.8C534.8 190.7 538.3 190.9 540.2 191.1C542.1 191.3 545.6 191.7 547.8 192.1C550.1 192.5 555.5 193.9 558 194.4C560.6 194.9 566 196 568.2 196.2C570.5 196.4 574.1 196.6 575.9 196.2C577.7 195.8 580.8 194.2 582.3 193.1C583.7 192.1 586.1 189.8 587.4 188C588.6 186.3 591.2 181.4 592.5 179.1C593.7 176.9 596.1 172.5 597.5 170.2C599 167.9 602.5 162.9 603.9 161.3C605.4 159.7 607.8 158.2 609 157.5C610.2 156.7 612.3 155.5 613.6 155.7C614.9 155.8 617.2 157.5 619.2 158.7C621.2 160 626.8 163.9 629.4 165.6C632 167.3 637 170.5 639.6 172.2C642.2 173.9 647.7 177.7 649.8 179.1C651.9 180.6 654.9 183.2 656.2 183.7C657.5 184.2 658.7 183.3 660 182.9C661.3 182.6 664.8 181.7 666.4 180.9C668 180.1 671.1 178.4 672.7 176.6C674.4 174.7 677.7 168.6 679.1 166.4C680.6 164.1 682.9 159.4 684.2 158.7C685.5 158 688 160.7 689.3 160.8C690.6 160.9 693 160.1 694.4 159.5C695.9 158.9 699.3 156.4 700.8 155.9C702.2 155.4 704.6 155.6 705.9 155.7C707.2 155.8 709.7 156.7 711 156.7C712.3 156.7 714.8 155.5 716.1 155.4C717.4 155.3 719.9 155.2 721.2 155.7C722.5 156.2 724.7 158.1 726.3 159.5C727.9 160.8 732 165 733.9 166.4C735.9 167.8 739.6 169.8 741.6 170.7C743.5 171.6 747.3 173.3 749.2 173.5C751.2 173.7 754.9 172.7 756.9 172.2C758.8 171.8 762.4 170.7 764.5 170.2C766.6 169.6 771.5 167.9 773.4 167.9C775.4 167.9 778.2 169.6 779.8 170.2C781.4 170.8 784.7 172.5 786.2 173C787.6 173.5 789.8 173.9 791.3 173.8C792.7 173.6 796.2 172.3 797.6 171.7C799.1 171.1 801.5 170.7 802.7 168.9C804 167.1 806.6 160.8 807.8 157.5C809.1 154.1 811.5 145.9 812.9 142.2C814.4 138.4 817.7 131.2 819.3 128.1C820.9 125.1 824.2 119.7 825.7 117.9C827.1 116.2 829.5 114.6 830.8 114.1C832.1 113.6 834.6 113.4 835.9 114.1C837.2 114.8 839.7 118.8 841 119.7C842.3 120.6 844.8 121.8 846.1 121.3C847.4 120.7 849.7 118.2 851.2 115.4C852.6 112.6 855.9 102.7 857.5 98.8C859.2 94.9 862.5 87.7 863.9 84.8C865.4 81.9 867.8 77.4 869 75.9C870.2 74.3 872.5 72.8 873.6 72.6C874.7 72.3 876.7 72.8 877.9 73.8C879.1 74.9 881.6 78.3 883 81C884.5 83.7 888 92.4 889.4 95C890.9 97.6 893.9 101 894.5 101.9" fill="none" stroke="#111" stroke-width="1.7" stroke-linejoin="round"/>
<path d="M169.1 575.1C174 575.1 200.6 575 207.4 574.7C214.1 574.5 219.3 573.8 222.6 573.2C226 572.6 231.2 571.2 234.1 570.1C237 569.1 242.7 566.5 245.6 565.2C248.5 563.8 254.2 560.8 257.1 559.4C260 558.1 265.6 555.5 268.5 554.5C271.4 553.5 276.6 551.9 280 551.4C283.4 550.9 290.5 550.5 295.3 550.3C300.1 550 312.4 549.5 318.2 549.5C324 549.5 335.8 550.1 341.2 550.3C346.5 550.5 355.5 551.2 360.3 551C365.1 550.8 374.1 549.6 379.4 548.7C384.7 547.9 396.5 545.7 402.4 544.5C408.2 543.3 420 540.4 425.3 539.2C430.6 538 440.1 536.1 444.4 535C448.8 533.8 456.3 531.5 459.7 530C463.1 528.5 468.3 525.1 471.2 523.1C474.1 521.2 479.7 516.6 482.6 514.7C485.6 512.8 491.2 509.3 494.1 507.8C497 506.4 503.2 504 505.6 503.2C508 502.5 511.3 502.1 513.2 502.1C515.2 502.1 518.5 502.4 520.9 503.2C523.3 504.1 531.2 508.4 532.4 509C533.5 509.6 529.1 507.1 530 507.8C530.9 508.6 537.1 513.1 539.6 514.7C542 516.3 546.7 519.3 549.1 520.4C551.5 521.6 556.3 523.2 558.7 523.5C561.1 523.8 565.1 523.6 568.2 523.1C571.4 522.6 579.7 520.6 583.5 519.7C587.4 518.7 595.4 516.2 598.8 515.5C602.2 514.7 607.4 513.7 610.3 513.9C613.2 514.2 618.9 516.8 621.8 517.8C624.7 518.7 630.6 521 633.2 521.6C635.9 522.2 640.4 522.8 642.8 522.7C645.2 522.6 650.2 521.6 652.4 520.8C654.5 520 657.8 518.4 660 516.6C662.2 514.9 667.4 509.5 669.6 507.1C671.7 504.6 675.5 499.6 677.2 497.5C678.9 495.4 681.9 491.3 683.3 490.6C684.8 489.9 687.3 491.1 688.7 491.8C690.1 492.4 693 495.2 694.4 495.6C695.9 496 698.7 494.6 700.1 494.8C701.6 495 704.4 496.5 705.9 497.1C707.3 497.7 710.2 499.4 711.6 499.4C713.1 499.4 716 497.7 717.4 497.1C718.7 496.5 720.7 494.5 721.9 494.4C723.2 494.4 725.6 496.2 726.9 496.7C728.3 497.3 730.5 498.3 732.6 498.6C734.8 499 740.7 499.2 744.1 499.4C747.5 499.7 755.5 499.9 759.4 500.6C763.3 501.2 770.3 503.4 774.7 504.4C779.1 505.4 790.4 507.3 793.8 508.2C797.2 509.1 799.7 510.6 801.5 511.6C803.3 512.7 806 516.1 808 516.2C809.9 516.4 814.4 514.1 816.8 512.8C819.1 511.5 824 508.3 826.3 506.3C828.6 504.3 832.9 498.1 835.1 496.7C837.3 495.4 841 495.6 843.5 495.6C846 495.5 852.1 496 855 496.4C857.9 496.7 863.6 498.3 866.5 498.6C869.4 499 875 499 877.9 499C880.8 499.1 887.2 499.1 889.4 499C891.6 498.9 894.4 498.4 895.1 498.3" fill="none" stroke="#111" stroke-width="1.7" stroke-linejoin="round"/>
<path d="M169.1 907.4C176.4 907.4 216.3 907.3 226.5 907.1C236.6 906.8 244.1 906.1 249.4 905.5C254.7 904.9 263.7 903.3 268.5 902.5C273.4 901.6 282.8 899.5 287.6 898.6C292.5 897.8 302.4 896.4 306.8 896C311.1 895.6 317.7 895.5 322.1 895.6C326.4 895.7 336.3 896.4 341.2 896.7C346 897.1 354.5 898 360.3 898.3C366.1 898.6 379.8 898.7 387.1 899C394.3 899.3 410.9 900.3 417.6 900.6C424.4 900.8 434.8 901.3 440.6 901.3C446.4 901.3 457.7 901 463.5 900.6C469.3 900.1 481.1 898.6 486.5 897.9C491.8 897.2 501.2 895.9 505.6 895.2C509.9 894.5 518 892.9 520.9 892.5C523.8 892.1 527.4 892.2 528.5 892.1C529.7 892.1 528.8 892 530 892.1C531.2 892.3 535.2 892.7 537.6 893.3C540.1 893.9 546.2 895.9 549.1 896.7C552 897.6 557.9 899.2 560.6 899.8C563.3 900.4 568.2 901.6 570.1 901.7C572.1 901.8 573.9 901.7 575.9 900.6C577.8 899.4 583 895.5 585.4 892.9C587.9 890.3 592.8 883 595 880.3C597.2 877.6 601 873.3 602.6 871.9C604.3 870.5 606.9 869.5 608.4 869.2C609.8 868.9 611.9 869.1 614.1 869.6C616.3 870.1 622.2 872.1 625.6 873C629 873.9 638 876.2 640.9 876.9C643.8 877.5 646.6 878.1 648.5 878.4C650.5 878.6 654.5 879.2 656.2 878.8C657.9 878.3 660 876.7 661.9 874.9C663.8 873.2 668.8 867.4 671.5 865C674.1 862.6 680.8 857.6 682.9 856.2C685.1 854.8 687.2 854.2 688.7 853.9C690.1 853.6 693 853.6 694.4 853.9C695.9 854.3 698 855.9 700.1 856.6C702.3 857.3 709 858.6 711.6 859.6C714.3 860.7 718.5 864 721.2 865C723.8 866 729.3 867.1 732.6 867.3C736 867.5 744.6 867.2 747.9 866.9C751.3 866.7 756.5 865.4 759.4 865.4C762.3 865.3 767.5 866.5 770.9 866.5C774.3 866.6 782.8 866.2 786.2 865.8C789.6 865.3 794.9 863.6 797.6 863.1C800.4 862.6 805.5 863 808 861.6C810.4 860.1 814.4 854.3 816.8 851.6C819.1 848.9 824 843 826.3 840.1C828.6 837.3 832.9 830.7 835.1 829.1C837.3 827.5 841 827.9 843.5 827.5C846 827.2 852.8 826.5 855 826.4C857.2 826.3 858.8 826.3 860.7 826.8C862.7 827.2 868.1 829.1 870.3 829.8C872.5 830.6 876.2 831.7 877.9 832.5C879.6 833.3 882.2 835.8 883.7 836.3C885.1 836.8 888 835.7 889.4 836.3C890.9 837 894.4 840.7 895.1 841.3" fill="none" stroke="#111" stroke-width="1.7" stroke-linejoin="round"/>
<path d="M169.1 1128.3C178.8 1128.2 234.8 1128 245.6 1127.6C256.3 1127.1 252.2 1125.9 254 1124.9C255.8 1123.9 258.3 1120.8 259.7 1119.5C261.2 1118.3 263.8 1115.8 265.5 1114.9C267.2 1114.1 270.9 1112.8 273.1 1112.6C275.3 1112.5 280.3 1113.1 282.7 1113.8C285.1 1114.5 289.8 1117.2 292.2 1118.4C294.7 1119.6 299.4 1122.4 301.8 1123.4C304.2 1124.3 306.4 1125.3 311.4 1125.6C316.3 1126 332.6 1125.9 341.2 1126C349.8 1126.2 368.8 1126.8 379.4 1126.8C390.1 1126.8 415.6 1126.4 425.3 1126C435 1125.7 450 1124.8 455.9 1124.1C461.8 1123.4 468 1121.4 471.9 1120.3C475.9 1119.2 483.8 1116.6 487.2 1115.7C490.6 1114.8 495.8 1113.4 498.7 1113C501.6 1112.7 507.3 1112.8 510.2 1113C513.1 1113.3 518.7 1114.2 521.6 1114.9C524.6 1115.7 532.1 1118.3 533.1 1118.8C534.2 1119.3 528.9 1118.4 530 1118.8C531.1 1119.2 538.6 1121.2 541.5 1121.9C544.4 1122.6 549.6 1124 552.9 1124.6C556.3 1125.1 564.4 1125.8 568.2 1126.1C572.1 1126.3 578.7 1126.5 583.5 1126.5C588.4 1126.5 600.7 1126.3 606.5 1126.1C612.3 1125.9 624.6 1125.4 629.4 1124.9C634.3 1124.5 641.3 1123.4 644.7 1122.6C648.1 1121.9 653.3 1120 656.2 1118.8C659.1 1117.6 664.7 1114.8 667.6 1113.1C670.6 1111.4 676.7 1107 679.1 1105.4C681.5 1103.8 684.7 1101.2 686.8 1100.5C688.8 1099.7 693.1 1099 695.2 1099.7C697.2 1100.4 700.9 1104.5 702.8 1106.2C704.8 1107.9 708.5 1111.9 710.5 1113.5C712.4 1115.1 716.2 1118.1 718.1 1118.8C720.1 1119.5 723.8 1119.4 725.8 1118.8C727.7 1118.2 731.5 1115.6 733.4 1114.2C735.3 1112.9 739.1 1109 741.1 1108.1C743 1107.2 746.8 1106.6 748.7 1107C750.6 1107.4 754.4 1109.7 756.4 1111.2C758.3 1112.7 762.1 1117.2 764 1118.8C765.9 1120.4 769.7 1123 771.6 1123.8C773.6 1124.6 777.4 1125.5 779.3 1125.3C781.2 1125.2 784.6 1123.4 786.9 1122.6C789.3 1121.9 794.8 1120.3 797.6 1119.6C800.5 1118.9 806.2 1118.1 809.1 1116.9C812 1115.7 817.7 1111.9 820.6 1110.4C823.5 1108.9 829.4 1106 832.1 1105.1C834.7 1104.1 839.3 1102.8 841.6 1102.8C843.9 1102.8 848.3 1103.7 850.4 1105.1C852.5 1106.5 856.1 1111.8 858.1 1113.9C860 1115.9 863.8 1120 865.7 1121.5C867.6 1123 871.7 1124.8 873.4 1125.3C875 1125.8 877.3 1126 878.7 1125.3C880.1 1124.6 883 1120.8 884.4 1119.6C885.9 1118.4 888.8 1115.9 890.2 1115.8C891.5 1115.7 894.5 1118.4 895.1 1118.8" fill="none" stroke="#2a3a98" stroke-width="1.6" stroke-linejoin="round" stroke-dasharray="12 8.5"/>
<path d="M169.1 1128.3C178.8 1128.2 234.9 1128 245.6 1127.6C256.2 1127.1 251.5 1125.9 253.2 1124.9C254.9 1123.9 257.5 1120.8 259 1119.5C260.4 1118.3 263 1115.8 264.7 1114.9C266.4 1114.1 270.2 1112.8 272.4 1112.6C274.5 1112.5 279.5 1113.1 281.9 1113.8C284.3 1114.5 289 1117.2 291.5 1118.4C293.9 1119.6 298.6 1122.4 301 1123.4C303.5 1124.3 305.5 1125.4 310.6 1125.6C315.7 1125.9 332.5 1125.6 341.2 1125.6C349.9 1125.7 368.8 1126.4 379.4 1126.4C390.1 1126.4 415.6 1126 425.3 1125.6C435 1125.3 450.1 1124.5 455.9 1123.7C461.7 1123 467.3 1121 471.2 1119.9C475.1 1118.8 483.1 1116.2 486.5 1115.3C489.9 1114.4 495 1113 497.9 1112.6C500.8 1112.3 506.5 1112.4 509.4 1112.6C512.3 1112.9 518 1113.8 520.9 1114.6C523.8 1115.3 531.2 1117.9 532.4 1118.4C533.5 1118.8 528.8 1117.7 530 1118.1C531.2 1118.4 538.6 1120.4 541.5 1121.1C544.4 1121.8 549.6 1123.2 552.9 1123.8C556.3 1124.4 564.4 1125.4 568.2 1125.7C572.1 1126 578.7 1126.1 583.5 1126.1C588.4 1126.1 600.7 1125.9 606.5 1125.7C612.3 1125.5 624.6 1125 629.4 1124.6C634.3 1124.1 641.3 1122.7 644.7 1121.9C648.1 1121.1 653.3 1119.3 656.2 1118.1C659.1 1116.8 664.7 1114 667.6 1112.3C670.6 1110.6 676.7 1106.2 679.1 1104.7C681.5 1103.1 684.8 1100.8 686.8 1100.1C688.7 1099.4 692.5 1098.7 694.4 1099.3C696.3 1100 700.1 1103.4 702.1 1105.1C704 1106.7 707.8 1110.7 709.7 1112.3C711.6 1114 715.4 1117.3 717.4 1118.1C719.3 1118.8 723.1 1118.4 725 1118.1C726.9 1117.7 730.7 1116 732.6 1115C734.6 1114 738.4 1111.1 740.3 1110.4C742.2 1109.7 746 1109 747.9 1109.3C749.9 1109.5 753.7 1111.2 755.6 1112.3C757.5 1113.4 761.3 1116.8 763.2 1118.1C765.2 1119.4 768.9 1121.8 770.9 1122.6C772.8 1123.5 776.6 1124.8 778.5 1124.6C780.5 1124.3 783.8 1121.6 786.2 1120.7C788.6 1119.9 794.7 1118.3 797.6 1117.7C800.6 1117 806.2 1116.6 809.1 1115.8C812 1114.9 817.7 1112.4 820.6 1111.2C823.5 1110 829.4 1107.2 832.1 1106.2C834.7 1105.2 839.4 1103.6 841.6 1103.5C843.8 1103.4 847.3 1104.2 849.3 1105.4C851.2 1106.7 855 1111.2 856.9 1113.1C858.8 1115 862.6 1119.3 864.6 1120.7C866.5 1122.2 870.5 1124.1 872.2 1124.6C873.9 1125 876.5 1125.3 877.9 1124.6C879.4 1123.8 882.2 1120 883.7 1118.8C885.1 1117.6 888 1114.8 889.4 1115C890.9 1115.2 894.4 1120 895.1 1120.7" fill="none" stroke="#c8232c" stroke-width="1.6" stroke-linejoin="round" stroke-dasharray="12 8.5"/>
<path d="M169.1 1127.9C178.8 1127.8 233.5 1127.4 245.6 1127.2C257.7 1126.9 259.9 1126.3 264.7 1126C269.5 1125.7 279 1125.1 283.8 1124.9C288.7 1124.6 299.1 1124.3 302.9 1124.1C306.8 1123.9 311 1123.4 314.4 1123.4C317.8 1123.4 325.3 1123.9 329.7 1124.1C334.1 1124.4 342.5 1125.2 348.8 1125.3C355.1 1125.4 370.7 1125 379.4 1124.9C388.1 1124.7 408.9 1124.4 417.6 1124.1C426.4 1123.9 441.9 1123.3 448.2 1123C454.5 1122.6 462.5 1122 467.4 1121.4C472.2 1120.9 482.1 1119.3 486.5 1118.8C490.8 1118.2 498.4 1117.1 501.8 1116.9C505.2 1116.6 509.8 1116.4 513.2 1116.5C516.6 1116.6 526.4 1117.4 528.5 1117.6C530.7 1117.8 528.4 1117.7 530 1118.1C531.6 1118.4 538.6 1119.7 541.5 1120.4C544.4 1121 549.6 1122.9 552.9 1123.4C556.3 1123.9 564.4 1124.7 568.2 1124.6C572.1 1124.5 580.1 1123 583.5 1122.6C586.9 1122.3 592.1 1121.7 595 1121.5C597.9 1121.3 603.6 1121 606.5 1121.1C609.4 1121.3 615 1122.3 617.9 1122.6C620.8 1123 626 1124.2 629.4 1124.2C632.8 1124.2 641.3 1122.7 644.7 1122.6C648.1 1122.6 653.3 1123.6 656.2 1123.4C659.1 1123.3 664.7 1121.9 667.6 1121.5C670.6 1121.1 676.2 1119.9 679.1 1120C682 1120 687.7 1121.5 690.6 1121.9C693.5 1122.3 699.4 1123.1 702.1 1123C704.7 1123 709.2 1121.9 711.6 1121.5C714 1121.1 718.5 1119.9 721.2 1119.6C723.8 1119.2 729.7 1118.5 732.6 1118.8C735.6 1119.1 740.7 1121.3 744.1 1121.9C747.5 1122.5 755.5 1123.6 759.4 1123.8C763.3 1124 771.3 1123.1 774.7 1123.4C778.1 1123.8 783.3 1125.7 786.2 1126.5C789.1 1127.2 795.6 1129 797.6 1129.5C799.7 1130 800.5 1130.8 802.2 1130.3C803.9 1129.8 808.7 1126.8 811 1125.7C813.4 1124.6 818.2 1122.4 820.6 1121.5C823 1120.6 828 1118.8 830.1 1118.8C832.3 1118.9 835.9 1121.4 837.8 1121.9C839.7 1122.4 843.3 1122.9 845.4 1122.6C847.6 1122.4 852.8 1120.4 855 1119.6C857.2 1118.8 860.7 1116.8 862.6 1116.1C864.6 1115.5 868.4 1114.5 870.3 1114.2C872.2 1114 876 1113.9 877.9 1114.2C879.9 1114.6 883.4 1116.9 885.6 1116.9C887.8 1116.9 893.9 1114.6 895.1 1114.2" fill="none" stroke="#c8232c" stroke-width="1.5" stroke-linejoin="round"/>
<path d="M169.1 1127.9C178.8 1127.9 234 1127.8 245.6 1127.6C257.2 1127.3 257 1126.6 260.9 1125.6C264.8 1124.7 272.3 1121.6 276.2 1120.3C280.1 1119 287.6 1116.3 291.5 1115.3C295.3 1114.3 302.9 1112.8 306.8 1112.3C310.6 1111.7 319.2 1111 322.1 1110.7C325 1110.5 327.3 1110.1 329.7 1110.4C332.1 1110.6 337.8 1111.9 341.2 1112.6C344.6 1113.4 351.6 1115.7 356.5 1116.1C361.3 1116.5 373.6 1116.2 379.4 1116.1C385.2 1115.9 396.5 1115.3 402.4 1114.9C408.2 1114.6 419.5 1113.5 425.3 1113C431.1 1112.6 443.4 1112 448.2 1111.5C453.1 1111 460.1 1110.1 463.5 1109.2C466.9 1108.3 472.1 1106 475 1104.2C477.9 1102.5 483.6 1097.9 486.5 1095.4C489.4 1093 495 1087.4 497.9 1085.1C500.8 1082.8 506.7 1078.6 509.4 1077.1C512.1 1075.6 516.8 1073.8 519 1073.3C521.1 1072.7 524.7 1072.6 526.6 1072.9C528.6 1073.2 533.8 1075.5 534.3 1075.6C534.7 1075.7 529.6 1073.3 530 1073.7C530.4 1074.1 535.5 1077.1 537.6 1078.7C539.8 1080.3 544.8 1084.5 547.2 1086.3C549.6 1088.1 554.3 1091.5 556.8 1092.8C559.2 1094.1 564 1096.1 566.3 1096.6C568.6 1097.2 573.2 1097.5 575.1 1097C577.1 1096.5 580.1 1094.4 581.6 1092.8C583.2 1091.2 585.7 1088.6 587.4 1084.4C589 1080.2 593.1 1065.6 595 1059.6C596.9 1053.5 601 1040.8 602.6 1036.6C604.3 1032.5 607 1027.9 608.4 1026.7C609.7 1025.5 612 1025.8 613.4 1027.1C614.7 1028.3 617.2 1033.5 618.7 1036.6C620.3 1039.8 623.5 1047.6 625.6 1051.9C627.7 1056.3 632.7 1067.2 635.1 1071C637.6 1074.9 642.5 1080 644.7 1082.5C646.9 1085 650.8 1089.3 652.4 1090.9C653.9 1092.5 655.7 1095.1 656.9 1095.1C658.2 1095.2 660.6 1092.2 661.9 1091.3C663.3 1090.4 666.2 1089.8 667.6 1088.2C669.1 1086.6 671.9 1082.1 673.4 1078.7C674.8 1075.3 677.8 1065.4 679.1 1061.5C680.4 1057.5 682.5 1048.5 683.7 1047.3C684.9 1046.1 687.3 1051.1 688.7 1051.9C690 1052.7 693 1053.9 694.4 1053.4C695.9 1053 698.8 1048.8 700.1 1048.1C701.5 1047.4 703.7 1047.5 705.1 1048.1C706.6 1048.7 710.1 1052.4 711.6 1052.7C713.2 1052.9 716 1050.3 717.4 1050C718.7 1049.7 720.7 1048.8 721.9 1050C723.2 1051.2 725.6 1056.7 726.9 1059.6C728.3 1062.5 731 1070.1 732.6 1072.9C734.3 1075.8 738.6 1080 740.3 1081.7C742 1083.4 744.3 1085.5 746 1086.3C747.7 1087.1 751.5 1087.8 753.7 1087.9C755.9 1087.9 761.1 1087 763.2 1086.7C765.4 1086.4 769.2 1085.3 770.9 1085.2C772.6 1085 775.2 1085 776.6 1085.6C778.1 1086.1 780.9 1088.7 782.4 1089.4C783.8 1090.1 786.6 1090.9 788.1 1090.9C789.5 1091 792 1090.7 793.8 1089.8C795.6 1088.8 800.4 1086.7 802.2 1083.6C804 1080.5 806.4 1070.8 808 1065.3C809.6 1059.8 813 1046.3 814.9 1040.4C816.7 1034.6 820.7 1023.6 822.5 1019.4C824.3 1015.2 827.4 1009 829 1007.2C830.6 1005.4 833.7 1004.7 835.1 1005.3C836.6 1005.8 839.1 1010.8 840.5 1011.8C841.9 1012.7 844.8 1013.9 846.2 1012.9C847.6 1011.9 850.1 1007.2 851.2 1004.1C852.3 1001.1 854 992.5 855 988.8C856 985.2 857.9 978.6 858.8 975.4C859.8 972.3 861.6 967.1 862.6 964C863.7 960.8 865.9 953.5 867.2 950.6C868.5 947.7 871.5 941.9 873 941C874.4 940.2 877.3 941.8 878.7 943.7C880.2 945.6 883.1 952.4 884.4 956.3C885.8 960.2 888.1 972 889.4 974.7C890.8 977.4 894.4 977.3 895.1 977.7" fill="none" stroke="#2a3a98" stroke-width="1.5" stroke-linejoin="round"/>
<rect x="151.8" y="34.7" width="760.9" height="208.4" fill="none" stroke="#4d4d4d" stroke-width="1.4"/>
<rect x="151.8" y="254.2" width="760.9" height="208.3" fill="none" stroke="#4d4d4d" stroke-width="1.4"/>
<rect x="151.8" y="472.9" width="760.9" height="103.9" fill="none" stroke="#4d4d4d" stroke-width="1.4"/>
<rect x="151.8" y="588.3" width="760.9" height="208.4" fill="none" stroke="#4d4d4d" stroke-width="1.4"/>
<rect x="151.8" y="806.3" width="760.9" height="104" fill="none" stroke="#4d4d4d" stroke-width="1.4"/>
<rect x="151.8" y="922.5" width="760.9" height="208.1" fill="none" stroke="#4d4d4d" stroke-width="1.4"/>
<path d="M169.7 34.7V40.3M169.7 243.1V237.5M304.9 34.7V40.3M304.9 243.1V237.5M440.1 34.7V40.3M440.1 243.1V237.5M575.3 34.7V40.3M575.3 243.1V237.5M710.5 34.7V40.3M710.5 243.1V237.5M845.7 34.7V40.3M845.7 243.1V237.5M169.7 254.2V259.8M169.7 462.5V456.9M304.9 254.2V259.8M304.9 462.5V456.9M440.1 254.2V259.8M440.1 462.5V456.9M575.3 254.2V259.8M575.3 462.5V456.9M710.5 254.2V259.8M710.5 462.5V456.9M845.7 254.2V259.8M845.7 462.5V456.9M169.7 472.9V478.5M169.7 576.8V571.2M304.9 472.9V478.5M304.9 576.8V571.2M440.1 472.9V478.5M440.1 576.8V571.2M575.3 472.9V478.5M575.3 576.8V571.2M710.5 472.9V478.5M710.5 576.8V571.2M845.7 472.9V478.5M845.7 576.8V571.2M169.7 588.3V593.9M169.7 796.7V791.1M304.9 588.3V593.9M304.9 796.7V791.1M440.1 588.3V593.9M440.1 796.7V791.1M575.3 588.3V593.9M575.3 796.7V791.1M710.5 588.3V593.9M710.5 796.7V791.1M845.7 588.3V593.9M845.7 796.7V791.1M169.7 806.3V811.9M169.7 910.3V904.7M304.9 806.3V811.9M304.9 910.3V904.7M440.1 806.3V811.9M440.1 910.3V904.7M575.3 806.3V811.9M575.3 910.3V904.7M710.5 806.3V811.9M710.5 910.3V904.7M845.7 806.3V811.9M845.7 910.3V904.7M169.7 922.5V928.1M169.7 1130.6V1125M304.9 922.5V928.1M304.9 1130.6V1125M440.1 922.5V928.1M440.1 1130.6V1125M575.3 922.5V928.1M575.3 1130.6V1125M710.5 922.5V928.1M710.5 1130.6V1125M845.7 922.5V928.1M845.7 1130.6V1125M151.8 210.2H157.3M912.7 210.2H907.2M151.8 167.3H157.3M912.7 167.3H907.2M151.8 124.5H157.3M912.7 124.5H907.2M151.8 81.7H157.3M912.7 81.7H907.2M151.8 38.8H157.3M912.7 38.8H907.2M151.8 575H157.3M912.7 575H907.2M151.8 558H157.3M912.7 558H907.2M151.8 541H157.3M912.7 541H907.2M151.8 524H157.3M912.7 524H907.2M151.8 507H157.3M912.7 507H907.2M151.8 490H157.3M912.7 490H907.2M151.8 473H157.3M912.7 473H907.2M151.8 907.7H157.3M912.7 907.7H907.2M151.8 882.4H157.3M912.7 882.4H907.2M151.8 857.1H157.3M912.7 857.1H907.2M151.8 831.8H157.3M912.7 831.8H907.2M151.8 806.5H157.3M912.7 806.5H907.2M151.8 1128.1H157.3M912.7 1128.1H907.2M151.8 1098.8H157.3M912.7 1098.8H907.2M151.8 1069.5H157.3M912.7 1069.5H907.2M151.8 1040.2H157.3M912.7 1040.2H907.2M151.8 1010.9H157.3M912.7 1010.9H907.2M151.8 981.6H157.3M912.7 981.6H907.2M151.8 952.3H157.3M912.7 952.3H907.2M151.8 923H157.3M912.7 923H907.2M151.8 458.4H157.3M912.7 458.4H907.2M151.8 360.4H157.3M912.7 360.4H907.2M151.8 330.8H157.3M912.7 330.8H907.2M151.8 301.3H157.3M912.7 301.3H907.2M151.8 262.3H157.3M912.7 262.3H907.2M151.8 792.5H157.3M912.7 792.5H907.2M151.8 694.5H157.3M912.7 694.5H907.2M151.8 664.9H157.3M912.7 664.9H907.2M151.8 635.4H157.3M912.7 635.4H907.2M151.8 596.4H157.3M912.7 596.4H907.2" stroke="#262626" stroke-width="1.2" fill="none"/>
<path d="M196.7 34.7V38.4M196.7 243.1V239.4M223.8 34.7V38.4M223.8 243.1V239.4M250.8 34.7V38.4M250.8 243.1V239.4M277.9 34.7V38.4M277.9 243.1V239.4M331.9 34.7V38.4M331.9 243.1V239.4M359 34.7V38.4M359 243.1V239.4M386 34.7V38.4M386 243.1V239.4M413.1 34.7V38.4M413.1 243.1V239.4M467.1 34.7V38.4M467.1 243.1V239.4M494.2 34.7V38.4M494.2 243.1V239.4M521.2 34.7V38.4M521.2 243.1V239.4M548.3 34.7V38.4M548.3 243.1V239.4M602.3 34.7V38.4M602.3 243.1V239.4M629.4 34.7V38.4M629.4 243.1V239.4M656.4 34.7V38.4M656.4 243.1V239.4M683.5 34.7V38.4M683.5 243.1V239.4M737.5 34.7V38.4M737.5 243.1V239.4M764.6 34.7V38.4M764.6 243.1V239.4M791.6 34.7V38.4M791.6 243.1V239.4M818.7 34.7V38.4M818.7 243.1V239.4M872.7 34.7V38.4M872.7 243.1V239.4M899.8 34.7V38.4M899.8 243.1V239.4M196.7 254.2V257.9M196.7 462.5V458.8M223.8 254.2V257.9M223.8 462.5V458.8M250.8 254.2V257.9M250.8 462.5V458.8M277.9 254.2V257.9M277.9 462.5V458.8M331.9 254.2V257.9M331.9 462.5V458.8M359 254.2V257.9M359 462.5V458.8M386 254.2V257.9M386 462.5V458.8M413.1 254.2V257.9M413.1 462.5V458.8M467.1 254.2V257.9M467.1 462.5V458.8M494.2 254.2V257.9M494.2 462.5V458.8M521.2 254.2V257.9M521.2 462.5V458.8M548.3 254.2V257.9M548.3 462.5V458.8M602.3 254.2V257.9M602.3 462.5V458.8M629.4 254.2V257.9M629.4 462.5V458.8M656.4 254.2V257.9M656.4 462.5V458.8M683.5 254.2V257.9M683.5 462.5V458.8M737.5 254.2V257.9M737.5 462.5V458.8M764.6 254.2V257.9M764.6 462.5V458.8M791.6 254.2V257.9M791.6 462.5V458.8M818.7 254.2V257.9M818.7 462.5V458.8M872.7 254.2V257.9M872.7 462.5V458.8M899.8 254.2V257.9M899.8 462.5V458.8M196.7 472.9V476.6M196.7 576.8V573.1M223.8 472.9V476.6M223.8 576.8V573.1M250.8 472.9V476.6M250.8 576.8V573.1M277.9 472.9V476.6M277.9 576.8V573.1M331.9 472.9V476.6M331.9 576.8V573.1M359 472.9V476.6M359 576.8V573.1M386 472.9V476.6M386 576.8V573.1M413.1 472.9V476.6M413.1 576.8V573.1M467.1 472.9V476.6M467.1 576.8V573.1M494.2 472.9V476.6M494.2 576.8V573.1M521.2 472.9V476.6M521.2 576.8V573.1M548.3 472.9V476.6M548.3 576.8V573.1M602.3 472.9V476.6M602.3 576.8V573.1M629.4 472.9V476.6M629.4 576.8V573.1M656.4 472.9V476.6M656.4 576.8V573.1M683.5 472.9V476.6M683.5 576.8V573.1M737.5 472.9V476.6M737.5 576.8V573.1M764.6 472.9V476.6M764.6 576.8V573.1M791.6 472.9V476.6M791.6 576.8V573.1M818.7 472.9V476.6M818.7 576.8V573.1M872.7 472.9V476.6M872.7 576.8V573.1M899.8 472.9V476.6M899.8 576.8V573.1M196.7 588.3V592M196.7 796.7V793M223.8 588.3V592M223.8 796.7V793M250.8 588.3V592M250.8 796.7V793M277.9 588.3V592M277.9 796.7V793M331.9 588.3V592M331.9 796.7V793M359 588.3V592M359 796.7V793M386 588.3V592M386 796.7V793M413.1 588.3V592M413.1 796.7V793M467.1 588.3V592M467.1 796.7V793M494.2 588.3V592M494.2 796.7V793M521.2 588.3V592M521.2 796.7V793M548.3 588.3V592M548.3 796.7V793M602.3 588.3V592M602.3 796.7V793M629.4 588.3V592M629.4 796.7V793M656.4 588.3V592M656.4 796.7V793M683.5 588.3V592M683.5 796.7V793M737.5 588.3V592M737.5 796.7V793M764.6 588.3V592M764.6 796.7V793M791.6 588.3V592M791.6 796.7V793M818.7 588.3V592M818.7 796.7V793M872.7 588.3V592M872.7 796.7V793M899.8 588.3V592M899.8 796.7V793M196.7 806.3V810M196.7 910.3V906.6M223.8 806.3V810M223.8 910.3V906.6M250.8 806.3V810M250.8 910.3V906.6M277.9 806.3V810M277.9 910.3V906.6M331.9 806.3V810M331.9 910.3V906.6M359 806.3V810M359 910.3V906.6M386 806.3V810M386 910.3V906.6M413.1 806.3V810M413.1 910.3V906.6M467.1 806.3V810M467.1 910.3V906.6M494.2 806.3V810M494.2 910.3V906.6M521.2 806.3V810M521.2 910.3V906.6M548.3 806.3V810M548.3 910.3V906.6M602.3 806.3V810M602.3 910.3V906.6M629.4 806.3V810M629.4 910.3V906.6M656.4 806.3V810M656.4 910.3V906.6M683.5 806.3V810M683.5 910.3V906.6M737.5 806.3V810M737.5 910.3V906.6M764.6 806.3V810M764.6 910.3V906.6M791.6 806.3V810M791.6 910.3V906.6M818.7 806.3V810M818.7 910.3V906.6M872.7 806.3V810M872.7 910.3V906.6M899.8 806.3V810M899.8 910.3V906.6M196.7 922.5V926.2M196.7 1130.6V1126.9M223.8 922.5V926.2M223.8 1130.6V1126.9M250.8 922.5V926.2M250.8 1130.6V1126.9M277.9 922.5V926.2M277.9 1130.6V1126.9M331.9 922.5V926.2M331.9 1130.6V1126.9M359 922.5V926.2M359 1130.6V1126.9M386 922.5V926.2M386 1130.6V1126.9M413.1 922.5V926.2M413.1 1130.6V1126.9M467.1 922.5V926.2M467.1 1130.6V1126.9M494.2 922.5V926.2M494.2 1130.6V1126.9M521.2 922.5V926.2M521.2 1130.6V1126.9M548.3 922.5V926.2M548.3 1130.6V1126.9M602.3 922.5V926.2M602.3 1130.6V1126.9M629.4 922.5V926.2M629.4 1130.6V1126.9M656.4 922.5V926.2M656.4 1130.6V1126.9M683.5 922.5V926.2M683.5 1130.6V1126.9M737.5 922.5V926.2M737.5 1130.6V1126.9M764.6 922.5V926.2M764.6 1130.6V1126.9M791.6 922.5V926.2M791.6 1130.6V1126.9M818.7 922.5V926.2M818.7 1130.6V1126.9M872.7 922.5V926.2M872.7 1130.6V1126.9M899.8 922.5V926.2M899.8 1130.6V1126.9M151.8 235.9H155.1M912.7 235.9H909.4M151.8 227.3H155.1M912.7 227.3H909.4M151.8 218.8H155.1M912.7 218.8H909.4M151.8 201.6H155.1M912.7 201.6H909.4M151.8 193.1H155.1M912.7 193.1H909.4M151.8 184.5H155.1M912.7 184.5H909.4M151.8 175.9H155.1M912.7 175.9H909.4M151.8 158.8H155.1M912.7 158.8H909.4M151.8 150.2H155.1M912.7 150.2H909.4M151.8 141.6H155.1M912.7 141.6H909.4M151.8 133.1H155.1M912.7 133.1H909.4M151.8 115.9H155.1M912.7 115.9H909.4M151.8 107.4H155.1M912.7 107.4H909.4M151.8 98.8H155.1M912.7 98.8H909.4M151.8 90.2H155.1M912.7 90.2H909.4M151.8 73.1H155.1M912.7 73.1H909.4M151.8 64.5H155.1M912.7 64.5H909.4M151.8 55.9H155.1M912.7 55.9H909.4M151.8 47.4H155.1M912.7 47.4H909.4M151.8 571.6H155.1M912.7 571.6H909.4M151.8 568.2H155.1M912.7 568.2H909.4M151.8 564.8H155.1M912.7 564.8H909.4M151.8 561.4H155.1M912.7 561.4H909.4M151.8 554.6H155.1M912.7 554.6H909.4M151.8 551.2H155.1M912.7 551.2H909.4M151.8 547.8H155.1M912.7 547.8H909.4M151.8 544.4H155.1M912.7 544.4H909.4M151.8 537.6H155.1M912.7 537.6H909.4M151.8 534.2H155.1M912.7 534.2H909.4M151.8 530.8H155.1M912.7 530.8H909.4M151.8 527.4H155.1M912.7 527.4H909.4M151.8 520.6H155.1M912.7 520.6H909.4M151.8 517.2H155.1M912.7 517.2H909.4M151.8 513.8H155.1M912.7 513.8H909.4M151.8 510.4H155.1M912.7 510.4H909.4M151.8 503.6H155.1M912.7 503.6H909.4M151.8 500.2H155.1M912.7 500.2H909.4M151.8 496.8H155.1M912.7 496.8H909.4M151.8 493.4H155.1M912.7 493.4H909.4M151.8 486.6H155.1M912.7 486.6H909.4M151.8 483.2H155.1M912.7 483.2H909.4M151.8 479.8H155.1M912.7 479.8H909.4M151.8 476.4H155.1M912.7 476.4H909.4M151.8 902.6H155.1M912.7 902.6H909.4M151.8 897.6H155.1M912.7 897.6H909.4M151.8 892.5H155.1M912.7 892.5H909.4M151.8 887.5H155.1M912.7 887.5H909.4M151.8 877.3H155.1M912.7 877.3H909.4M151.8 872.3H155.1M912.7 872.3H909.4M151.8 867.2H155.1M912.7 867.2H909.4M151.8 862.2H155.1M912.7 862.2H909.4M151.8 852H155.1M912.7 852H909.4M151.8 847H155.1M912.7 847H909.4M151.8 841.9H155.1M912.7 841.9H909.4M151.8 836.9H155.1M912.7 836.9H909.4M151.8 826.7H155.1M912.7 826.7H909.4M151.8 821.7H155.1M912.7 821.7H909.4M151.8 816.6H155.1M912.7 816.6H909.4M151.8 811.6H155.1M912.7 811.6H909.4M151.8 1122.2H155.1M912.7 1122.2H909.4M151.8 1116.4H155.1M912.7 1116.4H909.4M151.8 1110.5H155.1M912.7 1110.5H909.4M151.8 1104.7H155.1M912.7 1104.7H909.4M151.8 1092.9H155.1M912.7 1092.9H909.4M151.8 1087.1H155.1M912.7 1087.1H909.4M151.8 1081.2H155.1M912.7 1081.2H909.4M151.8 1075.4H155.1M912.7 1075.4H909.4M151.8 1063.6H155.1M912.7 1063.6H909.4M151.8 1057.8H155.1M912.7 1057.8H909.4M151.8 1051.9H155.1M912.7 1051.9H909.4M151.8 1046.1H155.1M912.7 1046.1H909.4M151.8 1034.3H155.1M912.7 1034.3H909.4M151.8 1028.5H155.1M912.7 1028.5H909.4M151.8 1022.6H155.1M912.7 1022.6H909.4M151.8 1016.8H155.1M912.7 1016.8H909.4M151.8 1005H155.1M912.7 1005H909.4M151.8 999.2H155.1M912.7 999.2H909.4M151.8 993.3H155.1M912.7 993.3H909.4M151.8 987.5H155.1M912.7 987.5H909.4M151.8 975.7H155.1M912.7 975.7H909.4M151.8 969.9H155.1M912.7 969.9H909.4M151.8 964H155.1M912.7 964H909.4M151.8 958.2H155.1M912.7 958.2H909.4M151.8 946.4H155.1M912.7 946.4H909.4M151.8 940.6H155.1M912.7 940.6H909.4M151.8 934.7H155.1M912.7 934.7H909.4M151.8 928.9H155.1M912.7 928.9H909.4M151.8 389.9H156.3M912.7 389.9H908.2M151.8 343.1H155.1M912.7 343.1H909.4M151.8 321.3H155.1M912.7 321.3H909.4M151.8 313.6H155.1M912.7 313.6H909.4M151.8 307H155.1M912.7 307H909.4M151.8 296.3H155.1M912.7 296.3H909.4M151.8 291.8H156.3M912.7 291.8H908.2M151.8 287.8H155.1M912.7 287.8H909.4M151.8 284.1H155.1M912.7 284.1H909.4M151.8 280.6H155.1M912.7 280.6H909.4M151.8 277.5H155.1M912.7 277.5H909.4M151.8 274.6H155.1M912.7 274.6H909.4M151.8 271.8H155.1M912.7 271.8H909.4M151.8 269.2H155.1M912.7 269.2H909.4M151.8 266.8H155.1M912.7 266.8H909.4M151.8 264.5H155.1M912.7 264.5H909.4M151.8 260.2H155.1M912.7 260.2H909.4M151.8 258.2H155.1M912.7 258.2H909.4M151.8 256.3H155.1M912.7 256.3H909.4M151.8 724H156.3M912.7 724H908.2M151.8 677.2H155.1M912.7 677.2H909.4M151.8 655.4H155.1M912.7 655.4H909.4M151.8 647.7H155.1M912.7 647.7H909.4M151.8 641.1H155.1M912.7 641.1H909.4M151.8 630.4H155.1M912.7 630.4H909.4M151.8 625.9H156.3M912.7 625.9H908.2M151.8 621.9H155.1M912.7 621.9H909.4M151.8 618.2H155.1M912.7 618.2H909.4M151.8 614.7H155.1M912.7 614.7H909.4M151.8 611.6H155.1M912.7 611.6H909.4M151.8 608.7H155.1M912.7 608.7H909.4M151.8 605.9H155.1M912.7 605.9H909.4M151.8 603.3H155.1M912.7 603.3H909.4M151.8 600.9H155.1M912.7 600.9H909.4M151.8 598.6H155.1M912.7 598.6H909.4M151.8 594.3H155.1M912.7 594.3H909.4M151.8 592.3H155.1M912.7 592.3H909.4M151.8 590.4H155.1M912.7 590.4H909.4" stroke="#4a4a4a" stroke-width="1.1" fill="none"/>
<line x1="548.3" y1="33.9" x2="548.3" y2="1131.3" stroke="#d9912e" stroke-width="3.1"/>
<line x1="710.7" y1="33.9" x2="710.7" y2="1131.3" stroke="#d9912e" stroke-width="3.1"/>
<line x1="858.1" y1="33.9" x2="858.1" y2="1131.3" stroke="#d9912e" stroke-width="3.1"/>
<rect x="949" y="330" width="9.6" height="123.3" fill="url(#cb)"/>
<rect x="949" y="664.1" width="9.6" height="123.3" fill="url(#cb)"/>
<text stroke="#111" x="145.2" y="45" font-size="25.5" text-anchor="end" textLength="31.8" lengthAdjust="spacingAndGlyphs">0.2</text>
<text stroke="#111" x="145.2" y="87.9" font-size="25.5" text-anchor="end" textLength="44.5" lengthAdjust="spacingAndGlyphs">0.15</text>
<text stroke="#111" x="145.2" y="130.7" font-size="25.5" text-anchor="end" textLength="31.8" lengthAdjust="spacingAndGlyphs">0.1</text>
<text stroke="#111" x="145.2" y="173.5" font-size="25.5" text-anchor="end" textLength="44.5" lengthAdjust="spacingAndGlyphs">0.05</text>
<text stroke="#111" x="145.2" y="216.4" font-size="25.5" text-anchor="end" textLength="12.7" lengthAdjust="spacingAndGlyphs">0</text>
<text stroke="#111" x="145.7" y="268.1" font-size="25.5" text-anchor="end" textLength="31.8" lengthAdjust="spacingAndGlyphs">10.</text>
<text stroke="#111" x="145.7" y="307.1" font-size="25.5" text-anchor="end" textLength="19.1" lengthAdjust="spacingAndGlyphs">4.</text>
<text stroke="#111" x="145.7" y="336.6" font-size="25.5" text-anchor="end" textLength="19.1" lengthAdjust="spacingAndGlyphs">2.</text>
<text stroke="#111" x="145.7" y="366.2" font-size="25.5" text-anchor="end" textLength="19.1" lengthAdjust="spacingAndGlyphs">1.</text>
<text stroke="#111" x="145.2" y="461.8" font-size="25.5" text-anchor="end" textLength="31.8" lengthAdjust="spacingAndGlyphs">0.1</text>
<text stroke="#111" x="145.7" y="602.2" font-size="25.5" text-anchor="end" textLength="31.8" lengthAdjust="spacingAndGlyphs">10.</text>
<text stroke="#111" x="145.7" y="641.2" font-size="25.5" text-anchor="end" textLength="19.1" lengthAdjust="spacingAndGlyphs">4.</text>
<text stroke="#111" x="145.7" y="670.7" font-size="25.5" text-anchor="end" textLength="19.1" lengthAdjust="spacingAndGlyphs">2.</text>
<text stroke="#111" x="145.7" y="700.2" font-size="25.5" text-anchor="end" textLength="19.1" lengthAdjust="spacingAndGlyphs">1.</text>
<text stroke="#111" x="145.2" y="795.9" font-size="25.5" text-anchor="end" textLength="31.8" lengthAdjust="spacingAndGlyphs">0.1</text>
<text stroke="#111" x="145.2" y="482.5" font-size="25.5" text-anchor="end" textLength="31.8" lengthAdjust="spacingAndGlyphs">0.3</text>
<text stroke="#111" x="145.2" y="512.7" font-size="25.5" text-anchor="end" textLength="31.8" lengthAdjust="spacingAndGlyphs">0.2</text>
<text stroke="#111" x="145.2" y="546.4" font-size="25.5" text-anchor="end" textLength="31.8" lengthAdjust="spacingAndGlyphs">0.1</text>
<text stroke="#111" x="145.2" y="580.8" font-size="25.5" text-anchor="end" textLength="12.7" lengthAdjust="spacingAndGlyphs">0</text>
<text stroke="#111" x="145.2" y="815.6" font-size="25.5" text-anchor="end" textLength="31.8" lengthAdjust="spacingAndGlyphs">0.2</text>
<text stroke="#111" x="145.2" y="862.2" font-size="25.5" text-anchor="end" textLength="31.8" lengthAdjust="spacingAndGlyphs">0.1</text>
<text stroke="#111" x="145.2" y="913.2" font-size="25.5" text-anchor="end" textLength="12.7" lengthAdjust="spacingAndGlyphs">0</text>
<text stroke="#111" x="145.2" y="957.3" font-size="25.5" text-anchor="end" textLength="31.8" lengthAdjust="spacingAndGlyphs">0.3</text>
<text stroke="#111" x="145.2" y="1015.9" font-size="25.5" text-anchor="end" textLength="31.8" lengthAdjust="spacingAndGlyphs">0.2</text>
<text stroke="#111" x="145.2" y="1074.5" font-size="25.5" text-anchor="end" textLength="31.8" lengthAdjust="spacingAndGlyphs">0.1</text>
<text stroke="#111" x="145.2" y="1133.1" font-size="25.5" text-anchor="end" textLength="12.7" lengthAdjust="spacingAndGlyphs">0</text>
<text stroke="#111" x="171.5" y="1155.8" font-size="25.5" text-anchor="middle" textLength="12.7" lengthAdjust="spacingAndGlyphs">0</text>
<text stroke="#111" x="306.7" y="1155.8" font-size="25.5" text-anchor="middle" textLength="12.7" lengthAdjust="spacingAndGlyphs">5</text>
<text stroke="#111" x="441.9" y="1155.8" font-size="25.5" text-anchor="middle" textLength="25.4" lengthAdjust="spacingAndGlyphs">10</text>
<text stroke="#111" x="577.1" y="1155.8" font-size="25.5" text-anchor="middle" textLength="25.4" lengthAdjust="spacingAndGlyphs">15</text>
<text stroke="#111" x="712.3" y="1155.8" font-size="25.5" text-anchor="middle" textLength="25.4" lengthAdjust="spacingAndGlyphs">20</text>
<text stroke="#111" x="847.5" y="1155.8" font-size="25.5" text-anchor="middle" textLength="25.4" lengthAdjust="spacingAndGlyphs">25</text>
<text stroke="#111" x="1" y="28.3" font-size="28" textLength="32.5" lengthAdjust="spacingAndGlyphs">(a)</text>
<text stroke="#111" x="1" y="259.8" font-size="28" textLength="33" lengthAdjust="spacingAndGlyphs">(b)</text>
<text stroke="#111" x="1" y="471.9" font-size="28" textLength="30.5" lengthAdjust="spacingAndGlyphs">(c)</text>
<text stroke="#111" x="1" y="601" font-size="28" textLength="33" lengthAdjust="spacingAndGlyphs">(d)</text>
<text stroke="#111" x="1" y="808.6" font-size="28" textLength="31" lengthAdjust="spacingAndGlyphs">(e)</text>
<text stroke="#111" x="2.5" y="923" font-size="28" textLength="26" lengthAdjust="spacingAndGlyphs">(f)</text>
<text stroke="#111" x="548" y="22.6" font-size="29" text-anchor="middle" textLength="20" lengthAdjust="spacingAndGlyphs">A</text>
<text stroke="#111" x="712.5" y="22.6" font-size="29" text-anchor="middle" textLength="15.5" lengthAdjust="spacingAndGlyphs">B</text>
<text stroke="#111" x="857.5" y="22.6" font-size="29" text-anchor="middle" textLength="17" lengthAdjust="spacingAndGlyphs">C</text>
<text stroke="#111" x="60.4" y="136.4" font-size="30" text-anchor="middle" textLength="206" lengthAdjust="spacingAndGlyphs" transform="rotate(-90 60.4 136.4)">Turbulence terms</text>
<text stroke="#111" x="87.5" y="139.6" font-size="28" text-anchor="middle" textLength="85.4" lengthAdjust="spacingAndGlyphs" transform="rotate(-90 87.5 139.6)">/(V<tspan font-size="17" dy="9.5">Au</tspan><tspan dy="-9.5">B</tspan><tspan font-size="17" dy="9.5">u</tspan><tspan dy="-9.5">)</tspan></text>
<text stroke="#111" x="74" y="358.3" font-size="31" text-anchor="middle" textLength="45" lengthAdjust="spacingAndGlyphs" transform="rotate(-90 74 358.3)">k<tspan font-size="19" dy="10">y</tspan><tspan dy="-10">&#955;</tspan><tspan font-size="19" dy="10">i</tspan></text>
<text stroke="#111" x="73.3" y="520.4" font-size="27" text-anchor="middle" textLength="138.8" lengthAdjust="spacingAndGlyphs" transform="rotate(-90 73.3 520.4)">RMS(&#948;B<tspan font-size="17" dy="10">x</tspan><tspan dy="-10">)/B</tspan><tspan font-size="17" dy="10">u</tspan></text>
<text stroke="#111" x="74" y="692.4" font-size="31" text-anchor="middle" textLength="45" lengthAdjust="spacingAndGlyphs" transform="rotate(-90 74 692.4)">k<tspan font-size="19" dy="10">y</tspan><tspan dy="-10">&#955;</tspan><tspan font-size="19" dy="10">i</tspan></text>
<text stroke="#111" x="73.3" y="854.4" font-size="27" text-anchor="middle" textLength="139.6" lengthAdjust="spacingAndGlyphs" transform="rotate(-90 73.3 854.4)">RMS(&#948;B<tspan font-size="17" dy="10">z</tspan><tspan dy="-10">)/B</tspan><tspan font-size="17" dy="10">u</tspan></text>
<text stroke="#111" x="60.4" y="1039.6" font-size="30" text-anchor="middle" textLength="205" lengthAdjust="spacingAndGlyphs" transform="rotate(-90 60.4 1039.6)">Anomalous force</text>
<text stroke="#111" x="87.5" y="1040.7" font-size="28" text-anchor="middle" textLength="126" lengthAdjust="spacingAndGlyphs" transform="rotate(-90 87.5 1040.7)">/(en<tspan font-size="17" dy="9.5">u</tspan><tspan dy="-9.5">V</tspan><tspan font-size="17" dy="9.5">Au</tspan><tspan dy="-9.5">B</tspan><tspan font-size="17" dy="9.5">u</tspan><tspan dy="-9.5">)</tspan></text>
<text stroke="#111" x="497.5" y="1185.9" font-size="32" textLength="55" lengthAdjust="spacingAndGlyphs">t<tspan font-family="'Liberation Serif', serif" font-size="38">&#969;</tspan><tspan font-size="22" dy="13.6">ci</tspan></text>
<text stroke="#111" x="928" y="299.4" font-size="31" textLength="50" lengthAdjust="spacingAndGlyphs">Log</text>
<text stroke="#111" x="963" y="335.2" font-size="25.5" textLength="19.1" lengthAdjust="spacingAndGlyphs">8.</text>
<text stroke="#111" x="963" y="457.6" font-size="25.5" textLength="57.2" lengthAdjust="spacingAndGlyphs">0.004</text>
<text stroke="#111" x="928" y="633.5" font-size="31" textLength="50" lengthAdjust="spacingAndGlyphs">Log</text>
<text stroke="#111" x="963" y="669.3" font-size="25.5" textLength="19.1" lengthAdjust="spacingAndGlyphs">5.</text>
<text stroke="#111" x="963" y="791.7" font-size="25.5" textLength="57.2" lengthAdjust="spacingAndGlyphs">0.004</text>
<text stroke="#fff" x="181.3" y="290.3" font-size="27" fill="#fff" textLength="50" lengthAdjust="spacingAndGlyphs"><tspan font-family="'Liberation Serif', serif" font-size="33">&#948;</tspan>B<tspan font-size="19" dy="12.5">x</tspan></text>
<text stroke="#fff" x="323" y="362.5" font-size="30" textLength="57.5" lengthAdjust="spacingAndGlyphs" fill="#fff">CSSI</text>
<text stroke="#fff" x="322.6" y="423.3" font-size="30" textLength="62.6" lengthAdjust="spacingAndGlyphs" fill="#fff">eKHI</text>
<text stroke="#fff" x="181.3" y="624.4" font-size="27" fill="#fff" textLength="50" lengthAdjust="spacingAndGlyphs"><tspan font-family="'Liberation Serif', serif" font-size="33">&#948;</tspan>B<tspan font-size="19" dy="12.5">z</tspan></text>
<text stroke="#fff" x="323" y="696.6" font-size="30" textLength="57.5" lengthAdjust="spacingAndGlyphs" fill="#fff">CSSI</text>
<text stroke="#fff" x="322.6" y="757.4" font-size="30" textLength="62.6" lengthAdjust="spacingAndGlyphs" fill="#fff">eKHI</text>
<line x1="180.3" y1="60.6" x2="230.3" y2="60.6" stroke="#111" stroke-width="1.7"/>
<line x1="181.5" y1="90.6" x2="231" y2="90.6" stroke="#c0202a" stroke-width="3.0" stroke-dasharray="0 5.45" stroke-linecap="round"/>
<line x1="181.5" y1="118" x2="231" y2="118" stroke="#27348b" stroke-width="3.0" stroke-dasharray="0 5.45" stroke-linecap="round"/>
<line x1="178.5" y1="144.4" x2="228" y2="144.4" stroke="#7fc4dd" stroke-width="1.6"/>
<line x1="180.3" y1="170.9" x2="230.3" y2="170.9" stroke="#111" stroke-width="1.6" stroke-dasharray="13 8"/>
<line x1="458" y1="58" x2="508.3" y2="58" stroke="#e09a3c" stroke-width="1.6"/>
<text stroke="#111" x="250.9" y="65.9" font-size="20.5" textLength="181" lengthAdjust="spacingAndGlyphs">&lt;&#948;(n<tspan font-size="11.7" dy="7.6">e</tspan><tspan dy="-7.6">V</tspan><tspan font-size="11.7" dy="7.6">e</tspan><tspan dy="-7.6">)&#215;&#948;B&gt;</tspan><tspan font-size="11.7" dy="7.6">y</tspan><tspan dy="-7.6">/&lt;n</tspan><tspan font-size="11.7" dy="7.6">e</tspan><tspan dy="-7.6">&gt;</tspan></text>
<text stroke="#111" x="250.9" y="94.4" font-size="20.5" textLength="172" lengthAdjust="spacingAndGlyphs">&lt;&#948;(n<tspan font-size="11.7" dy="7.6">e</tspan><tspan dy="-7.6">V</tspan><tspan font-size="11.7" dy="7.6">ez</tspan><tspan dy="-7.6">)&#948;B</tspan><tspan font-size="11.7" dy="7.6">x</tspan><tspan dy="-7.6">&gt;/&lt;n</tspan><tspan font-size="11.7" dy="7.6">e</tspan><tspan dy="-7.6">&gt;</tspan></text>
<text stroke="#111" x="250.9" y="121.8" font-size="20.5" textLength="178.5" lengthAdjust="spacingAndGlyphs">-&lt;&#948;(n<tspan font-size="11.7" dy="7.6">e</tspan><tspan dy="-7.6">V</tspan><tspan font-size="11.7" dy="7.6">ex</tspan><tspan dy="-7.6">)&#948;B</tspan><tspan font-size="11.7" dy="7.6">z</tspan><tspan dy="-7.6">&gt;/&lt;n</tspan><tspan font-size="11.7" dy="7.6">e</tspan><tspan dy="-7.6">&gt;</tspan></text>
<text stroke="#111" x="249.4" y="149.4" font-size="20.5" textLength="132.4" lengthAdjust="spacingAndGlyphs">&lt;&#948;n<tspan font-size="11.7" dy="7.6">e</tspan><tspan dy="-7.6">&#948;E</tspan><tspan font-size="11.7" dy="7.6">y</tspan><tspan dy="-7.6">&gt;/&lt;n</tspan><tspan font-size="11.7" dy="7.6">e</tspan><tspan dy="-7.6">&gt;</tspan></text>
<text stroke="#111" x="256.8" y="177.6" font-size="20.5" textLength="17.6" lengthAdjust="spacingAndGlyphs">E<tspan font-size="11.7" dy="7.6">R</tspan></text>
<text stroke="#111" x="529.5" y="64.4" font-size="20.5" textLength="263" lengthAdjust="spacingAndGlyphs">(m<tspan font-size="11.7" dy="7.6">e</tspan><tspan dy="-7.6">/e&lt;n</tspan><tspan font-size="11.7" dy="7.6">e</tspan><tspan dy="-7.6">&gt;){&#8711;&#183;&lt;&#948;(n</tspan><tspan font-size="11.7" dy="7.6">e</tspan><tspan dy="-7.6">V</tspan><tspan font-size="11.7" dy="7.6">e</tspan><tspan dy="-7.6">)&#948;V</tspan><tspan font-size="11.7" dy="7.6">e</tspan><tspan dy="-7.6">&gt;}</tspan><tspan font-size="11.7" dy="7.6">y</tspan></text>
<line x1="199" y1="963" x2="249" y2="963" stroke="#c8232c" stroke-width="1.5"/>
<line x1="199" y1="995.3" x2="249" y2="995.3" stroke="#2a3a98" stroke-width="1.5"/>
<line x1="205" y1="1026.8" x2="250.6" y2="1026.8" stroke="#c8232c" stroke-width="1.6" stroke-dasharray="12 8.5"/>
<line x1="205" y1="1059.1" x2="250.6" y2="1059.1" stroke="#2a3a98" stroke-width="1.6" stroke-dasharray="12 8.5"/>
<text stroke="#111" x="271.8" y="967.4" font-size="20.5" textLength="130.2" lengthAdjust="spacingAndGlyphs">e&lt;&#948;(n<tspan font-size="11.7" dy="7.6">i</tspan><tspan dy="-7.6">V</tspan><tspan font-size="11.7" dy="7.6">i</tspan><tspan dy="-7.6">)&#215;&#948;B&gt;</tspan><tspan font-size="11.7" dy="7.6">y</tspan></text>
<text stroke="#111" x="271.8" y="998.8" font-size="20.5" textLength="137.6" lengthAdjust="spacingAndGlyphs">e&lt;&#948;(n<tspan font-size="11.7" dy="7.6">e</tspan><tspan dy="-7.6">V</tspan><tspan font-size="11.7" dy="7.6">e</tspan><tspan dy="-7.6">)&#215;&#948;B&gt;</tspan><tspan font-size="11.7" dy="7.6">y</tspan></text>
<text stroke="#111" x="273.5" y="1030.6" font-size="20.5" textLength="88.9" lengthAdjust="spacingAndGlyphs">e&lt;&#948;n<tspan font-size="11.7" dy="7.6">i</tspan><tspan dy="-7.6">&#948;E</tspan><tspan font-size="11.7" dy="7.6">y</tspan><tspan dy="-7.6">&gt;</tspan></text>
<text stroke="#111" x="273.5" y="1062" font-size="20.5" textLength="92.4" lengthAdjust="spacingAndGlyphs">e&lt;&#948;n<tspan font-size="11.7" dy="7.6">e</tspan><tspan dy="-7.6">&#948;E</tspan><tspan font-size="11.7" dy="7.6">y</tspan><tspan dy="-7.6">&gt;</tspan></text>
</svg></body></html>
